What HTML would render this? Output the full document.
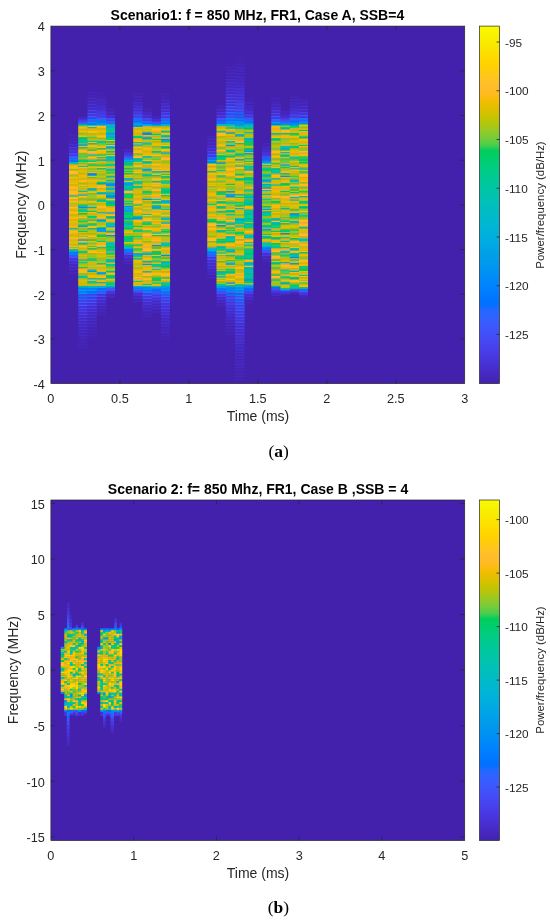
<!DOCTYPE html>
<html lang="en"><head><meta charset="utf-8"><title>Spectrograms</title>
<style>
html,body{margin:0;padding:0;background:#fff}
body{width:550px;height:923px;overflow:hidden;position:relative}
svg{position:absolute;left:0;top:0;display:block}
text{font-family:"Liberation Sans",Arial,Helvetica,sans-serif}
</style></head><body>
<svg width="550" height="923" viewBox="0 0 550 923">
<defs>
<linearGradient id="pg" x1="0" y1="1" x2="0" y2="0"><stop offset="0.0000" stop-color="#4321ad"/><stop offset="0.0159" stop-color="#4526b9"/><stop offset="0.0317" stop-color="#462ac4"/><stop offset="0.0476" stop-color="#472fd0"/><stop offset="0.0635" stop-color="#4834da"/><stop offset="0.0794" stop-color="#4839e3"/><stop offset="0.0952" stop-color="#483fea"/><stop offset="0.1111" stop-color="#4645f0"/><stop offset="0.1270" stop-color="#444bf5"/><stop offset="0.1429" stop-color="#4151f9"/><stop offset="0.1587" stop-color="#3d57fc"/><stop offset="0.1746" stop-color="#375dff"/><stop offset="0.1905" stop-color="#2f63ff"/><stop offset="0.2063" stop-color="#2269ff"/><stop offset="0.2222" stop-color="#0070ff"/><stop offset="0.2381" stop-color="#0076ff"/><stop offset="0.2540" stop-color="#007cff"/><stop offset="0.2698" stop-color="#0082fe"/><stop offset="0.2857" stop-color="#0088fb"/><stop offset="0.3016" stop-color="#008df6"/><stop offset="0.3175" stop-color="#0093f2"/><stop offset="0.3333" stop-color="#0098ee"/><stop offset="0.3492" stop-color="#009deb"/><stop offset="0.3651" stop-color="#00a1e8"/><stop offset="0.3810" stop-color="#00a6e5"/><stop offset="0.3968" stop-color="#00abe2"/><stop offset="0.4127" stop-color="#00afde"/><stop offset="0.4286" stop-color="#00b3d9"/><stop offset="0.4444" stop-color="#00b6d2"/><stop offset="0.4603" stop-color="#00b9cc"/><stop offset="0.4762" stop-color="#00bcc5"/><stop offset="0.4921" stop-color="#00bebe"/><stop offset="0.5079" stop-color="#00c1b7"/><stop offset="0.5238" stop-color="#00c3af"/><stop offset="0.5397" stop-color="#00c5a7"/><stop offset="0.5556" stop-color="#00c79f"/><stop offset="0.5714" stop-color="#00c996"/><stop offset="0.5873" stop-color="#00cb8c"/><stop offset="0.6032" stop-color="#00cd81"/><stop offset="0.6190" stop-color="#00cd76"/><stop offset="0.6349" stop-color="#00ce69"/><stop offset="0.6508" stop-color="#00ce5b"/><stop offset="0.6667" stop-color="#49cd4e"/><stop offset="0.6825" stop-color="#6dcc3f"/><stop offset="0.6984" stop-color="#89ca30"/><stop offset="0.7143" stop-color="#a0c81f"/><stop offset="0.7302" stop-color="#b5c60b"/><stop offset="0.7460" stop-color="#c8c300"/><stop offset="0.7619" stop-color="#d9c100"/><stop offset="0.7778" stop-color="#e8be00"/><stop offset="0.7937" stop-color="#f6bc05"/><stop offset="0.8095" stop-color="#ffbb1d"/><stop offset="0.8254" stop-color="#ffbc2a"/><stop offset="0.8413" stop-color="#ffbf28"/><stop offset="0.8571" stop-color="#ffc51f"/><stop offset="0.8730" stop-color="#ffcb11"/><stop offset="0.8889" stop-color="#ffd100"/><stop offset="0.9048" stop-color="#ffd700"/><stop offset="0.9206" stop-color="#ffdd00"/><stop offset="0.9365" stop-color="#fce300"/><stop offset="0.9524" stop-color="#f9ea00"/><stop offset="0.9683" stop-color="#f8ef00"/><stop offset="0.9841" stop-color="#f8f500"/><stop offset="1.0000" stop-color="#f9fb00"/><stop offset="1" stop-color="#f9fb00"/></linearGradient>
<clipPath id="c1"><rect x="50.9" y="26.1" width="413.8" height="357.5"/></clipPath>
<clipPath id="c2"><rect x="50.9" y="500.0" width="413.8" height="340.5"/></clipPath>
<filter id="bl" x="-0.05" y="-0.05" width="1.1" height="1.1"><feGaussianBlur stdDeviation="0.3"/></filter>
</defs>
<rect width="550" height="923" fill="#fff"/>
<rect x="50.9" y="26.1" width="413.8" height="357.5" fill="#4321ad"/>
<g clip-path="url(#c1)"><g filter="url(#bl)">
<rect x="69.00" y="163.00" width="9.55" height="1.60" fill="#00ca93"/>
<rect x="69.00" y="164.25" width="9.55" height="1.60" fill="#e6bf00"/>
<rect x="69.00" y="165.50" width="9.55" height="1.60" fill="#f7bc09"/>
<rect x="69.00" y="166.75" width="9.55" height="1.60" fill="#f5bc04"/>
<rect x="69.00" y="168.00" width="9.55" height="1.60" fill="#e7be00"/>
<rect x="69.00" y="169.25" width="9.55" height="1.60" fill="#96c927"/>
<rect x="69.00" y="170.50" width="9.55" height="1.60" fill="#ffbb28"/>
<rect x="69.00" y="171.75" width="9.55" height="1.60" fill="#ffbc29"/>
<rect x="69.00" y="173.00" width="9.55" height="1.60" fill="#ffbe29"/>
<rect x="69.00" y="174.25" width="9.55" height="1.60" fill="#e3bf00"/>
<rect x="69.00" y="175.50" width="9.55" height="1.60" fill="#9bc823"/>
<rect x="69.00" y="176.75" width="9.55" height="1.60" fill="#f0bd00"/>
<rect x="69.00" y="178.00" width="9.55" height="1.60" fill="#dfc000"/>
<rect x="69.00" y="179.25" width="9.55" height="1.60" fill="#f3bd02"/>
<rect x="69.00" y="180.50" width="9.55" height="1.60" fill="#f4bd03"/>
<rect x="69.00" y="181.75" width="9.55" height="1.60" fill="#c3c400"/>
<rect x="69.00" y="183.00" width="9.55" height="1.60" fill="#f8bc0b"/>
<rect x="69.00" y="184.25" width="9.55" height="1.60" fill="#ecbe00"/>
<rect x="69.00" y="185.50" width="9.55" height="1.60" fill="#f2bd01"/>
<rect x="69.00" y="186.75" width="9.55" height="1.60" fill="#f6bc07"/>
<rect x="69.00" y="188.00" width="9.55" height="1.60" fill="#fbbc13"/>
<rect x="69.00" y="189.25" width="9.55" height="1.60" fill="#ffbb24"/>
<rect x="69.00" y="190.50" width="9.55" height="1.60" fill="#fbbc12"/>
<rect x="69.00" y="191.75" width="9.55" height="1.60" fill="#ffbb22"/>
<rect x="69.00" y="193.00" width="9.55" height="1.60" fill="#febc18"/>
<rect x="69.00" y="194.25" width="9.55" height="1.60" fill="#ffbb20"/>
<rect x="69.00" y="195.50" width="9.55" height="1.60" fill="#00c89b"/>
<rect x="69.00" y="196.75" width="9.55" height="1.60" fill="#febc18"/>
<rect x="69.00" y="198.00" width="9.55" height="1.60" fill="#fdbc16"/>
<rect x="69.00" y="199.25" width="9.55" height="1.60" fill="#f1bd00"/>
<rect x="69.00" y="200.50" width="9.55" height="1.60" fill="#f9bc0f"/>
<rect x="69.00" y="201.75" width="9.55" height="1.60" fill="#f1bd00"/>
<rect x="69.00" y="203.00" width="9.55" height="1.60" fill="#92c929"/>
<rect x="69.00" y="204.25" width="9.55" height="1.60" fill="#ffbb24"/>
<rect x="69.00" y="205.50" width="9.55" height="1.60" fill="#a4c81c"/>
<rect x="69.00" y="206.75" width="9.55" height="1.60" fill="#ffbb24"/>
<rect x="69.00" y="208.00" width="9.55" height="1.60" fill="#e6bf00"/>
<rect x="69.00" y="209.25" width="9.55" height="1.60" fill="#f6bc06"/>
<rect x="69.00" y="210.50" width="9.55" height="1.60" fill="#dcc000"/>
<rect x="69.00" y="211.75" width="9.55" height="1.60" fill="#f9bc0f"/>
<rect x="69.00" y="213.00" width="9.55" height="1.60" fill="#f7bc0a"/>
<rect x="69.00" y="214.25" width="9.55" height="1.60" fill="#dfc000"/>
<rect x="69.00" y="215.50" width="9.55" height="1.60" fill="#cfc200"/>
<rect x="69.00" y="216.75" width="9.55" height="1.60" fill="#f2bd00"/>
<rect x="69.00" y="218.00" width="9.55" height="1.60" fill="#f6bc06"/>
<rect x="69.00" y="219.25" width="9.55" height="1.60" fill="#e7be00"/>
<rect x="69.00" y="220.50" width="9.55" height="1.60" fill="#efbd00"/>
<rect x="69.00" y="221.75" width="9.55" height="1.60" fill="#dcc000"/>
<rect x="69.00" y="223.00" width="9.55" height="1.60" fill="#ccc300"/>
<rect x="69.00" y="224.25" width="9.55" height="1.60" fill="#ffbb24"/>
<rect x="69.00" y="225.50" width="9.55" height="1.60" fill="#eabe00"/>
<rect x="69.00" y="226.75" width="9.55" height="1.60" fill="#e3bf00"/>
<rect x="69.00" y="228.00" width="9.55" height="1.60" fill="#00c3ae"/>
<rect x="69.00" y="229.25" width="9.55" height="1.60" fill="#e2bf00"/>
<rect x="69.00" y="230.50" width="9.55" height="1.60" fill="#ffbb22"/>
<rect x="69.00" y="231.75" width="9.55" height="1.60" fill="#f7bc09"/>
<rect x="69.00" y="233.00" width="9.55" height="1.60" fill="#e4bf00"/>
<rect x="69.00" y="234.25" width="9.55" height="1.60" fill="#f8bc0b"/>
<rect x="69.00" y="235.50" width="9.55" height="1.60" fill="#c3c400"/>
<rect x="69.00" y="236.75" width="9.55" height="1.60" fill="#e5bf00"/>
<rect x="69.00" y="238.00" width="9.55" height="1.60" fill="#ffbb1f"/>
<rect x="69.00" y="239.25" width="9.55" height="1.60" fill="#ffbb21"/>
<rect x="69.00" y="240.50" width="9.55" height="1.60" fill="#cbc300"/>
<rect x="69.00" y="241.75" width="9.55" height="1.60" fill="#e9be00"/>
<rect x="69.00" y="243.00" width="9.55" height="1.60" fill="#dec000"/>
<rect x="69.00" y="244.25" width="9.55" height="1.60" fill="#d5c100"/>
<rect x="69.00" y="245.50" width="9.55" height="1.60" fill="#ffbb28"/>
<rect x="69.00" y="246.75" width="9.55" height="1.60" fill="#79cb39"/>
<rect x="69.00" y="248.00" width="9.55" height="1.60" fill="#e8be00"/>
<rect x="69.00" y="249.25" width="9.55" height="1.60" fill="#00c997"/>
<rect x="69.00" y="250.50" width="9.55" height="0.85" fill="#00ca93"/>
<rect x="69.00" y="161.60" width="9.55" height="1.65" fill="#00b2da"/>
<rect x="69.00" y="160.00" width="9.55" height="1.85" fill="#166cff"/>
<rect x="69.00" y="158.60" width="9.55" height="1.65" fill="#007eff"/>
<rect x="69.00" y="157.00" width="9.55" height="1.85" fill="#365eff"/>
<rect x="69.00" y="155.60" width="9.55" height="1.65" fill="#395bfe"/>
<rect x="69.00" y="154.00" width="9.55" height="1.85" fill="#4837df"/>
<rect x="69.00" y="152.60" width="9.55" height="1.65" fill="#444bf4"/>
<rect x="69.00" y="151.00" width="9.55" height="1.85" fill="#472fcf"/>
<rect x="69.00" y="149.60" width="9.55" height="1.65" fill="#4839e2"/>
<rect x="69.00" y="148.00" width="9.55" height="1.85" fill="#462bc7"/>
<rect x="69.00" y="146.60" width="9.55" height="1.65" fill="#4834db"/>
<rect x="69.00" y="145.00" width="9.55" height="1.85" fill="#4527bd"/>
<rect x="69.00" y="143.60" width="9.55" height="1.65" fill="#472ece"/>
<rect x="69.00" y="140.60" width="9.55" height="1.65" fill="#4629c1"/>
<rect x="69.00" y="137.60" width="9.55" height="1.65" fill="#4526ba"/>
<rect x="69.00" y="134.60" width="9.55" height="1.65" fill="#4425b8"/>
<rect x="69.00" y="251.00" width="9.55" height="1.65" fill="#00a4e7"/>
<rect x="69.00" y="252.40" width="9.55" height="1.85" fill="#007dff"/>
<rect x="69.00" y="254.00" width="9.55" height="1.65" fill="#0083fd"/>
<rect x="69.00" y="255.40" width="9.55" height="1.85" fill="#424ff7"/>
<rect x="69.00" y="257.00" width="9.55" height="1.65" fill="#3f54fa"/>
<rect x="69.00" y="258.40" width="9.55" height="1.85" fill="#4830d2"/>
<rect x="69.00" y="260.00" width="9.55" height="1.65" fill="#4740ea"/>
<rect x="69.00" y="261.40" width="9.55" height="1.85" fill="#472cc8"/>
<rect x="69.00" y="263.00" width="9.55" height="1.65" fill="#4833da"/>
<rect x="69.00" y="264.40" width="9.55" height="1.85" fill="#4528be"/>
<rect x="69.00" y="266.00" width="9.55" height="1.65" fill="#472dca"/>
<rect x="69.00" y="267.40" width="9.55" height="1.85" fill="#4526ba"/>
<rect x="69.00" y="269.00" width="9.55" height="1.65" fill="#4629c1"/>
<rect x="69.00" y="272.00" width="9.55" height="1.65" fill="#4527bc"/>
<rect x="78.25" y="124.50" width="9.55" height="1.60" fill="#00c7a0"/>
<rect x="78.25" y="125.75" width="9.55" height="1.60" fill="#acc715"/>
<rect x="78.25" y="127.00" width="9.55" height="1.60" fill="#f4bd03"/>
<rect x="78.25" y="128.25" width="9.55" height="1.60" fill="#febc18"/>
<rect x="78.25" y="129.50" width="9.55" height="1.60" fill="#bcc502"/>
<rect x="78.25" y="130.75" width="9.55" height="1.60" fill="#f6bc08"/>
<rect x="78.25" y="132.00" width="9.55" height="1.60" fill="#b7c508"/>
<rect x="78.25" y="133.25" width="9.55" height="1.60" fill="#a6c71a"/>
<rect x="78.25" y="134.50" width="9.55" height="1.60" fill="#c4c400"/>
<rect x="78.25" y="135.75" width="9.55" height="1.60" fill="#f4bd03"/>
<rect x="78.25" y="137.00" width="9.55" height="1.60" fill="#00cd7c"/>
<rect x="78.25" y="138.25" width="9.55" height="1.60" fill="#00cd7d"/>
<rect x="78.25" y="139.50" width="9.55" height="1.60" fill="#00cc84"/>
<rect x="78.25" y="140.75" width="9.55" height="1.60" fill="#00cd80"/>
<rect x="78.25" y="142.00" width="9.55" height="1.60" fill="#00bec0"/>
<rect x="78.25" y="143.25" width="9.55" height="1.60" fill="#89ca2f"/>
<rect x="78.25" y="144.50" width="9.55" height="1.60" fill="#008ef6"/>
<rect x="78.25" y="145.75" width="9.55" height="1.60" fill="#f0bd00"/>
<rect x="78.25" y="147.00" width="9.55" height="1.60" fill="#00cd7a"/>
<rect x="78.25" y="148.25" width="9.55" height="1.60" fill="#9bc923"/>
<rect x="78.25" y="149.50" width="9.55" height="1.60" fill="#fcbc14"/>
<rect x="78.25" y="150.75" width="9.55" height="1.60" fill="#fdbc17"/>
<rect x="78.25" y="152.00" width="9.55" height="1.60" fill="#e7be00"/>
<rect x="78.25" y="153.25" width="9.55" height="1.60" fill="#81cb34"/>
<rect x="78.25" y="154.50" width="9.55" height="1.60" fill="#63cc44"/>
<rect x="78.25" y="155.75" width="9.55" height="1.60" fill="#4ecd4c"/>
<rect x="78.25" y="157.00" width="9.55" height="1.60" fill="#67cc42"/>
<rect x="78.25" y="158.25" width="9.55" height="1.60" fill="#ecbe00"/>
<rect x="78.25" y="159.50" width="9.55" height="1.60" fill="#00cd74"/>
<rect x="78.25" y="160.75" width="9.55" height="1.60" fill="#00ce67"/>
<rect x="78.25" y="162.00" width="9.55" height="1.60" fill="#84ca33"/>
<rect x="78.25" y="163.25" width="9.55" height="1.60" fill="#90ca2b"/>
<rect x="78.25" y="164.50" width="9.55" height="1.60" fill="#ffbb23"/>
<rect x="78.25" y="165.75" width="9.55" height="1.60" fill="#00cd7f"/>
<rect x="78.25" y="167.00" width="9.55" height="1.60" fill="#ffbb1e"/>
<rect x="78.25" y="168.25" width="9.55" height="1.60" fill="#f3bd02"/>
<rect x="78.25" y="169.50" width="9.55" height="1.60" fill="#dac000"/>
<rect x="78.25" y="170.75" width="9.55" height="1.60" fill="#d9c100"/>
<rect x="78.25" y="172.00" width="9.55" height="1.60" fill="#c6c300"/>
<rect x="78.25" y="173.25" width="9.55" height="1.60" fill="#e5bf00"/>
<rect x="78.25" y="174.50" width="9.55" height="1.60" fill="#f0bd00"/>
<rect x="78.25" y="175.75" width="9.55" height="1.60" fill="#ebbe00"/>
<rect x="78.25" y="177.00" width="9.55" height="1.60" fill="#e2bf00"/>
<rect x="78.25" y="178.25" width="9.55" height="1.60" fill="#eabe00"/>
<rect x="78.25" y="179.50" width="9.55" height="1.60" fill="#efbd00"/>
<rect x="78.25" y="180.75" width="9.55" height="1.60" fill="#ffbb1c"/>
<rect x="78.25" y="182.00" width="9.55" height="1.60" fill="#c1c400"/>
<rect x="78.25" y="183.25" width="9.55" height="1.60" fill="#b7c509"/>
<rect x="78.25" y="184.50" width="9.55" height="1.60" fill="#ffbb1d"/>
<rect x="78.25" y="185.75" width="9.55" height="1.60" fill="#a0c81f"/>
<rect x="78.25" y="187.00" width="9.55" height="1.60" fill="#dac000"/>
<rect x="78.25" y="188.25" width="9.55" height="1.60" fill="#e4bf00"/>
<rect x="78.25" y="189.50" width="9.55" height="1.60" fill="#d7c100"/>
<rect x="78.25" y="190.75" width="9.55" height="1.60" fill="#00c5a5"/>
<rect x="78.25" y="192.00" width="9.55" height="1.60" fill="#e4bf00"/>
<rect x="78.25" y="193.25" width="9.55" height="1.60" fill="#edbe00"/>
<rect x="78.25" y="194.50" width="9.55" height="1.60" fill="#00b0dd"/>
<rect x="78.25" y="195.75" width="9.55" height="1.60" fill="#ffbb24"/>
<rect x="78.25" y="197.00" width="9.55" height="1.60" fill="#d2c200"/>
<rect x="78.25" y="198.25" width="9.55" height="1.60" fill="#a8c719"/>
<rect x="78.25" y="199.50" width="9.55" height="1.60" fill="#7bcb38"/>
<rect x="78.25" y="200.75" width="9.55" height="1.60" fill="#ebbe00"/>
<rect x="78.25" y="202.00" width="9.55" height="1.60" fill="#d9c100"/>
<rect x="78.25" y="203.25" width="9.55" height="1.60" fill="#f5bc04"/>
<rect x="78.25" y="204.50" width="9.55" height="1.60" fill="#00ce5a"/>
<rect x="78.25" y="205.75" width="9.55" height="1.60" fill="#00c1b4"/>
<rect x="78.25" y="207.00" width="9.55" height="1.60" fill="#008af9"/>
<rect x="78.25" y="208.25" width="9.55" height="1.60" fill="#7fcb36"/>
<rect x="78.25" y="209.50" width="9.55" height="1.60" fill="#00c5a8"/>
<rect x="78.25" y="210.75" width="9.55" height="1.60" fill="#00cd7b"/>
<rect x="78.25" y="212.00" width="9.55" height="1.60" fill="#c1c400"/>
<rect x="78.25" y="213.25" width="9.55" height="1.60" fill="#00ce5f"/>
<rect x="78.25" y="214.50" width="9.55" height="1.60" fill="#b7c508"/>
<rect x="78.25" y="215.75" width="9.55" height="1.60" fill="#dbc000"/>
<rect x="78.25" y="217.00" width="9.55" height="1.60" fill="#ffbb1d"/>
<rect x="78.25" y="218.25" width="9.55" height="1.60" fill="#b2c60f"/>
<rect x="78.25" y="219.50" width="9.55" height="1.60" fill="#7bcb38"/>
<rect x="78.25" y="220.75" width="9.55" height="1.60" fill="#00ce64"/>
<rect x="78.25" y="222.00" width="9.55" height="1.60" fill="#81cb34"/>
<rect x="78.25" y="223.25" width="9.55" height="1.60" fill="#d7c100"/>
<rect x="78.25" y="224.50" width="9.55" height="1.60" fill="#00cd78"/>
<rect x="78.25" y="225.75" width="9.55" height="1.60" fill="#009bec"/>
<rect x="78.25" y="227.00" width="9.55" height="1.60" fill="#b6c509"/>
<rect x="78.25" y="228.25" width="9.55" height="1.60" fill="#b3c60d"/>
<rect x="78.25" y="229.50" width="9.55" height="1.60" fill="#a1c81f"/>
<rect x="78.25" y="230.75" width="9.55" height="1.60" fill="#00ce71"/>
<rect x="78.25" y="232.00" width="9.55" height="1.60" fill="#d6c100"/>
<rect x="78.25" y="233.25" width="9.55" height="1.60" fill="#b7c508"/>
<rect x="78.25" y="234.50" width="9.55" height="1.60" fill="#f1bd00"/>
<rect x="78.25" y="235.75" width="9.55" height="1.60" fill="#86ca31"/>
<rect x="78.25" y="237.00" width="9.55" height="1.60" fill="#ffbb25"/>
<rect x="78.25" y="238.25" width="9.55" height="1.60" fill="#eebd00"/>
<rect x="78.25" y="239.50" width="9.55" height="1.60" fill="#0099ed"/>
<rect x="78.25" y="240.75" width="9.55" height="1.60" fill="#ffbb23"/>
<rect x="78.25" y="242.00" width="9.55" height="1.60" fill="#89ca2f"/>
<rect x="78.25" y="243.25" width="9.55" height="1.60" fill="#00bdc1"/>
<rect x="78.25" y="244.50" width="9.55" height="1.60" fill="#c5c400"/>
<rect x="78.25" y="245.75" width="9.55" height="1.60" fill="#ffbb20"/>
<rect x="78.25" y="247.00" width="9.55" height="1.60" fill="#d2c200"/>
<rect x="78.25" y="248.25" width="9.55" height="1.60" fill="#e5bf00"/>
<rect x="78.25" y="249.50" width="9.55" height="1.60" fill="#dfc000"/>
<rect x="78.25" y="250.75" width="9.55" height="1.60" fill="#00cc83"/>
<rect x="78.25" y="252.00" width="9.55" height="1.60" fill="#00cd7d"/>
<rect x="78.25" y="253.25" width="9.55" height="1.60" fill="#c6c300"/>
<rect x="78.25" y="254.50" width="9.55" height="1.60" fill="#eabe00"/>
<rect x="78.25" y="255.75" width="9.55" height="1.60" fill="#9dc822"/>
<rect x="78.25" y="257.00" width="9.55" height="1.60" fill="#d5c100"/>
<rect x="78.25" y="258.25" width="9.55" height="1.60" fill="#e2bf00"/>
<rect x="78.25" y="259.50" width="9.55" height="1.60" fill="#00bfbb"/>
<rect x="78.25" y="260.75" width="9.55" height="1.60" fill="#8dca2d"/>
<rect x="78.25" y="262.00" width="9.55" height="1.60" fill="#00c998"/>
<rect x="78.25" y="263.25" width="9.55" height="1.60" fill="#c7c300"/>
<rect x="78.25" y="264.50" width="9.55" height="1.60" fill="#b9c506"/>
<rect x="78.25" y="265.75" width="9.55" height="1.60" fill="#c4c400"/>
<rect x="78.25" y="267.00" width="9.55" height="1.60" fill="#00ce5b"/>
<rect x="78.25" y="268.25" width="9.55" height="1.60" fill="#ffbb22"/>
<rect x="78.25" y="269.50" width="9.55" height="1.60" fill="#ffbb21"/>
<rect x="78.25" y="270.75" width="9.55" height="1.60" fill="#fcbc15"/>
<rect x="78.25" y="272.00" width="9.55" height="1.60" fill="#f8bc0d"/>
<rect x="78.25" y="273.25" width="9.55" height="1.60" fill="#9fc81f"/>
<rect x="78.25" y="274.50" width="9.55" height="1.60" fill="#8bca2e"/>
<rect x="78.25" y="275.75" width="9.55" height="1.60" fill="#00c3af"/>
<rect x="78.25" y="277.00" width="9.55" height="1.60" fill="#00ca91"/>
<rect x="78.25" y="278.25" width="9.55" height="1.60" fill="#dec000"/>
<rect x="78.25" y="279.50" width="9.55" height="1.60" fill="#d8c100"/>
<rect x="78.25" y="280.75" width="9.55" height="1.60" fill="#cdc200"/>
<rect x="78.25" y="282.00" width="9.55" height="1.60" fill="#c5c400"/>
<rect x="78.25" y="283.25" width="9.55" height="1.60" fill="#ebbe00"/>
<rect x="78.25" y="284.50" width="9.55" height="1.60" fill="#e7be00"/>
<rect x="78.25" y="285.75" width="9.55" height="1.30" fill="#00ce5a"/>
<rect x="78.25" y="123.10" width="9.55" height="1.65" fill="#009bec"/>
<rect x="78.25" y="121.50" width="9.55" height="1.85" fill="#4151f8"/>
<rect x="78.25" y="120.10" width="9.55" height="1.65" fill="#4548f2"/>
<rect x="78.25" y="118.50" width="9.55" height="1.85" fill="#4830d2"/>
<rect x="78.25" y="117.10" width="9.55" height="1.65" fill="#462ac4"/>
<rect x="78.25" y="286.70" width="9.55" height="1.65" fill="#00a0e9"/>
<rect x="78.25" y="288.10" width="9.55" height="1.85" fill="#0084fd"/>
<rect x="78.25" y="289.70" width="9.55" height="1.65" fill="#00a4e7"/>
<rect x="78.25" y="291.10" width="9.55" height="1.85" fill="#007fff"/>
<rect x="78.25" y="292.70" width="9.55" height="1.65" fill="#0098ee"/>
<rect x="78.25" y="294.10" width="9.55" height="1.85" fill="#4646f1"/>
<rect x="78.25" y="295.70" width="9.55" height="1.65" fill="#096eff"/>
<rect x="78.25" y="297.10" width="9.55" height="1.85" fill="#4645ef"/>
<rect x="78.25" y="298.70" width="9.55" height="1.65" fill="#0077ff"/>
<rect x="78.25" y="300.10" width="9.55" height="1.85" fill="#483be5"/>
<rect x="78.25" y="301.70" width="9.55" height="1.65" fill="#345fff"/>
<rect x="78.25" y="303.10" width="9.55" height="1.85" fill="#4836de"/>
<rect x="78.25" y="304.70" width="9.55" height="1.65" fill="#3a5bfe"/>
<rect x="78.25" y="306.10" width="9.55" height="1.85" fill="#4831d5"/>
<rect x="78.25" y="307.70" width="9.55" height="1.65" fill="#4548f2"/>
<rect x="78.25" y="309.10" width="9.55" height="1.85" fill="#4832d7"/>
<rect x="78.25" y="310.70" width="9.55" height="1.65" fill="#4741ec"/>
<rect x="78.25" y="312.10" width="9.55" height="1.85" fill="#472fd0"/>
<rect x="78.25" y="313.70" width="9.55" height="1.65" fill="#4742ec"/>
<rect x="78.25" y="315.10" width="9.55" height="1.85" fill="#472dcb"/>
<rect x="78.25" y="316.70" width="9.55" height="1.65" fill="#483ee8"/>
<rect x="78.25" y="318.10" width="9.55" height="1.85" fill="#4629c2"/>
<rect x="78.25" y="319.70" width="9.55" height="1.65" fill="#4838e1"/>
<rect x="78.25" y="321.10" width="9.55" height="1.85" fill="#4528be"/>
<rect x="78.25" y="322.70" width="9.55" height="1.65" fill="#4830d3"/>
<rect x="78.25" y="324.10" width="9.55" height="1.85" fill="#4528bf"/>
<rect x="78.25" y="325.70" width="9.55" height="1.65" fill="#472ecd"/>
<rect x="78.25" y="327.10" width="9.55" height="1.85" fill="#4527bd"/>
<rect x="78.25" y="328.70" width="9.55" height="1.65" fill="#482fd1"/>
<rect x="78.25" y="330.10" width="9.55" height="1.85" fill="#4526ba"/>
<rect x="78.25" y="331.70" width="9.55" height="1.65" fill="#472cc8"/>
<rect x="78.25" y="333.10" width="9.55" height="1.85" fill="#4425b8"/>
<rect x="78.25" y="334.70" width="9.55" height="1.65" fill="#462bc6"/>
<rect x="78.25" y="337.70" width="9.55" height="1.65" fill="#4628c0"/>
<rect x="78.25" y="340.70" width="9.55" height="1.65" fill="#4527bd"/>
<rect x="78.25" y="343.70" width="9.55" height="1.65" fill="#4527bd"/>
<rect x="78.25" y="346.70" width="9.55" height="1.65" fill="#4526ba"/>
<rect x="87.50" y="124.50" width="9.55" height="1.60" fill="#00bdc2"/>
<rect x="87.50" y="125.75" width="9.55" height="1.60" fill="#f7bc09"/>
<rect x="87.50" y="127.00" width="9.55" height="1.60" fill="#00c3af"/>
<rect x="87.50" y="128.25" width="9.55" height="1.60" fill="#f6bc05"/>
<rect x="87.50" y="129.50" width="9.55" height="1.60" fill="#d3c100"/>
<rect x="87.50" y="130.75" width="9.55" height="1.60" fill="#fbbc13"/>
<rect x="87.50" y="132.00" width="9.55" height="1.60" fill="#fbbc13"/>
<rect x="87.50" y="133.25" width="9.55" height="1.60" fill="#d7c100"/>
<rect x="87.50" y="134.50" width="9.55" height="1.60" fill="#cac300"/>
<rect x="87.50" y="135.75" width="9.55" height="1.60" fill="#a5c71b"/>
<rect x="87.50" y="137.00" width="9.55" height="1.60" fill="#4acd4e"/>
<rect x="87.50" y="138.25" width="9.55" height="1.60" fill="#d9c100"/>
<rect x="87.50" y="139.50" width="9.55" height="1.60" fill="#c7c300"/>
<rect x="87.50" y="140.75" width="9.55" height="1.60" fill="#00c4ab"/>
<rect x="87.50" y="142.00" width="9.55" height="1.60" fill="#febc18"/>
<rect x="87.50" y="143.25" width="9.55" height="1.60" fill="#00cd7e"/>
<rect x="87.50" y="144.50" width="9.55" height="1.60" fill="#f3bd01"/>
<rect x="87.50" y="145.75" width="9.55" height="1.60" fill="#fcbc15"/>
<rect x="87.50" y="147.00" width="9.55" height="1.60" fill="#93c929"/>
<rect x="87.50" y="148.25" width="9.55" height="1.60" fill="#e9be00"/>
<rect x="87.50" y="149.50" width="9.55" height="1.60" fill="#00cd80"/>
<rect x="87.50" y="150.75" width="9.55" height="1.60" fill="#f6bc07"/>
<rect x="87.50" y="152.00" width="9.55" height="1.60" fill="#ffbb24"/>
<rect x="87.50" y="153.25" width="9.55" height="1.60" fill="#ffbc2a"/>
<rect x="87.50" y="154.50" width="9.55" height="1.60" fill="#00c0b9"/>
<rect x="87.50" y="155.75" width="9.55" height="1.60" fill="#bfc400"/>
<rect x="87.50" y="157.00" width="9.55" height="1.60" fill="#ffbb1c"/>
<rect x="87.50" y="158.25" width="9.55" height="1.60" fill="#ffbb24"/>
<rect x="87.50" y="159.50" width="9.55" height="1.60" fill="#3fcd51"/>
<rect x="87.50" y="160.75" width="9.55" height="1.60" fill="#00cd7c"/>
<rect x="87.50" y="162.00" width="9.55" height="1.60" fill="#ffbb22"/>
<rect x="87.50" y="163.25" width="9.55" height="1.60" fill="#8aca2f"/>
<rect x="87.50" y="164.50" width="9.55" height="1.60" fill="#00ce67"/>
<rect x="87.50" y="165.75" width="9.55" height="1.60" fill="#a9c718"/>
<rect x="87.50" y="167.00" width="9.55" height="1.60" fill="#ebbe00"/>
<rect x="87.50" y="168.25" width="9.55" height="1.60" fill="#acc716"/>
<rect x="87.50" y="169.50" width="9.55" height="1.60" fill="#a8c719"/>
<rect x="87.50" y="170.75" width="9.55" height="1.60" fill="#8fca2b"/>
<rect x="87.50" y="172.00" width="9.55" height="1.60" fill="#ecbe00"/>
<rect x="87.50" y="173.25" width="9.55" height="1.60" fill="#008cf8"/>
<rect x="87.50" y="174.50" width="9.55" height="1.60" fill="#008bf8"/>
<rect x="87.50" y="175.75" width="9.55" height="1.60" fill="#f2bd01"/>
<rect x="87.50" y="177.00" width="9.55" height="1.60" fill="#3ccd52"/>
<rect x="87.50" y="178.25" width="9.55" height="1.60" fill="#e3bf00"/>
<rect x="87.50" y="179.50" width="9.55" height="1.60" fill="#edbe00"/>
<rect x="87.50" y="180.75" width="9.55" height="1.60" fill="#e4bf00"/>
<rect x="87.50" y="182.00" width="9.55" height="1.60" fill="#d6c100"/>
<rect x="87.50" y="183.25" width="9.55" height="1.60" fill="#f2bd00"/>
<rect x="87.50" y="184.50" width="9.55" height="1.60" fill="#eebd00"/>
<rect x="87.50" y="185.75" width="9.55" height="1.60" fill="#dcc000"/>
<rect x="87.50" y="187.00" width="9.55" height="1.60" fill="#edbd00"/>
<rect x="87.50" y="188.25" width="9.55" height="1.60" fill="#00bfbc"/>
<rect x="87.50" y="189.50" width="9.55" height="1.60" fill="#00bfba"/>
<rect x="87.50" y="190.75" width="9.55" height="1.60" fill="#d7c100"/>
<rect x="87.50" y="192.00" width="9.55" height="1.60" fill="#f6bc06"/>
<rect x="87.50" y="193.25" width="9.55" height="1.60" fill="#7bcb38"/>
<rect x="87.50" y="194.50" width="9.55" height="1.60" fill="#9cc823"/>
<rect x="87.50" y="195.75" width="9.55" height="1.60" fill="#92c929"/>
<rect x="87.50" y="197.00" width="9.55" height="1.60" fill="#aec613"/>
<rect x="87.50" y="198.25" width="9.55" height="1.60" fill="#bac505"/>
<rect x="87.50" y="199.50" width="9.55" height="1.60" fill="#46cd4f"/>
<rect x="87.50" y="200.75" width="9.55" height="1.60" fill="#f7bc09"/>
<rect x="87.50" y="202.00" width="9.55" height="1.60" fill="#e7be00"/>
<rect x="87.50" y="203.25" width="9.55" height="1.60" fill="#a1c81f"/>
<rect x="87.50" y="204.50" width="9.55" height="1.60" fill="#8aca2f"/>
<rect x="87.50" y="205.75" width="9.55" height="1.60" fill="#a0c81f"/>
<rect x="87.50" y="207.00" width="9.55" height="1.60" fill="#00a3e7"/>
<rect x="87.50" y="208.25" width="9.55" height="1.60" fill="#fdbc16"/>
<rect x="87.50" y="209.50" width="9.55" height="1.60" fill="#d3c100"/>
<rect x="87.50" y="210.75" width="9.55" height="1.60" fill="#00ce5b"/>
<rect x="87.50" y="212.00" width="9.55" height="1.60" fill="#ffbb23"/>
<rect x="87.50" y="213.25" width="9.55" height="1.60" fill="#d9c100"/>
<rect x="87.50" y="214.50" width="9.55" height="1.60" fill="#dcc000"/>
<rect x="87.50" y="215.75" width="9.55" height="1.60" fill="#00cd7c"/>
<rect x="87.50" y="217.00" width="9.55" height="1.60" fill="#00cc86"/>
<rect x="87.50" y="218.25" width="9.55" height="1.60" fill="#f4bd04"/>
<rect x="87.50" y="219.50" width="9.55" height="1.60" fill="#00cd7a"/>
<rect x="87.50" y="220.75" width="9.55" height="1.60" fill="#ddc000"/>
<rect x="87.50" y="222.00" width="9.55" height="1.60" fill="#d8c100"/>
<rect x="87.50" y="223.25" width="9.55" height="1.60" fill="#42cd50"/>
<rect x="87.50" y="224.50" width="9.55" height="1.60" fill="#00cd81"/>
<rect x="87.50" y="225.75" width="9.55" height="1.60" fill="#f6bc07"/>
<rect x="87.50" y="227.00" width="9.55" height="1.60" fill="#fbbc13"/>
<rect x="87.50" y="228.25" width="9.55" height="1.60" fill="#00c5a7"/>
<rect x="87.50" y="229.50" width="9.55" height="1.60" fill="#b1c610"/>
<rect x="87.50" y="230.75" width="9.55" height="1.60" fill="#adc714"/>
<rect x="87.50" y="232.00" width="9.55" height="1.60" fill="#c3c400"/>
<rect x="87.50" y="233.25" width="9.55" height="1.60" fill="#bcc502"/>
<rect x="87.50" y="234.50" width="9.55" height="1.60" fill="#d1c200"/>
<rect x="87.50" y="235.75" width="9.55" height="1.60" fill="#ffbb20"/>
<rect x="87.50" y="237.00" width="9.55" height="1.60" fill="#b5c60b"/>
<rect x="87.50" y="238.25" width="9.55" height="1.60" fill="#eebd00"/>
<rect x="87.50" y="239.50" width="9.55" height="1.60" fill="#00ce5a"/>
<rect x="87.50" y="240.75" width="9.55" height="1.60" fill="#eabe00"/>
<rect x="87.50" y="242.00" width="9.55" height="1.60" fill="#8cca2d"/>
<rect x="87.50" y="243.25" width="9.55" height="1.60" fill="#a8c719"/>
<rect x="87.50" y="244.50" width="9.55" height="1.60" fill="#f7bc08"/>
<rect x="87.50" y="245.75" width="9.55" height="1.60" fill="#44cd50"/>
<rect x="87.50" y="247.00" width="9.55" height="1.60" fill="#e8be00"/>
<rect x="87.50" y="248.25" width="9.55" height="1.60" fill="#00ce64"/>
<rect x="87.50" y="249.50" width="9.55" height="1.60" fill="#dac000"/>
<rect x="87.50" y="250.75" width="9.55" height="1.60" fill="#fcbc14"/>
<rect x="87.50" y="252.00" width="9.55" height="1.60" fill="#ffbb1f"/>
<rect x="87.50" y="253.25" width="9.55" height="1.60" fill="#bec500"/>
<rect x="87.50" y="254.50" width="9.55" height="1.60" fill="#a8c719"/>
<rect x="87.50" y="255.75" width="9.55" height="1.60" fill="#86ca31"/>
<rect x="87.50" y="257.00" width="9.55" height="1.60" fill="#9dc821"/>
<rect x="87.50" y="258.25" width="9.55" height="1.60" fill="#40cd51"/>
<rect x="87.50" y="259.50" width="9.55" height="1.60" fill="#00cd77"/>
<rect x="87.50" y="260.75" width="9.55" height="1.60" fill="#93c929"/>
<rect x="87.50" y="262.00" width="9.55" height="1.60" fill="#c6c300"/>
<rect x="87.50" y="263.25" width="9.55" height="1.60" fill="#ffbb24"/>
<rect x="87.50" y="264.50" width="9.55" height="1.60" fill="#b1c610"/>
<rect x="87.50" y="265.75" width="9.55" height="1.60" fill="#dfc000"/>
<rect x="87.50" y="267.00" width="9.55" height="1.60" fill="#95c927"/>
<rect x="87.50" y="268.25" width="9.55" height="1.60" fill="#ffbb1a"/>
<rect x="87.50" y="269.50" width="9.55" height="1.60" fill="#00cd81"/>
<rect x="87.50" y="270.75" width="9.55" height="1.60" fill="#0099ed"/>
<rect x="87.50" y="272.00" width="9.55" height="1.60" fill="#c5c300"/>
<rect x="87.50" y="273.25" width="9.55" height="1.60" fill="#c3c400"/>
<rect x="87.50" y="274.50" width="9.55" height="1.60" fill="#e9be00"/>
<rect x="87.50" y="275.75" width="9.55" height="1.60" fill="#e7be00"/>
<rect x="87.50" y="277.00" width="9.55" height="1.60" fill="#ddc000"/>
<rect x="87.50" y="278.25" width="9.55" height="1.60" fill="#00c0b9"/>
<rect x="87.50" y="279.50" width="9.55" height="1.60" fill="#ffbb24"/>
<rect x="87.50" y="280.75" width="9.55" height="1.60" fill="#00c998"/>
<rect x="87.50" y="282.00" width="9.55" height="1.60" fill="#00cd77"/>
<rect x="87.50" y="283.25" width="9.55" height="1.60" fill="#a1c81e"/>
<rect x="87.50" y="284.50" width="9.55" height="1.60" fill="#f0bd00"/>
<rect x="87.50" y="285.75" width="9.55" height="1.30" fill="#00c79f"/>
<rect x="87.50" y="122.90" width="9.55" height="1.85" fill="#007dff"/>
<rect x="87.50" y="121.50" width="9.55" height="1.65" fill="#0093f2"/>
<rect x="87.50" y="119.90" width="9.55" height="1.85" fill="#2b65ff"/>
<rect x="87.50" y="118.50" width="9.55" height="1.65" fill="#007bff"/>
<rect x="87.50" y="116.90" width="9.55" height="1.85" fill="#483de8"/>
<rect x="87.50" y="115.50" width="9.55" height="1.65" fill="#3c59fd"/>
<rect x="87.50" y="113.90" width="9.55" height="1.85" fill="#4835dc"/>
<rect x="87.50" y="112.50" width="9.55" height="1.65" fill="#434df5"/>
<rect x="87.50" y="110.90" width="9.55" height="1.85" fill="#472dcc"/>
<rect x="87.50" y="109.50" width="9.55" height="1.65" fill="#4644ef"/>
<rect x="87.50" y="107.90" width="9.55" height="1.85" fill="#462ac5"/>
<rect x="87.50" y="106.50" width="9.55" height="1.65" fill="#4834da"/>
<rect x="87.50" y="104.90" width="9.55" height="1.85" fill="#4528be"/>
<rect x="87.50" y="103.50" width="9.55" height="1.65" fill="#4831d4"/>
<rect x="87.50" y="101.90" width="9.55" height="1.85" fill="#4527bd"/>
<rect x="87.50" y="100.50" width="9.55" height="1.65" fill="#472dcb"/>
<rect x="87.50" y="97.50" width="9.55" height="1.65" fill="#4629c0"/>
<rect x="87.50" y="94.50" width="9.55" height="1.65" fill="#4527bd"/>
<rect x="87.50" y="91.50" width="9.55" height="1.65" fill="#4425b8"/>
<rect x="87.50" y="286.70" width="9.55" height="1.65" fill="#00a9e4"/>
<rect x="87.50" y="288.10" width="9.55" height="1.85" fill="#0083fd"/>
<rect x="87.50" y="289.70" width="9.55" height="1.65" fill="#0099ed"/>
<rect x="87.50" y="291.10" width="9.55" height="1.85" fill="#0072ff"/>
<rect x="87.50" y="292.70" width="9.55" height="1.65" fill="#007dff"/>
<rect x="87.50" y="294.10" width="9.55" height="1.85" fill="#4742ed"/>
<rect x="87.50" y="295.70" width="9.55" height="1.65" fill="#176cff"/>
<rect x="87.50" y="297.10" width="9.55" height="1.85" fill="#4836de"/>
<rect x="87.50" y="298.70" width="9.55" height="1.65" fill="#355fff"/>
<rect x="87.50" y="300.10" width="9.55" height="1.85" fill="#4837e0"/>
<rect x="87.50" y="301.70" width="9.55" height="1.65" fill="#3f54fa"/>
<rect x="87.50" y="303.10" width="9.55" height="1.85" fill="#4830d3"/>
<rect x="87.50" y="304.70" width="9.55" height="1.65" fill="#4646f1"/>
<rect x="87.50" y="306.10" width="9.55" height="1.85" fill="#472dcb"/>
<rect x="87.50" y="307.70" width="9.55" height="1.65" fill="#483de8"/>
<rect x="87.50" y="309.10" width="9.55" height="1.85" fill="#472cc9"/>
<rect x="87.50" y="310.70" width="9.55" height="1.65" fill="#4834db"/>
<rect x="87.50" y="312.10" width="9.55" height="1.85" fill="#462ac3"/>
<rect x="87.50" y="313.70" width="9.55" height="1.65" fill="#4831d4"/>
<rect x="87.50" y="315.10" width="9.55" height="1.85" fill="#4629c0"/>
<rect x="87.50" y="316.70" width="9.55" height="1.65" fill="#472ece"/>
<rect x="87.50" y="318.10" width="9.55" height="1.85" fill="#4527bc"/>
<rect x="87.50" y="319.70" width="9.55" height="1.65" fill="#462bc7"/>
<rect x="87.50" y="321.10" width="9.55" height="1.85" fill="#4526ba"/>
<rect x="87.50" y="322.70" width="9.55" height="1.65" fill="#472cc7"/>
<rect x="87.50" y="325.70" width="9.55" height="1.65" fill="#4528bf"/>
<rect x="87.50" y="328.70" width="9.55" height="1.65" fill="#4527bd"/>
<rect x="87.50" y="331.70" width="9.55" height="1.65" fill="#4526bb"/>
<rect x="87.50" y="334.70" width="9.55" height="1.65" fill="#4526b9"/>
<rect x="96.75" y="124.50" width="9.55" height="1.60" fill="#00b2d9"/>
<rect x="96.75" y="125.75" width="9.55" height="1.60" fill="#ffbb20"/>
<rect x="96.75" y="127.00" width="9.55" height="1.60" fill="#f5bc04"/>
<rect x="96.75" y="128.25" width="9.55" height="1.60" fill="#d4c100"/>
<rect x="96.75" y="129.50" width="9.55" height="1.60" fill="#d9c100"/>
<rect x="96.75" y="130.75" width="9.55" height="1.60" fill="#ebbe00"/>
<rect x="96.75" y="132.00" width="9.55" height="1.60" fill="#dbc000"/>
<rect x="96.75" y="133.25" width="9.55" height="1.60" fill="#d6c100"/>
<rect x="96.75" y="134.50" width="9.55" height="1.60" fill="#e4bf00"/>
<rect x="96.75" y="135.75" width="9.55" height="1.60" fill="#ffbb24"/>
<rect x="96.75" y="137.00" width="9.55" height="1.60" fill="#c4c400"/>
<rect x="96.75" y="138.25" width="9.55" height="1.60" fill="#9fc820"/>
<rect x="96.75" y="139.50" width="9.55" height="1.60" fill="#d4c100"/>
<rect x="96.75" y="140.75" width="9.55" height="1.60" fill="#00c7a0"/>
<rect x="96.75" y="142.00" width="9.55" height="1.60" fill="#00c89b"/>
<rect x="96.75" y="143.25" width="9.55" height="1.60" fill="#88ca30"/>
<rect x="96.75" y="144.50" width="9.55" height="1.60" fill="#97c926"/>
<rect x="96.75" y="145.75" width="9.55" height="1.60" fill="#e8be00"/>
<rect x="96.75" y="147.00" width="9.55" height="1.60" fill="#fdbc17"/>
<rect x="96.75" y="148.25" width="9.55" height="1.60" fill="#00ce5e"/>
<rect x="96.75" y="149.50" width="9.55" height="1.60" fill="#fdbc16"/>
<rect x="96.75" y="150.75" width="9.55" height="1.60" fill="#f1bd00"/>
<rect x="96.75" y="152.00" width="9.55" height="1.60" fill="#f0bd00"/>
<rect x="96.75" y="153.25" width="9.55" height="1.60" fill="#f3bd01"/>
<rect x="96.75" y="154.50" width="9.55" height="1.60" fill="#00ce60"/>
<rect x="96.75" y="155.75" width="9.55" height="1.60" fill="#f2bd00"/>
<rect x="96.75" y="157.00" width="9.55" height="1.60" fill="#00cd80"/>
<rect x="96.75" y="158.25" width="9.55" height="1.60" fill="#fabc11"/>
<rect x="96.75" y="159.50" width="9.55" height="1.60" fill="#00a0e9"/>
<rect x="96.75" y="160.75" width="9.55" height="1.60" fill="#aec613"/>
<rect x="96.75" y="162.00" width="9.55" height="1.60" fill="#bec500"/>
<rect x="96.75" y="163.25" width="9.55" height="1.60" fill="#ddc000"/>
<rect x="96.75" y="164.50" width="9.55" height="1.60" fill="#00ce65"/>
<rect x="96.75" y="165.75" width="9.55" height="1.60" fill="#85ca32"/>
<rect x="96.75" y="167.00" width="9.55" height="1.60" fill="#ffbb22"/>
<rect x="96.75" y="168.25" width="9.55" height="1.60" fill="#00ce6a"/>
<rect x="96.75" y="169.50" width="9.55" height="1.60" fill="#e5bf00"/>
<rect x="96.75" y="170.75" width="9.55" height="1.60" fill="#8bca2e"/>
<rect x="96.75" y="172.00" width="9.55" height="1.60" fill="#c9c300"/>
<rect x="96.75" y="173.25" width="9.55" height="1.60" fill="#cdc200"/>
<rect x="96.75" y="174.50" width="9.55" height="1.60" fill="#7ecb36"/>
<rect x="96.75" y="175.75" width="9.55" height="1.60" fill="#c3c400"/>
<rect x="96.75" y="177.00" width="9.55" height="1.60" fill="#99c924"/>
<rect x="96.75" y="178.25" width="9.55" height="1.60" fill="#93c929"/>
<rect x="96.75" y="179.50" width="9.55" height="1.60" fill="#f8bc0b"/>
<rect x="96.75" y="180.75" width="9.55" height="1.60" fill="#94c928"/>
<rect x="96.75" y="182.00" width="9.55" height="1.60" fill="#00ce5d"/>
<rect x="96.75" y="183.25" width="9.55" height="1.60" fill="#00a5e6"/>
<rect x="96.75" y="184.50" width="9.55" height="1.60" fill="#e1bf00"/>
<rect x="96.75" y="185.75" width="9.55" height="1.60" fill="#ffbb24"/>
<rect x="96.75" y="187.00" width="9.55" height="1.60" fill="#f9bc0d"/>
<rect x="96.75" y="188.25" width="9.55" height="1.60" fill="#dcc000"/>
<rect x="96.75" y="189.50" width="9.55" height="1.60" fill="#e3bf00"/>
<rect x="96.75" y="190.75" width="9.55" height="1.60" fill="#f2bd00"/>
<rect x="96.75" y="192.00" width="9.55" height="1.60" fill="#00c2b0"/>
<rect x="96.75" y="193.25" width="9.55" height="1.60" fill="#00c4a9"/>
<rect x="96.75" y="194.50" width="9.55" height="1.60" fill="#ffbb25"/>
<rect x="96.75" y="195.75" width="9.55" height="1.60" fill="#e2bf00"/>
<rect x="96.75" y="197.00" width="9.55" height="1.60" fill="#e1bf00"/>
<rect x="96.75" y="198.25" width="9.55" height="1.60" fill="#afc612"/>
<rect x="96.75" y="199.50" width="9.55" height="1.60" fill="#09ce59"/>
<rect x="96.75" y="200.75" width="9.55" height="1.60" fill="#00c5a7"/>
<rect x="96.75" y="202.00" width="9.55" height="1.60" fill="#dec000"/>
<rect x="96.75" y="203.25" width="9.55" height="1.60" fill="#dbc000"/>
<rect x="96.75" y="204.50" width="9.55" height="1.60" fill="#c5c300"/>
<rect x="96.75" y="205.75" width="9.55" height="1.60" fill="#fbbc13"/>
<rect x="96.75" y="207.00" width="9.55" height="1.60" fill="#ffbb22"/>
<rect x="96.75" y="208.25" width="9.55" height="1.60" fill="#ffbb1e"/>
<rect x="96.75" y="209.50" width="9.55" height="1.60" fill="#c4c400"/>
<rect x="96.75" y="210.75" width="9.55" height="1.60" fill="#d2c200"/>
<rect x="96.75" y="212.00" width="9.55" height="1.60" fill="#00bdc3"/>
<rect x="96.75" y="213.25" width="9.55" height="1.60" fill="#fbbc13"/>
<rect x="96.75" y="214.50" width="9.55" height="1.60" fill="#e8be00"/>
<rect x="96.75" y="215.75" width="9.55" height="1.60" fill="#dfc000"/>
<rect x="96.75" y="217.00" width="9.55" height="1.60" fill="#ffbb1a"/>
<rect x="96.75" y="218.25" width="9.55" height="1.60" fill="#fdbc16"/>
<rect x="96.75" y="219.50" width="9.55" height="1.60" fill="#008cf7"/>
<rect x="96.75" y="220.75" width="9.55" height="1.60" fill="#00c6a2"/>
<rect x="96.75" y="222.00" width="9.55" height="1.60" fill="#93c929"/>
<rect x="96.75" y="223.25" width="9.55" height="1.60" fill="#d7c100"/>
<rect x="96.75" y="224.50" width="9.55" height="1.60" fill="#b6c60a"/>
<rect x="96.75" y="225.75" width="9.55" height="1.60" fill="#e5bf00"/>
<rect x="96.75" y="227.00" width="9.55" height="1.60" fill="#00ca92"/>
<rect x="96.75" y="228.25" width="9.55" height="1.60" fill="#009aed"/>
<rect x="96.75" y="229.50" width="9.55" height="1.60" fill="#009fe9"/>
<rect x="96.75" y="230.75" width="9.55" height="1.60" fill="#00a2e7"/>
<rect x="96.75" y="232.00" width="9.55" height="1.60" fill="#b9c506"/>
<rect x="96.75" y="233.25" width="9.55" height="1.60" fill="#f9bc0e"/>
<rect x="96.75" y="234.50" width="9.55" height="1.60" fill="#00ce6a"/>
<rect x="96.75" y="235.75" width="9.55" height="1.60" fill="#00ce5a"/>
<rect x="96.75" y="237.00" width="9.55" height="1.60" fill="#bdc500"/>
<rect x="96.75" y="238.25" width="9.55" height="1.60" fill="#b7c509"/>
<rect x="96.75" y="239.50" width="9.55" height="1.60" fill="#a7c71a"/>
<rect x="96.75" y="240.75" width="9.55" height="1.60" fill="#00ce6e"/>
<rect x="96.75" y="242.00" width="9.55" height="1.60" fill="#efbd00"/>
<rect x="96.75" y="243.25" width="9.55" height="1.60" fill="#ffbb20"/>
<rect x="96.75" y="244.50" width="9.55" height="1.60" fill="#febc18"/>
<rect x="96.75" y="245.75" width="9.55" height="1.60" fill="#f4bd03"/>
<rect x="96.75" y="247.00" width="9.55" height="1.60" fill="#00c3ad"/>
<rect x="96.75" y="248.25" width="9.55" height="1.60" fill="#b4c60c"/>
<rect x="96.75" y="249.50" width="9.55" height="1.60" fill="#e4bf00"/>
<rect x="96.75" y="250.75" width="9.55" height="1.60" fill="#c2c400"/>
<rect x="96.75" y="252.00" width="9.55" height="1.60" fill="#ffbc19"/>
<rect x="96.75" y="253.25" width="9.55" height="1.60" fill="#f2bd01"/>
<rect x="96.75" y="254.50" width="9.55" height="1.60" fill="#cbc300"/>
<rect x="96.75" y="255.75" width="9.55" height="1.60" fill="#dcc000"/>
<rect x="96.75" y="257.00" width="9.55" height="1.60" fill="#97c926"/>
<rect x="96.75" y="258.25" width="9.55" height="1.60" fill="#d7c100"/>
<rect x="96.75" y="259.50" width="9.55" height="1.60" fill="#86ca31"/>
<rect x="96.75" y="260.75" width="9.55" height="1.60" fill="#81cb34"/>
<rect x="96.75" y="262.00" width="9.55" height="1.60" fill="#adc715"/>
<rect x="96.75" y="263.25" width="9.55" height="1.60" fill="#00c6a3"/>
<rect x="96.75" y="264.50" width="9.55" height="1.60" fill="#f6bc06"/>
<rect x="96.75" y="265.75" width="9.55" height="1.60" fill="#e6bf00"/>
<rect x="96.75" y="267.00" width="9.55" height="1.60" fill="#97c926"/>
<rect x="96.75" y="268.25" width="9.55" height="1.60" fill="#ffbb26"/>
<rect x="96.75" y="269.50" width="9.55" height="1.60" fill="#e9be00"/>
<rect x="96.75" y="270.75" width="9.55" height="1.60" fill="#d5c100"/>
<rect x="96.75" y="272.00" width="9.55" height="1.60" fill="#00a9e3"/>
<rect x="96.75" y="273.25" width="9.55" height="1.60" fill="#00a9e4"/>
<rect x="96.75" y="274.50" width="9.55" height="1.60" fill="#e0c000"/>
<rect x="96.75" y="275.75" width="9.55" height="1.60" fill="#d8c100"/>
<rect x="96.75" y="277.00" width="9.55" height="1.60" fill="#febc19"/>
<rect x="96.75" y="278.25" width="9.55" height="1.60" fill="#00c0ba"/>
<rect x="96.75" y="279.50" width="9.55" height="1.60" fill="#d5c100"/>
<rect x="96.75" y="280.75" width="9.55" height="1.60" fill="#f0bd00"/>
<rect x="96.75" y="282.00" width="9.55" height="1.60" fill="#00ace1"/>
<rect x="96.75" y="283.25" width="9.55" height="1.60" fill="#f0bd00"/>
<rect x="96.75" y="284.50" width="9.55" height="1.60" fill="#e5bf00"/>
<rect x="96.75" y="285.75" width="9.55" height="1.30" fill="#00b5d4"/>
<rect x="96.75" y="123.10" width="9.55" height="1.65" fill="#00a5e6"/>
<rect x="96.75" y="121.50" width="9.55" height="1.85" fill="#007bff"/>
<rect x="96.75" y="120.10" width="9.55" height="1.65" fill="#0083fd"/>
<rect x="96.75" y="118.50" width="9.55" height="1.85" fill="#3460ff"/>
<rect x="96.75" y="117.10" width="9.55" height="1.65" fill="#2c65ff"/>
<rect x="96.75" y="115.50" width="9.55" height="1.85" fill="#4834da"/>
<rect x="96.75" y="114.10" width="9.55" height="1.65" fill="#444bf4"/>
<rect x="96.75" y="112.50" width="9.55" height="1.85" fill="#4832d6"/>
<rect x="96.75" y="111.10" width="9.55" height="1.65" fill="#4742ed"/>
<rect x="96.75" y="109.50" width="9.55" height="1.85" fill="#472dca"/>
<rect x="96.75" y="108.10" width="9.55" height="1.65" fill="#4834db"/>
<rect x="96.75" y="106.50" width="9.55" height="1.85" fill="#4629c1"/>
<rect x="96.75" y="105.10" width="9.55" height="1.65" fill="#4831d4"/>
<rect x="96.75" y="103.50" width="9.55" height="1.85" fill="#4526bb"/>
<rect x="96.75" y="102.10" width="9.55" height="1.65" fill="#462bc6"/>
<rect x="96.75" y="100.50" width="9.55" height="1.85" fill="#4425b8"/>
<rect x="96.75" y="99.10" width="9.55" height="1.65" fill="#462ac3"/>
<rect x="96.75" y="96.10" width="9.55" height="1.65" fill="#4526ba"/>
<rect x="96.75" y="93.10" width="9.55" height="1.65" fill="#4525b8"/>
<rect x="96.75" y="286.70" width="9.55" height="1.65" fill="#00a5e6"/>
<rect x="96.75" y="288.10" width="9.55" height="1.85" fill="#0072ff"/>
<rect x="96.75" y="289.70" width="9.55" height="1.65" fill="#007fff"/>
<rect x="96.75" y="291.10" width="9.55" height="1.85" fill="#375dff"/>
<rect x="96.75" y="292.70" width="9.55" height="1.65" fill="#1d6bff"/>
<rect x="96.75" y="294.10" width="9.55" height="1.85" fill="#4831d5"/>
<rect x="96.75" y="295.70" width="9.55" height="1.65" fill="#434df6"/>
<rect x="96.75" y="297.10" width="9.55" height="1.85" fill="#472cc9"/>
<rect x="96.75" y="298.70" width="9.55" height="1.65" fill="#4839e3"/>
<rect x="96.75" y="300.10" width="9.55" height="1.85" fill="#462bc6"/>
<rect x="96.75" y="301.70" width="9.55" height="1.65" fill="#4833da"/>
<rect x="96.75" y="303.10" width="9.55" height="1.85" fill="#4528bf"/>
<rect x="96.75" y="304.70" width="9.55" height="1.65" fill="#472dcc"/>
<rect x="96.75" y="307.70" width="9.55" height="1.65" fill="#4629c2"/>
<rect x="96.75" y="310.70" width="9.55" height="1.65" fill="#4528be"/>
<rect x="96.75" y="313.70" width="9.55" height="1.65" fill="#4425b8"/>
<rect x="106.00" y="125.00" width="9.05" height="1.60" fill="#00cc88"/>
<rect x="106.00" y="126.25" width="9.05" height="1.60" fill="#00bbc7"/>
<rect x="106.00" y="127.50" width="9.05" height="1.60" fill="#00bdc2"/>
<rect x="106.00" y="128.75" width="9.05" height="1.60" fill="#00c5a8"/>
<rect x="106.00" y="130.00" width="9.05" height="1.60" fill="#00c5a6"/>
<rect x="106.00" y="131.25" width="9.05" height="1.60" fill="#41cd50"/>
<rect x="106.00" y="132.50" width="9.05" height="1.60" fill="#00a5e6"/>
<rect x="106.00" y="133.75" width="9.05" height="1.60" fill="#009fe9"/>
<rect x="106.00" y="135.00" width="9.05" height="1.60" fill="#00b9cc"/>
<rect x="106.00" y="136.25" width="9.05" height="1.60" fill="#00bbc8"/>
<rect x="106.00" y="137.50" width="9.05" height="1.60" fill="#00cb8d"/>
<rect x="106.00" y="138.75" width="9.05" height="1.60" fill="#00cd75"/>
<rect x="106.00" y="140.00" width="9.05" height="1.60" fill="#ffbb1a"/>
<rect x="106.00" y="141.25" width="9.05" height="1.60" fill="#00ce67"/>
<rect x="106.00" y="142.50" width="9.05" height="1.60" fill="#bbc503"/>
<rect x="106.00" y="143.75" width="9.05" height="1.60" fill="#00c2b2"/>
<rect x="106.00" y="145.00" width="9.05" height="1.60" fill="#ffbb25"/>
<rect x="106.00" y="146.25" width="9.05" height="1.60" fill="#00bebf"/>
<rect x="106.00" y="147.50" width="9.05" height="1.60" fill="#00aae3"/>
<rect x="106.00" y="148.75" width="9.05" height="1.60" fill="#9ac924"/>
<rect x="106.00" y="150.00" width="9.05" height="1.60" fill="#b2c60e"/>
<rect x="106.00" y="151.25" width="9.05" height="1.60" fill="#00c6a3"/>
<rect x="106.00" y="152.50" width="9.05" height="1.60" fill="#e3bf00"/>
<rect x="106.00" y="153.75" width="9.05" height="1.60" fill="#09ce59"/>
<rect x="106.00" y="155.00" width="9.05" height="1.60" fill="#ffbb1d"/>
<rect x="106.00" y="156.25" width="9.05" height="1.60" fill="#00c2b2"/>
<rect x="106.00" y="157.50" width="9.05" height="1.60" fill="#00c6a4"/>
<rect x="106.00" y="158.75" width="9.05" height="1.60" fill="#00bebe"/>
<rect x="106.00" y="160.00" width="9.05" height="1.60" fill="#00bfbd"/>
<rect x="106.00" y="161.25" width="9.05" height="1.60" fill="#b8c507"/>
<rect x="106.00" y="162.50" width="9.05" height="1.60" fill="#abc716"/>
<rect x="106.00" y="163.75" width="9.05" height="1.60" fill="#00cc84"/>
<rect x="106.00" y="165.00" width="9.05" height="1.60" fill="#00c6a4"/>
<rect x="106.00" y="166.25" width="9.05" height="1.60" fill="#ffbb1b"/>
<rect x="106.00" y="167.50" width="9.05" height="1.60" fill="#a9c718"/>
<rect x="106.00" y="168.75" width="9.05" height="1.60" fill="#00c1b4"/>
<rect x="106.00" y="170.00" width="9.05" height="1.60" fill="#00cc85"/>
<rect x="106.00" y="171.25" width="9.05" height="1.60" fill="#b4c60c"/>
<rect x="106.00" y="172.50" width="9.05" height="1.60" fill="#00cd78"/>
<rect x="106.00" y="173.75" width="9.05" height="1.60" fill="#d5c100"/>
<rect x="106.00" y="175.00" width="9.05" height="1.60" fill="#76cb3b"/>
<rect x="106.00" y="176.25" width="9.05" height="1.60" fill="#00bbc8"/>
<rect x="106.00" y="177.50" width="9.05" height="1.60" fill="#a3c81d"/>
<rect x="106.00" y="178.75" width="9.05" height="1.60" fill="#87ca30"/>
<rect x="106.00" y="180.00" width="9.05" height="1.60" fill="#00c1b6"/>
<rect x="106.00" y="181.25" width="9.05" height="1.60" fill="#bbc504"/>
<rect x="106.00" y="182.50" width="9.05" height="1.60" fill="#00a7e5"/>
<rect x="106.00" y="183.75" width="9.05" height="1.60" fill="#0090f5"/>
<rect x="106.00" y="185.00" width="9.05" height="1.60" fill="#008cf8"/>
<rect x="106.00" y="186.25" width="9.05" height="1.60" fill="#d5c100"/>
<rect x="106.00" y="187.50" width="9.05" height="1.60" fill="#00c0b8"/>
<rect x="106.00" y="188.75" width="9.05" height="1.60" fill="#00b9cd"/>
<rect x="106.00" y="190.00" width="9.05" height="1.60" fill="#78cb3a"/>
<rect x="106.00" y="191.25" width="9.05" height="1.60" fill="#a7c719"/>
<rect x="106.00" y="192.50" width="9.05" height="1.60" fill="#00a3e7"/>
<rect x="106.00" y="193.75" width="9.05" height="1.60" fill="#00cc87"/>
<rect x="106.00" y="195.00" width="9.05" height="1.60" fill="#008ef6"/>
<rect x="106.00" y="196.25" width="9.05" height="1.60" fill="#008bf8"/>
<rect x="106.00" y="197.50" width="9.05" height="1.60" fill="#00c89d"/>
<rect x="106.00" y="198.75" width="9.05" height="1.60" fill="#ffbc19"/>
<rect x="106.00" y="200.00" width="9.05" height="1.60" fill="#4fcd4c"/>
<rect x="106.00" y="201.25" width="9.05" height="1.60" fill="#15ce58"/>
<rect x="106.00" y="202.50" width="9.05" height="1.60" fill="#00a3e7"/>
<rect x="106.00" y="203.75" width="9.05" height="1.60" fill="#00ce5e"/>
<rect x="106.00" y="205.00" width="9.05" height="1.60" fill="#00ce64"/>
<rect x="106.00" y="206.25" width="9.05" height="1.60" fill="#efbd00"/>
<rect x="106.00" y="207.50" width="9.05" height="1.60" fill="#e6bf00"/>
<rect x="106.00" y="208.75" width="9.05" height="1.60" fill="#ecbe00"/>
<rect x="106.00" y="210.00" width="9.05" height="1.60" fill="#f4bd03"/>
<rect x="106.00" y="211.25" width="9.05" height="1.60" fill="#ffbb22"/>
<rect x="106.00" y="212.50" width="9.05" height="1.60" fill="#00ace1"/>
<rect x="106.00" y="213.75" width="9.05" height="1.60" fill="#edbe00"/>
<rect x="106.00" y="215.00" width="9.05" height="1.60" fill="#fbbc13"/>
<rect x="106.00" y="216.25" width="9.05" height="1.60" fill="#00cd74"/>
<rect x="106.00" y="217.50" width="9.05" height="1.60" fill="#00c1b7"/>
<rect x="106.00" y="218.75" width="9.05" height="1.60" fill="#e0bf00"/>
<rect x="106.00" y="220.00" width="9.05" height="1.60" fill="#e8be00"/>
<rect x="106.00" y="221.25" width="9.05" height="1.60" fill="#ffbb1f"/>
<rect x="106.00" y="222.50" width="9.05" height="1.60" fill="#00cc87"/>
<rect x="106.00" y="223.75" width="9.05" height="1.60" fill="#00bebf"/>
<rect x="106.00" y="225.00" width="9.05" height="1.60" fill="#00bebf"/>
<rect x="106.00" y="226.25" width="9.05" height="1.60" fill="#00baca"/>
<rect x="106.00" y="227.50" width="9.05" height="1.60" fill="#ffbb20"/>
<rect x="106.00" y="228.75" width="9.05" height="1.60" fill="#9fc820"/>
<rect x="106.00" y="230.00" width="9.05" height="1.60" fill="#82cb34"/>
<rect x="106.00" y="231.25" width="9.05" height="1.60" fill="#00b1dc"/>
<rect x="106.00" y="232.50" width="9.05" height="1.60" fill="#e4bf00"/>
<rect x="106.00" y="233.75" width="9.05" height="1.60" fill="#fcbc14"/>
<rect x="106.00" y="235.00" width="9.05" height="1.60" fill="#0083fd"/>
<rect x="106.00" y="236.25" width="9.05" height="1.60" fill="#7acb38"/>
<rect x="106.00" y="237.50" width="9.05" height="1.60" fill="#90ca2b"/>
<rect x="106.00" y="238.75" width="9.05" height="1.60" fill="#9bc923"/>
<rect x="106.00" y="240.00" width="9.05" height="1.60" fill="#a8c719"/>
<rect x="106.00" y="241.25" width="9.05" height="1.60" fill="#96c927"/>
<rect x="106.00" y="242.50" width="9.05" height="1.60" fill="#00bbc6"/>
<rect x="106.00" y="243.75" width="9.05" height="1.60" fill="#00b9cd"/>
<rect x="106.00" y="245.00" width="9.05" height="1.60" fill="#00cd80"/>
<rect x="106.00" y="246.25" width="9.05" height="1.60" fill="#00ce62"/>
<rect x="106.00" y="247.50" width="9.05" height="1.60" fill="#00cc85"/>
<rect x="106.00" y="248.75" width="9.05" height="1.60" fill="#00cd7e"/>
<rect x="106.00" y="250.00" width="9.05" height="1.60" fill="#00b8cd"/>
<rect x="106.00" y="251.25" width="9.05" height="1.60" fill="#c0c400"/>
<rect x="106.00" y="252.50" width="9.05" height="1.60" fill="#00ca90"/>
<rect x="106.00" y="253.75" width="9.05" height="1.60" fill="#2dcd55"/>
<rect x="106.00" y="255.00" width="9.05" height="1.60" fill="#bfc400"/>
<rect x="106.00" y="256.25" width="9.05" height="1.60" fill="#94c928"/>
<rect x="106.00" y="257.50" width="9.05" height="1.60" fill="#f1bd00"/>
<rect x="106.00" y="258.75" width="9.05" height="1.60" fill="#00cb89"/>
<rect x="106.00" y="260.00" width="9.05" height="1.60" fill="#00c7a0"/>
<rect x="106.00" y="261.25" width="9.05" height="1.60" fill="#00bfbc"/>
<rect x="106.00" y="262.50" width="9.05" height="1.60" fill="#ffbb1f"/>
<rect x="106.00" y="263.75" width="9.05" height="1.60" fill="#00ce70"/>
<rect x="106.00" y="265.00" width="9.05" height="1.60" fill="#00cb8f"/>
<rect x="106.00" y="266.25" width="9.05" height="1.60" fill="#7fcb35"/>
<rect x="106.00" y="267.50" width="9.05" height="1.60" fill="#6dcc3f"/>
<rect x="106.00" y="268.75" width="9.05" height="1.60" fill="#d8c100"/>
<rect x="106.00" y="270.00" width="9.05" height="1.60" fill="#6acc41"/>
<rect x="106.00" y="271.25" width="9.05" height="1.60" fill="#00ce6f"/>
<rect x="106.00" y="272.50" width="9.05" height="1.60" fill="#ffbb1f"/>
<rect x="106.00" y="273.75" width="9.05" height="1.60" fill="#dac000"/>
<rect x="106.00" y="275.00" width="9.05" height="1.60" fill="#00cd80"/>
<rect x="106.00" y="276.25" width="9.05" height="1.60" fill="#00cc82"/>
<rect x="106.00" y="277.50" width="9.05" height="1.60" fill="#00cd80"/>
<rect x="106.00" y="278.75" width="9.05" height="1.60" fill="#f4bd04"/>
<rect x="106.00" y="280.00" width="9.05" height="1.60" fill="#bec400"/>
<rect x="106.00" y="281.25" width="9.05" height="1.60" fill="#99c924"/>
<rect x="106.00" y="282.50" width="9.05" height="1.60" fill="#00cd78"/>
<rect x="106.00" y="283.75" width="9.05" height="1.60" fill="#00bebf"/>
<rect x="106.00" y="285.00" width="9.05" height="1.60" fill="#1dce58"/>
<rect x="106.00" y="286.25" width="9.05" height="1.10" fill="#00c6a3"/>
<rect x="106.00" y="123.60" width="9.05" height="1.65" fill="#009ceb"/>
<rect x="106.00" y="122.00" width="9.05" height="1.85" fill="#3361ff"/>
<rect x="106.00" y="120.60" width="9.05" height="1.65" fill="#116dff"/>
<rect x="106.00" y="119.00" width="9.05" height="1.85" fill="#4645ef"/>
<rect x="106.00" y="117.60" width="9.05" height="1.65" fill="#444bf5"/>
<rect x="106.00" y="116.00" width="9.05" height="1.85" fill="#472cc9"/>
<rect x="106.00" y="114.60" width="9.05" height="1.65" fill="#4831d4"/>
<rect x="106.00" y="113.00" width="9.05" height="1.85" fill="#4526bb"/>
<rect x="106.00" y="111.60" width="9.05" height="1.65" fill="#462bc5"/>
<rect x="106.00" y="108.60" width="9.05" height="1.65" fill="#4526bb"/>
<rect x="106.00" y="287.00" width="9.05" height="1.65" fill="#008af9"/>
<rect x="106.00" y="288.40" width="9.05" height="1.85" fill="#395bfe"/>
<rect x="106.00" y="290.00" width="9.05" height="1.65" fill="#444cf5"/>
<rect x="106.00" y="291.40" width="9.05" height="1.85" fill="#4836de"/>
<rect x="106.00" y="293.00" width="9.05" height="1.65" fill="#4830d3"/>
<rect x="106.00" y="294.40" width="9.05" height="1.85" fill="#4525b9"/>
<rect x="106.00" y="296.00" width="9.05" height="1.65" fill="#4629c0"/>
<rect x="124.00" y="159.50" width="9.55" height="1.60" fill="#00b7d1"/>
<rect x="124.00" y="160.75" width="9.55" height="1.60" fill="#009ceb"/>
<rect x="124.00" y="162.00" width="9.55" height="1.60" fill="#00ce6e"/>
<rect x="124.00" y="163.25" width="9.55" height="1.60" fill="#00cd7a"/>
<rect x="124.00" y="164.50" width="9.55" height="1.60" fill="#00cd80"/>
<rect x="124.00" y="165.75" width="9.55" height="1.60" fill="#86ca31"/>
<rect x="124.00" y="167.00" width="9.55" height="1.60" fill="#89ca2f"/>
<rect x="124.00" y="168.25" width="9.55" height="1.60" fill="#00ce6c"/>
<rect x="124.00" y="169.50" width="9.55" height="1.60" fill="#b5c60b"/>
<rect x="124.00" y="170.75" width="9.55" height="1.60" fill="#00ce69"/>
<rect x="124.00" y="172.00" width="9.55" height="1.60" fill="#86ca31"/>
<rect x="124.00" y="173.25" width="9.55" height="1.60" fill="#00cd79"/>
<rect x="124.00" y="174.50" width="9.55" height="1.60" fill="#e8be00"/>
<rect x="124.00" y="175.75" width="9.55" height="1.60" fill="#a7c71a"/>
<rect x="124.00" y="177.00" width="9.55" height="1.60" fill="#cbc300"/>
<rect x="124.00" y="178.25" width="9.55" height="1.60" fill="#00bbc8"/>
<rect x="124.00" y="179.50" width="9.55" height="1.60" fill="#00bdc2"/>
<rect x="124.00" y="180.75" width="9.55" height="1.60" fill="#eabe00"/>
<rect x="124.00" y="182.00" width="9.55" height="1.60" fill="#00bacb"/>
<rect x="124.00" y="183.25" width="9.55" height="1.60" fill="#00a6e6"/>
<rect x="124.00" y="184.50" width="9.55" height="1.60" fill="#00a4e7"/>
<rect x="124.00" y="185.75" width="9.55" height="1.60" fill="#00ce68"/>
<rect x="124.00" y="187.00" width="9.55" height="1.60" fill="#00c1b5"/>
<rect x="124.00" y="188.25" width="9.55" height="1.60" fill="#00c5a6"/>
<rect x="124.00" y="189.50" width="9.55" height="1.60" fill="#00c4aa"/>
<rect x="124.00" y="190.75" width="9.55" height="1.60" fill="#ffbb1f"/>
<rect x="124.00" y="192.00" width="9.55" height="1.60" fill="#ffbb28"/>
<rect x="124.00" y="193.25" width="9.55" height="1.60" fill="#49cd4e"/>
<rect x="124.00" y="194.50" width="9.55" height="1.60" fill="#00ce5c"/>
<rect x="124.00" y="195.75" width="9.55" height="1.60" fill="#00cd79"/>
<rect x="124.00" y="197.00" width="9.55" height="1.60" fill="#00ce60"/>
<rect x="124.00" y="198.25" width="9.55" height="1.60" fill="#a7c71a"/>
<rect x="124.00" y="199.50" width="9.55" height="1.60" fill="#bbc503"/>
<rect x="124.00" y="200.75" width="9.55" height="1.60" fill="#00cd75"/>
<rect x="124.00" y="202.00" width="9.55" height="1.60" fill="#7bcb38"/>
<rect x="124.00" y="203.25" width="9.55" height="1.60" fill="#00cb8b"/>
<rect x="124.00" y="204.50" width="9.55" height="1.60" fill="#c0c400"/>
<rect x="124.00" y="205.75" width="9.55" height="1.60" fill="#008df7"/>
<rect x="124.00" y="207.00" width="9.55" height="1.60" fill="#00b7d0"/>
<rect x="124.00" y="208.25" width="9.55" height="1.60" fill="#00b8cf"/>
<rect x="124.00" y="209.50" width="9.55" height="1.60" fill="#00a8e4"/>
<rect x="124.00" y="210.75" width="9.55" height="1.60" fill="#009ceb"/>
<rect x="124.00" y="212.00" width="9.55" height="1.60" fill="#00cd79"/>
<rect x="124.00" y="213.25" width="9.55" height="1.60" fill="#00cd7b"/>
<rect x="124.00" y="214.50" width="9.55" height="1.60" fill="#00ce6f"/>
<rect x="124.00" y="215.75" width="9.55" height="1.60" fill="#00ce73"/>
<rect x="124.00" y="217.00" width="9.55" height="1.60" fill="#00ce6c"/>
<rect x="124.00" y="218.25" width="9.55" height="1.60" fill="#009bec"/>
<rect x="124.00" y="219.50" width="9.55" height="1.60" fill="#51cd4b"/>
<rect x="124.00" y="220.75" width="9.55" height="1.60" fill="#09ce59"/>
<rect x="124.00" y="222.00" width="9.55" height="1.60" fill="#00ce5f"/>
<rect x="124.00" y="223.25" width="9.55" height="1.60" fill="#00c1b5"/>
<rect x="124.00" y="224.50" width="9.55" height="1.60" fill="#00c3ad"/>
<rect x="124.00" y="225.75" width="9.55" height="1.60" fill="#00c997"/>
<rect x="124.00" y="227.00" width="9.55" height="1.60" fill="#00cc87"/>
<rect x="124.00" y="228.25" width="9.55" height="1.60" fill="#00ce71"/>
<rect x="124.00" y="229.50" width="9.55" height="1.60" fill="#adc714"/>
<rect x="124.00" y="230.75" width="9.55" height="1.60" fill="#ccc300"/>
<rect x="124.00" y="232.00" width="9.55" height="1.60" fill="#ebbe00"/>
<rect x="124.00" y="233.25" width="9.55" height="1.60" fill="#b3c60e"/>
<rect x="124.00" y="234.50" width="9.55" height="1.60" fill="#a9c718"/>
<rect x="124.00" y="235.75" width="9.55" height="1.60" fill="#00ce65"/>
<rect x="124.00" y="237.00" width="9.55" height="1.60" fill="#00ce6d"/>
<rect x="124.00" y="238.25" width="9.55" height="1.60" fill="#00ce6f"/>
<rect x="124.00" y="239.50" width="9.55" height="1.60" fill="#00cd77"/>
<rect x="124.00" y="240.75" width="9.55" height="1.60" fill="#00cd81"/>
<rect x="124.00" y="242.00" width="9.55" height="1.60" fill="#d8c100"/>
<rect x="124.00" y="243.25" width="9.55" height="1.60" fill="#d9c100"/>
<rect x="124.00" y="244.50" width="9.55" height="1.60" fill="#00ce5a"/>
<rect x="124.00" y="245.75" width="9.55" height="1.60" fill="#00ce6a"/>
<rect x="124.00" y="247.00" width="9.55" height="1.60" fill="#00c0b8"/>
<rect x="124.00" y="248.25" width="9.55" height="1.10" fill="#00b6d3"/>
<rect x="124.00" y="158.10" width="9.55" height="1.65" fill="#0097ef"/>
<rect x="124.00" y="156.50" width="9.55" height="1.85" fill="#395bfe"/>
<rect x="124.00" y="155.10" width="9.55" height="1.65" fill="#4053fa"/>
<rect x="124.00" y="153.50" width="9.55" height="1.85" fill="#4834db"/>
<rect x="124.00" y="152.10" width="9.55" height="1.65" fill="#4837e0"/>
<rect x="124.00" y="150.50" width="9.55" height="1.85" fill="#4526bb"/>
<rect x="124.00" y="149.10" width="9.55" height="1.65" fill="#462bc5"/>
<rect x="124.00" y="249.00" width="9.55" height="1.85" fill="#007aff"/>
<rect x="124.00" y="250.60" width="9.55" height="1.65" fill="#007fff"/>
<rect x="124.00" y="252.00" width="9.55" height="1.85" fill="#3e56fb"/>
<rect x="124.00" y="253.60" width="9.55" height="1.65" fill="#434df6"/>
<rect x="124.00" y="255.00" width="9.55" height="1.85" fill="#472ece"/>
<rect x="124.00" y="256.60" width="9.55" height="1.65" fill="#4833d9"/>
<rect x="124.00" y="258.00" width="9.55" height="1.85" fill="#4527bc"/>
<rect x="124.00" y="259.60" width="9.55" height="1.65" fill="#472cc8"/>
<rect x="124.00" y="262.60" width="9.55" height="1.65" fill="#4526ba"/>
<rect x="133.25" y="124.50" width="9.55" height="1.60" fill="#0091f3"/>
<rect x="133.25" y="125.75" width="9.55" height="1.60" fill="#0092f3"/>
<rect x="133.25" y="127.00" width="9.55" height="1.60" fill="#d6c100"/>
<rect x="133.25" y="128.25" width="9.55" height="1.60" fill="#e3bf00"/>
<rect x="133.25" y="129.50" width="9.55" height="1.60" fill="#dec000"/>
<rect x="133.25" y="130.75" width="9.55" height="1.60" fill="#d4c100"/>
<rect x="133.25" y="132.00" width="9.55" height="1.60" fill="#dcc000"/>
<rect x="133.25" y="133.25" width="9.55" height="1.60" fill="#e3bf00"/>
<rect x="133.25" y="134.50" width="9.55" height="1.60" fill="#edbe00"/>
<rect x="133.25" y="135.75" width="9.55" height="1.60" fill="#00cd7a"/>
<rect x="133.25" y="137.00" width="9.55" height="1.60" fill="#00ce6d"/>
<rect x="133.25" y="138.25" width="9.55" height="1.60" fill="#ffbb23"/>
<rect x="133.25" y="139.50" width="9.55" height="1.60" fill="#eebd00"/>
<rect x="133.25" y="140.75" width="9.55" height="1.60" fill="#f5bc04"/>
<rect x="133.25" y="142.00" width="9.55" height="1.60" fill="#00c4aa"/>
<rect x="133.25" y="143.25" width="9.55" height="1.60" fill="#f6bc07"/>
<rect x="133.25" y="144.50" width="9.55" height="1.60" fill="#00bdc2"/>
<rect x="133.25" y="145.75" width="9.55" height="1.60" fill="#95c928"/>
<rect x="133.25" y="147.00" width="9.55" height="1.60" fill="#f9bc0d"/>
<rect x="133.25" y="148.25" width="9.55" height="1.60" fill="#eabe00"/>
<rect x="133.25" y="149.50" width="9.55" height="1.60" fill="#dec000"/>
<rect x="133.25" y="150.75" width="9.55" height="1.60" fill="#f9bc0e"/>
<rect x="133.25" y="152.00" width="9.55" height="1.60" fill="#fbbc12"/>
<rect x="133.25" y="153.25" width="9.55" height="1.60" fill="#97c926"/>
<rect x="133.25" y="154.50" width="9.55" height="1.60" fill="#8bca2e"/>
<rect x="133.25" y="155.75" width="9.55" height="1.60" fill="#fbbc13"/>
<rect x="133.25" y="157.00" width="9.55" height="1.60" fill="#ffbb21"/>
<rect x="133.25" y="158.25" width="9.55" height="1.60" fill="#00c89a"/>
<rect x="133.25" y="159.50" width="9.55" height="1.60" fill="#00c79f"/>
<rect x="133.25" y="160.75" width="9.55" height="1.60" fill="#00c89b"/>
<rect x="133.25" y="162.00" width="9.55" height="1.60" fill="#ebbe00"/>
<rect x="133.25" y="163.25" width="9.55" height="1.60" fill="#93c929"/>
<rect x="133.25" y="164.50" width="9.55" height="1.60" fill="#f7bc0a"/>
<rect x="133.25" y="165.75" width="9.55" height="1.60" fill="#ffbb21"/>
<rect x="133.25" y="167.00" width="9.55" height="1.60" fill="#7fcb36"/>
<rect x="133.25" y="168.25" width="9.55" height="1.60" fill="#66cc43"/>
<rect x="133.25" y="169.50" width="9.55" height="1.60" fill="#eabe00"/>
<rect x="133.25" y="170.75" width="9.55" height="1.60" fill="#e3bf00"/>
<rect x="133.25" y="172.00" width="9.55" height="1.60" fill="#ffbb1d"/>
<rect x="133.25" y="173.25" width="9.55" height="1.60" fill="#93c929"/>
<rect x="133.25" y="174.50" width="9.55" height="1.60" fill="#9cc823"/>
<rect x="133.25" y="175.75" width="9.55" height="1.60" fill="#aec714"/>
<rect x="133.25" y="177.00" width="9.55" height="1.60" fill="#d5c100"/>
<rect x="133.25" y="178.25" width="9.55" height="1.60" fill="#7fcb35"/>
<rect x="133.25" y="179.50" width="9.55" height="1.60" fill="#ffbb1a"/>
<rect x="133.25" y="180.75" width="9.55" height="1.60" fill="#00c7a1"/>
<rect x="133.25" y="182.00" width="9.55" height="1.60" fill="#00c89c"/>
<rect x="133.25" y="183.25" width="9.55" height="1.60" fill="#48cd4e"/>
<rect x="133.25" y="184.50" width="9.55" height="1.60" fill="#ffbb23"/>
<rect x="133.25" y="185.75" width="9.55" height="1.60" fill="#00c6a4"/>
<rect x="133.25" y="187.00" width="9.55" height="1.60" fill="#00ce5c"/>
<rect x="133.25" y="188.25" width="9.55" height="1.60" fill="#fabc12"/>
<rect x="133.25" y="189.50" width="9.55" height="1.60" fill="#c8c300"/>
<rect x="133.25" y="190.75" width="9.55" height="1.60" fill="#d3c200"/>
<rect x="133.25" y="192.00" width="9.55" height="1.60" fill="#dbc000"/>
<rect x="133.25" y="193.25" width="9.55" height="1.60" fill="#f3bd02"/>
<rect x="133.25" y="194.50" width="9.55" height="1.60" fill="#acc716"/>
<rect x="133.25" y="195.75" width="9.55" height="1.60" fill="#e8be00"/>
<rect x="133.25" y="197.00" width="9.55" height="1.60" fill="#e6bf00"/>
<rect x="133.25" y="198.25" width="9.55" height="1.60" fill="#edbe00"/>
<rect x="133.25" y="199.50" width="9.55" height="1.60" fill="#e1bf00"/>
<rect x="133.25" y="200.75" width="9.55" height="1.60" fill="#ffbb23"/>
<rect x="133.25" y="202.00" width="9.55" height="1.60" fill="#ffbb20"/>
<rect x="133.25" y="203.25" width="9.55" height="1.60" fill="#ffbb22"/>
<rect x="133.25" y="204.50" width="9.55" height="1.60" fill="#00ce61"/>
<rect x="133.25" y="205.75" width="9.55" height="1.60" fill="#f9bc0e"/>
<rect x="133.25" y="207.00" width="9.55" height="1.60" fill="#bcc502"/>
<rect x="133.25" y="208.25" width="9.55" height="1.60" fill="#e4bf00"/>
<rect x="133.25" y="209.50" width="9.55" height="1.60" fill="#d6c100"/>
<rect x="133.25" y="210.75" width="9.55" height="1.60" fill="#fbbc12"/>
<rect x="133.25" y="212.00" width="9.55" height="1.60" fill="#e6bf00"/>
<rect x="133.25" y="213.25" width="9.55" height="1.60" fill="#ddc000"/>
<rect x="133.25" y="214.50" width="9.55" height="1.60" fill="#c8c300"/>
<rect x="133.25" y="215.75" width="9.55" height="1.60" fill="#00cd7f"/>
<rect x="133.25" y="217.00" width="9.55" height="1.60" fill="#009eea"/>
<rect x="133.25" y="218.25" width="9.55" height="1.60" fill="#009eea"/>
<rect x="133.25" y="219.50" width="9.55" height="1.60" fill="#f3bd01"/>
<rect x="133.25" y="220.75" width="9.55" height="1.60" fill="#ffbb1a"/>
<rect x="133.25" y="222.00" width="9.55" height="1.60" fill="#c8c300"/>
<rect x="133.25" y="223.25" width="9.55" height="1.60" fill="#e2bf00"/>
<rect x="133.25" y="224.50" width="9.55" height="1.60" fill="#cfc200"/>
<rect x="133.25" y="225.75" width="9.55" height="1.60" fill="#00ce72"/>
<rect x="133.25" y="227.00" width="9.55" height="1.60" fill="#c2c400"/>
<rect x="133.25" y="228.25" width="9.55" height="1.60" fill="#ffbc19"/>
<rect x="133.25" y="229.50" width="9.55" height="1.60" fill="#00ce70"/>
<rect x="133.25" y="230.75" width="9.55" height="1.60" fill="#00ce70"/>
<rect x="133.25" y="232.00" width="9.55" height="1.60" fill="#9dc821"/>
<rect x="133.25" y="233.25" width="9.55" height="1.60" fill="#d4c100"/>
<rect x="133.25" y="234.50" width="9.55" height="1.60" fill="#c0c400"/>
<rect x="133.25" y="235.75" width="9.55" height="1.60" fill="#00ca94"/>
<rect x="133.25" y="237.00" width="9.55" height="1.60" fill="#8aca2f"/>
<rect x="133.25" y="238.25" width="9.55" height="1.60" fill="#83ca33"/>
<rect x="133.25" y="239.50" width="9.55" height="1.60" fill="#edbe00"/>
<rect x="133.25" y="240.75" width="9.55" height="1.60" fill="#d4c100"/>
<rect x="133.25" y="242.00" width="9.55" height="1.60" fill="#fcbc14"/>
<rect x="133.25" y="243.25" width="9.55" height="1.60" fill="#ffbb22"/>
<rect x="133.25" y="244.50" width="9.55" height="1.60" fill="#00ce6a"/>
<rect x="133.25" y="245.75" width="9.55" height="1.60" fill="#a9c718"/>
<rect x="133.25" y="247.00" width="9.55" height="1.60" fill="#edbe00"/>
<rect x="133.25" y="248.25" width="9.55" height="1.60" fill="#57cd49"/>
<rect x="133.25" y="249.50" width="9.55" height="1.60" fill="#42cd50"/>
<rect x="133.25" y="250.75" width="9.55" height="1.60" fill="#9bc823"/>
<rect x="133.25" y="252.00" width="9.55" height="1.60" fill="#e6bf00"/>
<rect x="133.25" y="253.25" width="9.55" height="1.60" fill="#00ade0"/>
<rect x="133.25" y="254.50" width="9.55" height="1.60" fill="#00afdd"/>
<rect x="133.25" y="255.75" width="9.55" height="1.60" fill="#00cd80"/>
<rect x="133.25" y="257.00" width="9.55" height="1.60" fill="#97c926"/>
<rect x="133.25" y="258.25" width="9.55" height="1.60" fill="#00c3b0"/>
<rect x="133.25" y="259.50" width="9.55" height="1.60" fill="#e8be00"/>
<rect x="133.25" y="260.75" width="9.55" height="1.60" fill="#dec000"/>
<rect x="133.25" y="262.00" width="9.55" height="1.60" fill="#d7c100"/>
<rect x="133.25" y="263.25" width="9.55" height="1.60" fill="#f5bc04"/>
<rect x="133.25" y="264.50" width="9.55" height="1.60" fill="#adc714"/>
<rect x="133.25" y="265.75" width="9.55" height="1.60" fill="#dec000"/>
<rect x="133.25" y="267.00" width="9.55" height="1.60" fill="#86ca31"/>
<rect x="133.25" y="268.25" width="9.55" height="1.60" fill="#d8c100"/>
<rect x="133.25" y="269.50" width="9.55" height="1.60" fill="#f0bd00"/>
<rect x="133.25" y="270.75" width="9.55" height="1.60" fill="#f4bd03"/>
<rect x="133.25" y="272.00" width="9.55" height="1.60" fill="#f5bc04"/>
<rect x="133.25" y="273.25" width="9.55" height="1.60" fill="#ebbe00"/>
<rect x="133.25" y="274.50" width="9.55" height="1.60" fill="#e9be00"/>
<rect x="133.25" y="275.75" width="9.55" height="1.60" fill="#b9c506"/>
<rect x="133.25" y="277.00" width="9.55" height="1.60" fill="#ffbb26"/>
<rect x="133.25" y="278.25" width="9.55" height="1.60" fill="#ffbb1c"/>
<rect x="133.25" y="279.50" width="9.55" height="1.60" fill="#ffbb24"/>
<rect x="133.25" y="280.75" width="9.55" height="1.60" fill="#00cd7c"/>
<rect x="133.25" y="282.00" width="9.55" height="1.60" fill="#e1bf00"/>
<rect x="133.25" y="283.25" width="9.55" height="1.60" fill="#f5bc05"/>
<rect x="133.25" y="284.50" width="9.55" height="1.60" fill="#fbbc12"/>
<rect x="133.25" y="285.75" width="9.55" height="1.30" fill="#00c5a8"/>
<rect x="133.25" y="123.10" width="9.55" height="1.65" fill="#00b5d5"/>
<rect x="133.25" y="121.50" width="9.55" height="1.85" fill="#0085fc"/>
<rect x="133.25" y="120.10" width="9.55" height="1.65" fill="#007dff"/>
<rect x="133.25" y="118.50" width="9.55" height="1.85" fill="#2c65ff"/>
<rect x="133.25" y="117.10" width="9.55" height="1.65" fill="#2b65ff"/>
<rect x="133.25" y="115.50" width="9.55" height="1.85" fill="#4839e3"/>
<rect x="133.25" y="114.10" width="9.55" height="1.65" fill="#3d57fc"/>
<rect x="133.25" y="112.50" width="9.55" height="1.85" fill="#4832d7"/>
<rect x="133.25" y="111.10" width="9.55" height="1.65" fill="#4740ea"/>
<rect x="133.25" y="109.50" width="9.55" height="1.85" fill="#472cc8"/>
<rect x="133.25" y="108.10" width="9.55" height="1.65" fill="#483be5"/>
<rect x="133.25" y="106.50" width="9.55" height="1.85" fill="#462ac5"/>
<rect x="133.25" y="105.10" width="9.55" height="1.65" fill="#4833d9"/>
<rect x="133.25" y="103.50" width="9.55" height="1.85" fill="#4526bb"/>
<rect x="133.25" y="102.10" width="9.55" height="1.65" fill="#472ecc"/>
<rect x="133.25" y="99.10" width="9.55" height="1.65" fill="#462ac4"/>
<rect x="133.25" y="96.10" width="9.55" height="1.65" fill="#4527bc"/>
<rect x="133.25" y="93.10" width="9.55" height="1.65" fill="#4526ba"/>
<rect x="133.25" y="286.70" width="9.55" height="1.85" fill="#0083fe"/>
<rect x="133.25" y="288.30" width="9.55" height="1.65" fill="#0085fc"/>
<rect x="133.25" y="289.70" width="9.55" height="1.85" fill="#3d57fc"/>
<rect x="133.25" y="291.30" width="9.55" height="1.65" fill="#3c58fc"/>
<rect x="133.25" y="292.70" width="9.55" height="1.85" fill="#472cc8"/>
<rect x="133.25" y="294.30" width="9.55" height="1.65" fill="#4837df"/>
<rect x="133.25" y="295.70" width="9.55" height="1.85" fill="#4527bd"/>
<rect x="133.25" y="297.30" width="9.55" height="1.65" fill="#472dcb"/>
<rect x="133.25" y="300.30" width="9.55" height="1.65" fill="#4528bf"/>
<rect x="142.50" y="125.00" width="9.55" height="1.60" fill="#00b5d5"/>
<rect x="142.50" y="126.25" width="9.55" height="1.60" fill="#ffbb20"/>
<rect x="142.50" y="127.50" width="9.55" height="1.60" fill="#ddc000"/>
<rect x="142.50" y="128.75" width="9.55" height="1.60" fill="#aec613"/>
<rect x="142.50" y="130.00" width="9.55" height="1.60" fill="#d2c200"/>
<rect x="142.50" y="131.25" width="9.55" height="1.60" fill="#d3c100"/>
<rect x="142.50" y="132.50" width="9.55" height="1.60" fill="#0085fc"/>
<rect x="142.50" y="133.75" width="9.55" height="1.60" fill="#0087fb"/>
<rect x="142.50" y="135.00" width="9.55" height="1.60" fill="#f0bd00"/>
<rect x="142.50" y="136.25" width="9.55" height="1.60" fill="#aac717"/>
<rect x="142.50" y="137.50" width="9.55" height="1.60" fill="#0084fd"/>
<rect x="142.50" y="138.75" width="9.55" height="1.60" fill="#51cd4b"/>
<rect x="142.50" y="140.00" width="9.55" height="1.60" fill="#b3c60e"/>
<rect x="142.50" y="141.25" width="9.55" height="1.60" fill="#ffbb1a"/>
<rect x="142.50" y="142.50" width="9.55" height="1.60" fill="#00c6a5"/>
<rect x="142.50" y="143.75" width="9.55" height="1.60" fill="#30cd54"/>
<rect x="142.50" y="145.00" width="9.55" height="1.60" fill="#9cc823"/>
<rect x="142.50" y="146.25" width="9.55" height="1.60" fill="#d6c100"/>
<rect x="142.50" y="147.50" width="9.55" height="1.60" fill="#ffbb25"/>
<rect x="142.50" y="148.75" width="9.55" height="1.60" fill="#e1bf00"/>
<rect x="142.50" y="150.00" width="9.55" height="1.60" fill="#dbc000"/>
<rect x="142.50" y="151.25" width="9.55" height="1.60" fill="#e9be00"/>
<rect x="142.50" y="152.50" width="9.55" height="1.60" fill="#f4bd03"/>
<rect x="142.50" y="153.75" width="9.55" height="1.60" fill="#d6c100"/>
<rect x="142.50" y="155.00" width="9.55" height="1.60" fill="#fcbc14"/>
<rect x="142.50" y="156.25" width="9.55" height="1.60" fill="#00c1b7"/>
<rect x="142.50" y="157.50" width="9.55" height="1.60" fill="#83ca33"/>
<rect x="142.50" y="158.75" width="9.55" height="1.60" fill="#88ca30"/>
<rect x="142.50" y="160.00" width="9.55" height="1.60" fill="#febc18"/>
<rect x="142.50" y="161.25" width="9.55" height="1.60" fill="#00cd80"/>
<rect x="142.50" y="162.50" width="9.55" height="1.60" fill="#00c0ba"/>
<rect x="142.50" y="163.75" width="9.55" height="1.60" fill="#ddc000"/>
<rect x="142.50" y="165.00" width="9.55" height="1.60" fill="#90ca2b"/>
<rect x="142.50" y="166.25" width="9.55" height="1.60" fill="#f6bc06"/>
<rect x="142.50" y="167.50" width="9.55" height="1.60" fill="#8eca2c"/>
<rect x="142.50" y="168.75" width="9.55" height="1.60" fill="#00a0e9"/>
<rect x="142.50" y="170.00" width="9.55" height="1.60" fill="#00a4e7"/>
<rect x="142.50" y="171.25" width="9.55" height="1.60" fill="#dbc000"/>
<rect x="142.50" y="172.50" width="9.55" height="1.60" fill="#c4c400"/>
<rect x="142.50" y="173.75" width="9.55" height="1.60" fill="#00bfbd"/>
<rect x="142.50" y="175.00" width="9.55" height="1.60" fill="#00ce5a"/>
<rect x="142.50" y="176.25" width="9.55" height="1.60" fill="#9bc923"/>
<rect x="142.50" y="177.50" width="9.55" height="1.60" fill="#95c927"/>
<rect x="142.50" y="178.75" width="9.55" height="1.60" fill="#9dc822"/>
<rect x="142.50" y="180.00" width="9.55" height="1.60" fill="#b0c611"/>
<rect x="142.50" y="181.25" width="9.55" height="1.60" fill="#7ccb37"/>
<rect x="142.50" y="182.50" width="9.55" height="1.60" fill="#ccc300"/>
<rect x="142.50" y="183.75" width="9.55" height="1.60" fill="#d0c200"/>
<rect x="142.50" y="185.00" width="9.55" height="1.60" fill="#d8c100"/>
<rect x="142.50" y="186.25" width="9.55" height="1.60" fill="#c9c300"/>
<rect x="142.50" y="187.50" width="9.55" height="1.60" fill="#ffbb1b"/>
<rect x="142.50" y="188.75" width="9.55" height="1.60" fill="#afc612"/>
<rect x="142.50" y="190.00" width="9.55" height="1.60" fill="#b0c611"/>
<rect x="142.50" y="191.25" width="9.55" height="1.60" fill="#00cd74"/>
<rect x="142.50" y="192.50" width="9.55" height="1.60" fill="#3bcd52"/>
<rect x="142.50" y="193.75" width="9.55" height="1.60" fill="#64cc44"/>
<rect x="142.50" y="195.00" width="9.55" height="1.60" fill="#f2bd00"/>
<rect x="142.50" y="196.25" width="9.55" height="1.60" fill="#d2c200"/>
<rect x="142.50" y="197.50" width="9.55" height="1.60" fill="#bdc501"/>
<rect x="142.50" y="198.75" width="9.55" height="1.60" fill="#008ef6"/>
<rect x="142.50" y="200.00" width="9.55" height="1.60" fill="#d4c100"/>
<rect x="142.50" y="201.25" width="9.55" height="1.60" fill="#c0c400"/>
<rect x="142.50" y="202.50" width="9.55" height="1.60" fill="#8cca2d"/>
<rect x="142.50" y="203.75" width="9.55" height="1.60" fill="#dcc000"/>
<rect x="142.50" y="205.00" width="9.55" height="1.60" fill="#e5bf00"/>
<rect x="142.50" y="206.25" width="9.55" height="1.60" fill="#d4c100"/>
<rect x="142.50" y="207.50" width="9.55" height="1.60" fill="#ffbb25"/>
<rect x="142.50" y="208.75" width="9.55" height="1.60" fill="#9bc923"/>
<rect x="142.50" y="210.00" width="9.55" height="1.60" fill="#99c924"/>
<rect x="142.50" y="211.25" width="9.55" height="1.60" fill="#fcbc15"/>
<rect x="142.50" y="212.50" width="9.55" height="1.60" fill="#ffbb1c"/>
<rect x="142.50" y="213.75" width="9.55" height="1.60" fill="#00cd80"/>
<rect x="142.50" y="215.00" width="9.55" height="1.60" fill="#ffbb22"/>
<rect x="142.50" y="216.25" width="9.55" height="1.60" fill="#90c92b"/>
<rect x="142.50" y="217.50" width="9.55" height="1.60" fill="#edbe00"/>
<rect x="142.50" y="218.75" width="9.55" height="1.60" fill="#fdbc17"/>
<rect x="142.50" y="220.00" width="9.55" height="1.60" fill="#ffbb26"/>
<rect x="142.50" y="221.25" width="9.55" height="1.60" fill="#8aca2f"/>
<rect x="142.50" y="222.50" width="9.55" height="1.60" fill="#00ce74"/>
<rect x="142.50" y="223.75" width="9.55" height="1.60" fill="#00ce73"/>
<rect x="142.50" y="225.00" width="9.55" height="1.60" fill="#c5c400"/>
<rect x="142.50" y="226.25" width="9.55" height="1.60" fill="#cdc200"/>
<rect x="142.50" y="227.50" width="9.55" height="1.60" fill="#f5bc04"/>
<rect x="142.50" y="228.75" width="9.55" height="1.60" fill="#ffbb20"/>
<rect x="142.50" y="230.00" width="9.55" height="1.60" fill="#50cd4c"/>
<rect x="142.50" y="231.25" width="9.55" height="1.60" fill="#67cc42"/>
<rect x="142.50" y="232.50" width="9.55" height="1.60" fill="#d9c100"/>
<rect x="142.50" y="233.75" width="9.55" height="1.60" fill="#ffbb21"/>
<rect x="142.50" y="235.00" width="9.55" height="1.60" fill="#ffbc29"/>
<rect x="142.50" y="236.25" width="9.55" height="1.60" fill="#ffbb1e"/>
<rect x="142.50" y="237.50" width="9.55" height="1.60" fill="#e7be00"/>
<rect x="142.50" y="238.75" width="9.55" height="1.60" fill="#c4c400"/>
<rect x="142.50" y="240.00" width="9.55" height="1.60" fill="#e1bf00"/>
<rect x="142.50" y="241.25" width="9.55" height="1.60" fill="#7ecb36"/>
<rect x="142.50" y="242.50" width="9.55" height="1.60" fill="#ecbe00"/>
<rect x="142.50" y="243.75" width="9.55" height="1.60" fill="#dbc000"/>
<rect x="142.50" y="245.00" width="9.55" height="1.60" fill="#ffbb1f"/>
<rect x="142.50" y="246.25" width="9.55" height="1.60" fill="#ffbb1f"/>
<rect x="142.50" y="247.50" width="9.55" height="1.60" fill="#ffbb1c"/>
<rect x="142.50" y="248.75" width="9.55" height="1.60" fill="#ffbb23"/>
<rect x="142.50" y="250.00" width="9.55" height="1.60" fill="#ffbc2a"/>
<rect x="142.50" y="251.25" width="9.55" height="1.60" fill="#e8be00"/>
<rect x="142.50" y="252.50" width="9.55" height="1.60" fill="#00c1b6"/>
<rect x="142.50" y="253.75" width="9.55" height="1.60" fill="#00ace1"/>
<rect x="142.50" y="255.00" width="9.55" height="1.60" fill="#ddc000"/>
<rect x="142.50" y="256.25" width="9.55" height="1.60" fill="#d5c100"/>
<rect x="142.50" y="257.50" width="9.55" height="1.60" fill="#f3bd02"/>
<rect x="142.50" y="258.75" width="9.55" height="1.60" fill="#fabc11"/>
<rect x="142.50" y="260.00" width="9.55" height="1.60" fill="#acc715"/>
<rect x="142.50" y="261.25" width="9.55" height="1.60" fill="#00ace1"/>
<rect x="142.50" y="262.50" width="9.55" height="1.60" fill="#e6bf00"/>
<rect x="142.50" y="263.75" width="9.55" height="1.60" fill="#0096f0"/>
<rect x="142.50" y="265.00" width="9.55" height="1.60" fill="#dbc000"/>
<rect x="142.50" y="266.25" width="9.55" height="1.60" fill="#f6bc07"/>
<rect x="142.50" y="267.50" width="9.55" height="1.60" fill="#f6bc07"/>
<rect x="142.50" y="268.75" width="9.55" height="1.60" fill="#dfc000"/>
<rect x="142.50" y="270.00" width="9.55" height="1.60" fill="#ebbe00"/>
<rect x="142.50" y="271.25" width="9.55" height="1.60" fill="#00bcc5"/>
<rect x="142.50" y="272.50" width="9.55" height="1.60" fill="#f8bc0c"/>
<rect x="142.50" y="273.75" width="9.55" height="1.60" fill="#ffbb25"/>
<rect x="142.50" y="275.00" width="9.55" height="1.60" fill="#ffbc2a"/>
<rect x="142.50" y="276.25" width="9.55" height="1.60" fill="#afc612"/>
<rect x="142.50" y="277.50" width="9.55" height="1.60" fill="#f7bc0a"/>
<rect x="142.50" y="278.75" width="9.55" height="1.60" fill="#fbbc13"/>
<rect x="142.50" y="280.00" width="9.55" height="1.60" fill="#b1c610"/>
<rect x="142.50" y="281.25" width="9.55" height="1.60" fill="#f7bc0a"/>
<rect x="142.50" y="282.50" width="9.55" height="1.60" fill="#f6bc07"/>
<rect x="142.50" y="283.75" width="9.55" height="1.60" fill="#00c3b0"/>
<rect x="142.50" y="285.00" width="9.55" height="1.60" fill="#a6c71a"/>
<rect x="142.50" y="286.25" width="9.55" height="1.30" fill="#00c6a3"/>
<rect x="142.50" y="123.60" width="9.55" height="1.65" fill="#00a2e8"/>
<rect x="142.50" y="122.00" width="9.55" height="1.85" fill="#076eff"/>
<rect x="142.50" y="120.60" width="9.55" height="1.65" fill="#345fff"/>
<rect x="142.50" y="119.00" width="9.55" height="1.85" fill="#4740eb"/>
<rect x="142.50" y="117.60" width="9.55" height="1.65" fill="#4547f1"/>
<rect x="142.50" y="116.00" width="9.55" height="1.85" fill="#462ac5"/>
<rect x="142.50" y="114.60" width="9.55" height="1.65" fill="#4832d7"/>
<rect x="142.50" y="113.00" width="9.55" height="1.85" fill="#4527bc"/>
<rect x="142.50" y="111.60" width="9.55" height="1.65" fill="#462bc6"/>
<rect x="142.50" y="108.60" width="9.55" height="1.65" fill="#4425b8"/>
<rect x="142.50" y="287.20" width="9.55" height="1.85" fill="#0088fa"/>
<rect x="142.50" y="288.80" width="9.55" height="1.65" fill="#008af9"/>
<rect x="142.50" y="290.20" width="9.55" height="1.85" fill="#2269ff"/>
<rect x="142.50" y="291.80" width="9.55" height="1.65" fill="#0086fc"/>
<rect x="142.50" y="293.20" width="9.55" height="1.85" fill="#483ee9"/>
<rect x="142.50" y="294.80" width="9.55" height="1.65" fill="#375eff"/>
<rect x="142.50" y="296.20" width="9.55" height="1.85" fill="#4834da"/>
<rect x="142.50" y="297.80" width="9.55" height="1.65" fill="#4151f9"/>
<rect x="142.50" y="299.20" width="9.55" height="1.85" fill="#4830d2"/>
<rect x="142.50" y="300.80" width="9.55" height="1.65" fill="#483ce6"/>
<rect x="142.50" y="302.20" width="9.55" height="1.85" fill="#472cc8"/>
<rect x="142.50" y="303.80" width="9.55" height="1.65" fill="#4835dd"/>
<rect x="142.50" y="305.20" width="9.55" height="1.85" fill="#4628c0"/>
<rect x="142.50" y="306.80" width="9.55" height="1.65" fill="#472fd0"/>
<rect x="142.50" y="308.20" width="9.55" height="1.85" fill="#4526bb"/>
<rect x="142.50" y="309.80" width="9.55" height="1.65" fill="#472cc8"/>
<rect x="142.50" y="312.80" width="9.55" height="1.65" fill="#4528bf"/>
<rect x="142.50" y="315.80" width="9.55" height="1.65" fill="#4527bd"/>
<rect x="151.75" y="125.00" width="9.55" height="1.60" fill="#00bebe"/>
<rect x="151.75" y="126.25" width="9.55" height="1.60" fill="#bfc400"/>
<rect x="151.75" y="127.50" width="9.55" height="1.60" fill="#f5bc04"/>
<rect x="151.75" y="128.75" width="9.55" height="1.60" fill="#ffbb25"/>
<rect x="151.75" y="130.00" width="9.55" height="1.60" fill="#f9bc0e"/>
<rect x="151.75" y="131.25" width="9.55" height="1.60" fill="#fdbc17"/>
<rect x="151.75" y="132.50" width="9.55" height="1.60" fill="#a8c719"/>
<rect x="151.75" y="133.75" width="9.55" height="1.60" fill="#00cc82"/>
<rect x="151.75" y="135.00" width="9.55" height="1.60" fill="#a5c81b"/>
<rect x="151.75" y="136.25" width="9.55" height="1.60" fill="#efbd00"/>
<rect x="151.75" y="137.50" width="9.55" height="1.60" fill="#f0bd00"/>
<rect x="151.75" y="138.75" width="9.55" height="1.60" fill="#0cce59"/>
<rect x="151.75" y="140.00" width="9.55" height="1.60" fill="#d4c100"/>
<rect x="151.75" y="141.25" width="9.55" height="1.60" fill="#bcc501"/>
<rect x="151.75" y="142.50" width="9.55" height="1.60" fill="#e0bf00"/>
<rect x="151.75" y="143.75" width="9.55" height="1.60" fill="#ecbe00"/>
<rect x="151.75" y="145.00" width="9.55" height="1.60" fill="#dcc000"/>
<rect x="151.75" y="146.25" width="9.55" height="1.60" fill="#80cb35"/>
<rect x="151.75" y="147.50" width="9.55" height="1.60" fill="#a7c71a"/>
<rect x="151.75" y="148.75" width="9.55" height="1.60" fill="#b1c610"/>
<rect x="151.75" y="150.00" width="9.55" height="1.60" fill="#ccc300"/>
<rect x="151.75" y="151.25" width="9.55" height="1.60" fill="#00bdc1"/>
<rect x="151.75" y="152.50" width="9.55" height="1.60" fill="#7bcb38"/>
<rect x="151.75" y="153.75" width="9.55" height="1.60" fill="#e3bf00"/>
<rect x="151.75" y="155.00" width="9.55" height="1.60" fill="#ffbb1e"/>
<rect x="151.75" y="156.25" width="9.55" height="1.60" fill="#a2c81e"/>
<rect x="151.75" y="157.50" width="9.55" height="1.60" fill="#96c927"/>
<rect x="151.75" y="158.75" width="9.55" height="1.60" fill="#4ecd4c"/>
<rect x="151.75" y="160.00" width="9.55" height="1.60" fill="#d5c100"/>
<rect x="151.75" y="161.25" width="9.55" height="1.60" fill="#eebd00"/>
<rect x="151.75" y="162.50" width="9.55" height="1.60" fill="#9dc822"/>
<rect x="151.75" y="163.75" width="9.55" height="1.60" fill="#ffbb22"/>
<rect x="151.75" y="165.00" width="9.55" height="1.60" fill="#e6bf00"/>
<rect x="151.75" y="166.25" width="9.55" height="1.60" fill="#f4bd03"/>
<rect x="151.75" y="167.50" width="9.55" height="1.60" fill="#ffbb1a"/>
<rect x="151.75" y="168.75" width="9.55" height="1.60" fill="#bfc400"/>
<rect x="151.75" y="170.00" width="9.55" height="1.60" fill="#ffbb23"/>
<rect x="151.75" y="171.25" width="9.55" height="1.60" fill="#00bcc5"/>
<rect x="151.75" y="172.50" width="9.55" height="1.60" fill="#80cb35"/>
<rect x="151.75" y="173.75" width="9.55" height="1.60" fill="#f6bc05"/>
<rect x="151.75" y="175.00" width="9.55" height="1.60" fill="#00c4ab"/>
<rect x="151.75" y="176.25" width="9.55" height="1.60" fill="#b6c60a"/>
<rect x="151.75" y="177.50" width="9.55" height="1.60" fill="#dfc000"/>
<rect x="151.75" y="178.75" width="9.55" height="1.60" fill="#ffbb22"/>
<rect x="151.75" y="180.00" width="9.55" height="1.60" fill="#d8c100"/>
<rect x="151.75" y="181.25" width="9.55" height="1.60" fill="#00c2b3"/>
<rect x="151.75" y="182.50" width="9.55" height="1.60" fill="#ffbb21"/>
<rect x="151.75" y="183.75" width="9.55" height="1.60" fill="#d6c100"/>
<rect x="151.75" y="185.00" width="9.55" height="1.60" fill="#ffbb1d"/>
<rect x="151.75" y="186.25" width="9.55" height="1.60" fill="#f5bc04"/>
<rect x="151.75" y="187.50" width="9.55" height="1.60" fill="#8aca2f"/>
<rect x="151.75" y="188.75" width="9.55" height="1.60" fill="#ffbb1d"/>
<rect x="151.75" y="190.00" width="9.55" height="1.60" fill="#ffbb27"/>
<rect x="151.75" y="191.25" width="9.55" height="1.60" fill="#d4c100"/>
<rect x="151.75" y="192.50" width="9.55" height="1.60" fill="#90c92b"/>
<rect x="151.75" y="193.75" width="9.55" height="1.60" fill="#eebd00"/>
<rect x="151.75" y="195.00" width="9.55" height="1.60" fill="#fabc10"/>
<rect x="151.75" y="196.25" width="9.55" height="1.60" fill="#ffbb20"/>
<rect x="151.75" y="197.50" width="9.55" height="1.60" fill="#ffbc2a"/>
<rect x="151.75" y="198.75" width="9.55" height="1.60" fill="#00c3ad"/>
<rect x="151.75" y="200.00" width="9.55" height="1.60" fill="#fdbc16"/>
<rect x="151.75" y="201.25" width="9.55" height="1.60" fill="#00bdc3"/>
<rect x="151.75" y="202.50" width="9.55" height="1.60" fill="#00ce5e"/>
<rect x="151.75" y="203.75" width="9.55" height="1.60" fill="#dbc000"/>
<rect x="151.75" y="205.00" width="9.55" height="1.60" fill="#00c89b"/>
<rect x="151.75" y="206.25" width="9.55" height="1.60" fill="#00bbc6"/>
<rect x="151.75" y="207.50" width="9.55" height="1.60" fill="#0094f1"/>
<rect x="151.75" y="208.75" width="9.55" height="1.60" fill="#80cb35"/>
<rect x="151.75" y="210.00" width="9.55" height="1.60" fill="#e2bf00"/>
<rect x="151.75" y="211.25" width="9.55" height="1.60" fill="#ffbc19"/>
<rect x="151.75" y="212.50" width="9.55" height="1.60" fill="#f4bd02"/>
<rect x="151.75" y="213.75" width="9.55" height="1.60" fill="#f5bc05"/>
<rect x="151.75" y="215.00" width="9.55" height="1.60" fill="#a5c81b"/>
<rect x="151.75" y="216.25" width="9.55" height="1.60" fill="#a6c71b"/>
<rect x="151.75" y="217.50" width="9.55" height="1.60" fill="#adc714"/>
<rect x="151.75" y="218.75" width="9.55" height="1.60" fill="#b1c60f"/>
<rect x="151.75" y="220.00" width="9.55" height="1.60" fill="#f9bc0e"/>
<rect x="151.75" y="221.25" width="9.55" height="1.60" fill="#eebd00"/>
<rect x="151.75" y="222.50" width="9.55" height="1.60" fill="#ffbb1d"/>
<rect x="151.75" y="223.75" width="9.55" height="1.60" fill="#89ca2f"/>
<rect x="151.75" y="225.00" width="9.55" height="1.60" fill="#a0c81f"/>
<rect x="151.75" y="226.25" width="9.55" height="1.60" fill="#a0c81f"/>
<rect x="151.75" y="227.50" width="9.55" height="1.60" fill="#efbd00"/>
<rect x="151.75" y="228.75" width="9.55" height="1.60" fill="#f0bd00"/>
<rect x="151.75" y="230.00" width="9.55" height="1.60" fill="#dfc000"/>
<rect x="151.75" y="231.25" width="9.55" height="1.60" fill="#dac000"/>
<rect x="151.75" y="232.50" width="9.55" height="1.60" fill="#00c3ae"/>
<rect x="151.75" y="233.75" width="9.55" height="1.60" fill="#ffbb23"/>
<rect x="151.75" y="235.00" width="9.55" height="1.60" fill="#00ce60"/>
<rect x="151.75" y="236.25" width="9.55" height="1.60" fill="#fdbc16"/>
<rect x="151.75" y="237.50" width="9.55" height="1.60" fill="#f6bc06"/>
<rect x="151.75" y="238.75" width="9.55" height="1.60" fill="#f2bd01"/>
<rect x="151.75" y="240.00" width="9.55" height="1.60" fill="#ffbb20"/>
<rect x="151.75" y="241.25" width="9.55" height="1.60" fill="#ffbb23"/>
<rect x="151.75" y="242.50" width="9.55" height="1.60" fill="#bec500"/>
<rect x="151.75" y="243.75" width="9.55" height="1.60" fill="#e2bf00"/>
<rect x="151.75" y="245.00" width="9.55" height="1.60" fill="#0085fc"/>
<rect x="151.75" y="246.25" width="9.55" height="1.60" fill="#c0c400"/>
<rect x="151.75" y="247.50" width="9.55" height="1.60" fill="#00ce67"/>
<rect x="151.75" y="248.75" width="9.55" height="1.60" fill="#ffbb23"/>
<rect x="151.75" y="250.00" width="9.55" height="1.60" fill="#d8c100"/>
<rect x="151.75" y="251.25" width="9.55" height="1.60" fill="#13ce58"/>
<rect x="151.75" y="252.50" width="9.55" height="1.60" fill="#00ce5e"/>
<rect x="151.75" y="253.75" width="9.55" height="1.60" fill="#00ce68"/>
<rect x="151.75" y="255.00" width="9.55" height="1.60" fill="#ffbb25"/>
<rect x="151.75" y="256.25" width="9.55" height="1.60" fill="#00ce66"/>
<rect x="151.75" y="257.50" width="9.55" height="1.60" fill="#58cd49"/>
<rect x="151.75" y="258.75" width="9.55" height="1.60" fill="#8eca2c"/>
<rect x="151.75" y="260.00" width="9.55" height="1.60" fill="#3ecd51"/>
<rect x="151.75" y="261.25" width="9.55" height="1.60" fill="#56cd4a"/>
<rect x="151.75" y="262.50" width="9.55" height="1.60" fill="#ffbb24"/>
<rect x="151.75" y="263.75" width="9.55" height="1.60" fill="#00cd7c"/>
<rect x="151.75" y="265.00" width="9.55" height="1.60" fill="#00c997"/>
<rect x="151.75" y="266.25" width="9.55" height="1.60" fill="#42cd50"/>
<rect x="151.75" y="267.50" width="9.55" height="1.60" fill="#ffbb1c"/>
<rect x="151.75" y="268.75" width="9.55" height="1.60" fill="#00c0b9"/>
<rect x="151.75" y="270.00" width="9.55" height="1.60" fill="#c9c300"/>
<rect x="151.75" y="271.25" width="9.55" height="1.60" fill="#dcc000"/>
<rect x="151.75" y="272.50" width="9.55" height="1.60" fill="#ffbb1d"/>
<rect x="151.75" y="273.75" width="9.55" height="1.60" fill="#eebd00"/>
<rect x="151.75" y="275.00" width="9.55" height="1.60" fill="#c6c300"/>
<rect x="151.75" y="276.25" width="9.55" height="1.60" fill="#9fc820"/>
<rect x="151.75" y="277.50" width="9.55" height="1.60" fill="#16ce58"/>
<rect x="151.75" y="278.75" width="9.55" height="1.60" fill="#00ce6b"/>
<rect x="151.75" y="280.00" width="9.55" height="1.60" fill="#00ce66"/>
<rect x="151.75" y="281.25" width="9.55" height="1.60" fill="#f6bc05"/>
<rect x="151.75" y="282.50" width="9.55" height="1.60" fill="#00cc83"/>
<rect x="151.75" y="283.75" width="9.55" height="1.60" fill="#d9c100"/>
<rect x="151.75" y="285.00" width="9.55" height="1.60" fill="#f6bc06"/>
<rect x="151.75" y="286.25" width="9.55" height="1.30" fill="#00c0b8"/>
<rect x="151.75" y="123.40" width="9.55" height="1.85" fill="#0078ff"/>
<rect x="151.75" y="122.00" width="9.55" height="1.65" fill="#395bfe"/>
<rect x="151.75" y="120.40" width="9.55" height="1.85" fill="#4835dd"/>
<rect x="151.75" y="119.00" width="9.55" height="1.65" fill="#4831d5"/>
<rect x="151.75" y="117.40" width="9.55" height="1.85" fill="#4525b9"/>
<rect x="151.75" y="116.00" width="9.55" height="1.65" fill="#4527bc"/>
<rect x="151.75" y="287.20" width="9.55" height="1.65" fill="#00a4e7"/>
<rect x="151.75" y="288.60" width="9.55" height="1.85" fill="#0072ff"/>
<rect x="151.75" y="290.20" width="9.55" height="1.65" fill="#0077ff"/>
<rect x="151.75" y="291.60" width="9.55" height="1.85" fill="#3f54fa"/>
<rect x="151.75" y="293.20" width="9.55" height="1.65" fill="#365eff"/>
<rect x="151.75" y="294.60" width="9.55" height="1.85" fill="#4836de"/>
<rect x="151.75" y="296.20" width="9.55" height="1.65" fill="#4151f9"/>
<rect x="151.75" y="297.60" width="9.55" height="1.85" fill="#4830d2"/>
<rect x="151.75" y="299.20" width="9.55" height="1.65" fill="#483be5"/>
<rect x="151.75" y="300.60" width="9.55" height="1.85" fill="#462ac3"/>
<rect x="151.75" y="302.20" width="9.55" height="1.65" fill="#4835dd"/>
<rect x="151.75" y="303.60" width="9.55" height="1.85" fill="#4528bf"/>
<rect x="151.75" y="305.20" width="9.55" height="1.65" fill="#472ecd"/>
<rect x="151.75" y="306.60" width="9.55" height="1.85" fill="#4526ba"/>
<rect x="151.75" y="308.20" width="9.55" height="1.65" fill="#462bc6"/>
<rect x="151.75" y="311.20" width="9.55" height="1.65" fill="#4526ba"/>
<rect x="161.00" y="125.00" width="9.05" height="1.60" fill="#00bfbb"/>
<rect x="161.00" y="126.25" width="9.05" height="1.60" fill="#e5bf00"/>
<rect x="161.00" y="127.50" width="9.05" height="1.60" fill="#c8c300"/>
<rect x="161.00" y="128.75" width="9.05" height="1.60" fill="#f8bc0d"/>
<rect x="161.00" y="130.00" width="9.05" height="1.60" fill="#7ccb37"/>
<rect x="161.00" y="131.25" width="9.05" height="1.60" fill="#00bdc2"/>
<rect x="161.00" y="132.50" width="9.05" height="1.60" fill="#f1bd00"/>
<rect x="161.00" y="133.75" width="9.05" height="1.60" fill="#f5bc04"/>
<rect x="161.00" y="135.00" width="9.05" height="1.60" fill="#00c3af"/>
<rect x="161.00" y="136.25" width="9.05" height="1.60" fill="#00c5a7"/>
<rect x="161.00" y="137.50" width="9.05" height="1.60" fill="#ffbb22"/>
<rect x="161.00" y="138.75" width="9.05" height="1.60" fill="#008cf8"/>
<rect x="161.00" y="140.00" width="9.05" height="1.60" fill="#00a1e8"/>
<rect x="161.00" y="141.25" width="9.05" height="1.60" fill="#00cc82"/>
<rect x="161.00" y="142.50" width="9.05" height="1.60" fill="#d7c100"/>
<rect x="161.00" y="143.75" width="9.05" height="1.60" fill="#a7c719"/>
<rect x="161.00" y="145.00" width="9.05" height="1.60" fill="#ffbb21"/>
<rect x="161.00" y="146.25" width="9.05" height="1.60" fill="#00ce65"/>
<rect x="161.00" y="147.50" width="9.05" height="1.60" fill="#00ce64"/>
<rect x="161.00" y="148.75" width="9.05" height="1.60" fill="#ffbb1b"/>
<rect x="161.00" y="150.00" width="9.05" height="1.60" fill="#fabc11"/>
<rect x="161.00" y="151.25" width="9.05" height="1.60" fill="#c6c300"/>
<rect x="161.00" y="152.50" width="9.05" height="1.60" fill="#00a8e4"/>
<rect x="161.00" y="153.75" width="9.05" height="1.60" fill="#95c928"/>
<rect x="161.00" y="155.00" width="9.05" height="1.60" fill="#b2c60f"/>
<rect x="161.00" y="156.25" width="9.05" height="1.60" fill="#fabc10"/>
<rect x="161.00" y="157.50" width="9.05" height="1.60" fill="#ffbb1a"/>
<rect x="161.00" y="158.75" width="9.05" height="1.60" fill="#ffbb22"/>
<rect x="161.00" y="160.00" width="9.05" height="1.60" fill="#a1c81f"/>
<rect x="161.00" y="161.25" width="9.05" height="1.60" fill="#b5c60a"/>
<rect x="161.00" y="162.50" width="9.05" height="1.60" fill="#aac717"/>
<rect x="161.00" y="163.75" width="9.05" height="1.60" fill="#c2c400"/>
<rect x="161.00" y="165.00" width="9.05" height="1.60" fill="#eabe00"/>
<rect x="161.00" y="166.25" width="9.05" height="1.60" fill="#ffbb1b"/>
<rect x="161.00" y="167.50" width="9.05" height="1.60" fill="#edbd00"/>
<rect x="161.00" y="168.75" width="9.05" height="1.60" fill="#efbd00"/>
<rect x="161.00" y="170.00" width="9.05" height="1.60" fill="#f6bc06"/>
<rect x="161.00" y="171.25" width="9.05" height="1.60" fill="#00ace1"/>
<rect x="161.00" y="172.50" width="9.05" height="1.60" fill="#f6bc06"/>
<rect x="161.00" y="173.75" width="9.05" height="1.60" fill="#26ce56"/>
<rect x="161.00" y="175.00" width="9.05" height="1.60" fill="#ddc000"/>
<rect x="161.00" y="176.25" width="9.05" height="1.60" fill="#00cd7d"/>
<rect x="161.00" y="177.50" width="9.05" height="1.60" fill="#3fcd51"/>
<rect x="161.00" y="178.75" width="9.05" height="1.60" fill="#f0bd00"/>
<rect x="161.00" y="180.00" width="9.05" height="1.60" fill="#26ce56"/>
<rect x="161.00" y="181.25" width="9.05" height="1.60" fill="#48cd4e"/>
<rect x="161.00" y="182.50" width="9.05" height="1.60" fill="#00c0b9"/>
<rect x="161.00" y="183.75" width="9.05" height="1.60" fill="#c7c300"/>
<rect x="161.00" y="185.00" width="9.05" height="1.60" fill="#afc612"/>
<rect x="161.00" y="186.25" width="9.05" height="1.60" fill="#edbe00"/>
<rect x="161.00" y="187.50" width="9.05" height="1.60" fill="#3dcd51"/>
<rect x="161.00" y="188.75" width="9.05" height="1.60" fill="#00cd7c"/>
<rect x="161.00" y="190.00" width="9.05" height="1.60" fill="#00cd76"/>
<rect x="161.00" y="191.25" width="9.05" height="1.60" fill="#00cd7c"/>
<rect x="161.00" y="192.50" width="9.05" height="1.60" fill="#00ce6e"/>
<rect x="161.00" y="193.75" width="9.05" height="1.60" fill="#e4bf00"/>
<rect x="161.00" y="195.00" width="9.05" height="1.60" fill="#00c1b5"/>
<rect x="161.00" y="196.25" width="9.05" height="1.60" fill="#bdc501"/>
<rect x="161.00" y="197.50" width="9.05" height="1.60" fill="#b1c611"/>
<rect x="161.00" y="198.75" width="9.05" height="1.60" fill="#e8be00"/>
<rect x="161.00" y="200.00" width="9.05" height="1.60" fill="#00bcc4"/>
<rect x="161.00" y="201.25" width="9.05" height="1.60" fill="#00bcc4"/>
<rect x="161.00" y="202.50" width="9.05" height="1.60" fill="#00bfbb"/>
<rect x="161.00" y="203.75" width="9.05" height="1.60" fill="#febc17"/>
<rect x="161.00" y="205.00" width="9.05" height="1.60" fill="#cbc300"/>
<rect x="161.00" y="206.25" width="9.05" height="1.60" fill="#7ecb36"/>
<rect x="161.00" y="207.50" width="9.05" height="1.60" fill="#a7c71a"/>
<rect x="161.00" y="208.75" width="9.05" height="1.60" fill="#00ca93"/>
<rect x="161.00" y="210.00" width="9.05" height="1.60" fill="#f3bd02"/>
<rect x="161.00" y="211.25" width="9.05" height="1.60" fill="#ffbb25"/>
<rect x="161.00" y="212.50" width="9.05" height="1.60" fill="#90c92b"/>
<rect x="161.00" y="213.75" width="9.05" height="1.60" fill="#a2c81d"/>
<rect x="161.00" y="215.00" width="9.05" height="1.60" fill="#ffbb24"/>
<rect x="161.00" y="216.25" width="9.05" height="1.60" fill="#d9c100"/>
<rect x="161.00" y="217.50" width="9.05" height="1.60" fill="#00c2b3"/>
<rect x="161.00" y="218.75" width="9.05" height="1.60" fill="#00bcc5"/>
<rect x="161.00" y="220.00" width="9.05" height="1.60" fill="#b4c60c"/>
<rect x="161.00" y="221.25" width="9.05" height="1.60" fill="#aec613"/>
<rect x="161.00" y="222.50" width="9.05" height="1.60" fill="#00ace1"/>
<rect x="161.00" y="223.75" width="9.05" height="1.60" fill="#f7bc08"/>
<rect x="161.00" y="225.00" width="9.05" height="1.60" fill="#ebbe00"/>
<rect x="161.00" y="226.25" width="9.05" height="1.60" fill="#ffbb20"/>
<rect x="161.00" y="227.50" width="9.05" height="1.60" fill="#ffbc2a"/>
<rect x="161.00" y="228.75" width="9.05" height="1.60" fill="#3acd52"/>
<rect x="161.00" y="230.00" width="9.05" height="1.60" fill="#4acd4e"/>
<rect x="161.00" y="231.25" width="9.05" height="1.60" fill="#00cc82"/>
<rect x="161.00" y="232.50" width="9.05" height="1.60" fill="#7ccb37"/>
<rect x="161.00" y="233.75" width="9.05" height="1.60" fill="#ffbb1d"/>
<rect x="161.00" y="235.00" width="9.05" height="1.60" fill="#00ce62"/>
<rect x="161.00" y="236.25" width="9.05" height="1.60" fill="#adc714"/>
<rect x="161.00" y="237.50" width="9.05" height="1.60" fill="#d9c100"/>
<rect x="161.00" y="238.75" width="9.05" height="1.60" fill="#a2c81e"/>
<rect x="161.00" y="240.00" width="9.05" height="1.60" fill="#adc714"/>
<rect x="161.00" y="241.25" width="9.05" height="1.60" fill="#ffbb1e"/>
<rect x="161.00" y="242.50" width="9.05" height="1.60" fill="#00c3af"/>
<rect x="161.00" y="243.75" width="9.05" height="1.60" fill="#00c2b2"/>
<rect x="161.00" y="245.00" width="9.05" height="1.60" fill="#00ca92"/>
<rect x="161.00" y="246.25" width="9.05" height="1.60" fill="#93c929"/>
<rect x="161.00" y="247.50" width="9.05" height="1.60" fill="#f8bc0d"/>
<rect x="161.00" y="248.75" width="9.05" height="1.60" fill="#e4bf00"/>
<rect x="161.00" y="250.00" width="9.05" height="1.60" fill="#bdc501"/>
<rect x="161.00" y="251.25" width="9.05" height="1.60" fill="#ffbb20"/>
<rect x="161.00" y="252.50" width="9.05" height="1.60" fill="#d9c100"/>
<rect x="161.00" y="253.75" width="9.05" height="1.60" fill="#7dcb37"/>
<rect x="161.00" y="255.00" width="9.05" height="1.60" fill="#0087fb"/>
<rect x="161.00" y="256.25" width="9.05" height="1.60" fill="#f4bd04"/>
<rect x="161.00" y="257.50" width="9.05" height="1.60" fill="#00ce6f"/>
<rect x="161.00" y="258.75" width="9.05" height="1.60" fill="#bcc501"/>
<rect x="161.00" y="260.00" width="9.05" height="1.60" fill="#dfc000"/>
<rect x="161.00" y="261.25" width="9.05" height="1.60" fill="#00bdc3"/>
<rect x="161.00" y="262.50" width="9.05" height="1.60" fill="#00c2b2"/>
<rect x="161.00" y="263.75" width="9.05" height="1.60" fill="#00c6a4"/>
<rect x="161.00" y="265.00" width="9.05" height="1.60" fill="#00ce60"/>
<rect x="161.00" y="266.25" width="9.05" height="1.60" fill="#00cd7a"/>
<rect x="161.00" y="267.50" width="9.05" height="1.60" fill="#66cc43"/>
<rect x="161.00" y="268.75" width="9.05" height="1.60" fill="#c4c400"/>
<rect x="161.00" y="270.00" width="9.05" height="1.60" fill="#f0bd00"/>
<rect x="161.00" y="271.25" width="9.05" height="1.60" fill="#bfc400"/>
<rect x="161.00" y="272.50" width="9.05" height="1.60" fill="#f4bd03"/>
<rect x="161.00" y="273.75" width="9.05" height="1.60" fill="#fcbc15"/>
<rect x="161.00" y="275.00" width="9.05" height="1.60" fill="#ffbb21"/>
<rect x="161.00" y="276.25" width="9.05" height="1.60" fill="#eebd00"/>
<rect x="161.00" y="277.50" width="9.05" height="1.60" fill="#00ca93"/>
<rect x="161.00" y="278.75" width="9.05" height="1.60" fill="#f3bd02"/>
<rect x="161.00" y="280.00" width="9.05" height="1.60" fill="#d4c100"/>
<rect x="161.00" y="281.25" width="9.05" height="1.60" fill="#c9c300"/>
<rect x="161.00" y="282.50" width="9.05" height="1.60" fill="#00bdc3"/>
<rect x="161.00" y="283.75" width="9.05" height="1.60" fill="#00bdc3"/>
<rect x="161.00" y="285.00" width="9.05" height="1.60" fill="#00ce5c"/>
<rect x="161.00" y="286.25" width="9.05" height="0.60" fill="#00b2d9"/>
<rect x="161.00" y="123.60" width="9.05" height="1.65" fill="#00a9e4"/>
<rect x="161.00" y="122.00" width="9.05" height="1.85" fill="#007eff"/>
<rect x="161.00" y="120.60" width="9.05" height="1.65" fill="#008af9"/>
<rect x="161.00" y="119.00" width="9.05" height="1.85" fill="#2a66ff"/>
<rect x="161.00" y="117.60" width="9.05" height="1.65" fill="#355fff"/>
<rect x="161.00" y="116.00" width="9.05" height="1.85" fill="#4834da"/>
<rect x="161.00" y="114.60" width="9.05" height="1.65" fill="#3f55fb"/>
<rect x="161.00" y="113.00" width="9.05" height="1.85" fill="#4830d1"/>
<rect x="161.00" y="111.60" width="9.05" height="1.65" fill="#4743ee"/>
<rect x="161.00" y="110.00" width="9.05" height="1.85" fill="#462bc5"/>
<rect x="161.00" y="108.60" width="9.05" height="1.65" fill="#483be5"/>
<rect x="161.00" y="107.00" width="9.05" height="1.85" fill="#4528bf"/>
<rect x="161.00" y="105.60" width="9.05" height="1.65" fill="#4834da"/>
<rect x="161.00" y="104.00" width="9.05" height="1.85" fill="#4528be"/>
<rect x="161.00" y="102.60" width="9.05" height="1.65" fill="#472dcb"/>
<rect x="161.00" y="99.60" width="9.05" height="1.65" fill="#462ac4"/>
<rect x="161.00" y="96.60" width="9.05" height="1.65" fill="#4527bd"/>
<rect x="161.00" y="93.60" width="9.05" height="1.65" fill="#4526bb"/>
<rect x="161.00" y="286.50" width="9.05" height="1.65" fill="#009ceb"/>
<rect x="161.00" y="287.90" width="9.05" height="1.85" fill="#0089fa"/>
<rect x="161.00" y="289.50" width="9.05" height="1.65" fill="#00a0e9"/>
<rect x="161.00" y="290.90" width="9.05" height="1.85" fill="#216aff"/>
<rect x="161.00" y="292.50" width="9.05" height="1.65" fill="#0081fe"/>
<rect x="161.00" y="293.90" width="9.05" height="1.85" fill="#4549f3"/>
<rect x="161.00" y="295.50" width="9.05" height="1.65" fill="#007dff"/>
<rect x="161.00" y="296.90" width="9.05" height="1.85" fill="#483de7"/>
<rect x="161.00" y="298.50" width="9.05" height="1.65" fill="#385cfe"/>
<rect x="161.00" y="299.90" width="9.05" height="1.85" fill="#4838e2"/>
<rect x="161.00" y="301.50" width="9.05" height="1.65" fill="#3a5afe"/>
<rect x="161.00" y="302.90" width="9.05" height="1.85" fill="#4830d2"/>
<rect x="161.00" y="304.50" width="9.05" height="1.65" fill="#4645ef"/>
<rect x="161.00" y="305.90" width="9.05" height="1.85" fill="#472dcc"/>
<rect x="161.00" y="307.50" width="9.05" height="1.65" fill="#4646f0"/>
<rect x="161.00" y="308.90" width="9.05" height="1.85" fill="#472dcc"/>
<rect x="161.00" y="310.50" width="9.05" height="1.65" fill="#4839e2"/>
<rect x="161.00" y="311.90" width="9.05" height="1.85" fill="#472cc9"/>
<rect x="161.00" y="313.50" width="9.05" height="1.65" fill="#4839e3"/>
<rect x="161.00" y="314.90" width="9.05" height="1.85" fill="#4528bf"/>
<rect x="161.00" y="316.50" width="9.05" height="1.65" fill="#4833d9"/>
<rect x="161.00" y="317.90" width="9.05" height="1.85" fill="#4527bd"/>
<rect x="161.00" y="319.50" width="9.05" height="1.65" fill="#472ece"/>
<rect x="161.00" y="320.90" width="9.05" height="1.85" fill="#4526ba"/>
<rect x="161.00" y="322.50" width="9.05" height="1.65" fill="#472ecd"/>
<rect x="161.00" y="323.90" width="9.05" height="1.85" fill="#4526ba"/>
<rect x="161.00" y="325.50" width="9.05" height="1.65" fill="#462ac3"/>
<rect x="161.00" y="328.50" width="9.05" height="1.65" fill="#4628c0"/>
<rect x="161.00" y="331.50" width="9.05" height="1.65" fill="#4629c1"/>
<rect x="161.00" y="334.50" width="9.05" height="1.65" fill="#4526bb"/>
<rect x="161.00" y="337.50" width="9.05" height="1.65" fill="#4526ba"/>
<rect x="207.30" y="162.50" width="9.55" height="1.60" fill="#00ce65"/>
<rect x="207.30" y="163.75" width="9.55" height="1.60" fill="#ffbb1f"/>
<rect x="207.30" y="165.00" width="9.55" height="1.60" fill="#e8be00"/>
<rect x="207.30" y="166.25" width="9.55" height="1.60" fill="#c4c400"/>
<rect x="207.30" y="167.50" width="9.55" height="1.60" fill="#ffbb28"/>
<rect x="207.30" y="168.75" width="9.55" height="1.60" fill="#e5bf00"/>
<rect x="207.30" y="170.00" width="9.55" height="1.60" fill="#f1bd00"/>
<rect x="207.30" y="171.25" width="9.55" height="1.60" fill="#00cd77"/>
<rect x="207.30" y="172.50" width="9.55" height="1.60" fill="#fcbc14"/>
<rect x="207.30" y="173.75" width="9.55" height="1.60" fill="#e4bf00"/>
<rect x="207.30" y="175.00" width="9.55" height="1.60" fill="#d3c100"/>
<rect x="207.30" y="176.25" width="9.55" height="1.60" fill="#ffbb1c"/>
<rect x="207.30" y="177.50" width="9.55" height="1.60" fill="#e0bf00"/>
<rect x="207.30" y="178.75" width="9.55" height="1.60" fill="#fdbc16"/>
<rect x="207.30" y="180.00" width="9.55" height="1.60" fill="#d2c200"/>
<rect x="207.30" y="181.25" width="9.55" height="1.60" fill="#a2c81e"/>
<rect x="207.30" y="182.50" width="9.55" height="1.60" fill="#e6bf00"/>
<rect x="207.30" y="183.75" width="9.55" height="1.60" fill="#cec200"/>
<rect x="207.30" y="185.00" width="9.55" height="1.60" fill="#e8be00"/>
<rect x="207.30" y="186.25" width="9.55" height="1.60" fill="#95c928"/>
<rect x="207.30" y="187.50" width="9.55" height="1.60" fill="#eebd00"/>
<rect x="207.30" y="188.75" width="9.55" height="1.60" fill="#92c92a"/>
<rect x="207.30" y="190.00" width="9.55" height="1.60" fill="#a2c81d"/>
<rect x="207.30" y="191.25" width="9.55" height="1.60" fill="#ebbe00"/>
<rect x="207.30" y="192.50" width="9.55" height="1.60" fill="#eabe00"/>
<rect x="207.30" y="193.75" width="9.55" height="1.60" fill="#eabe00"/>
<rect x="207.30" y="195.00" width="9.55" height="1.60" fill="#edbe00"/>
<rect x="207.30" y="196.25" width="9.55" height="1.60" fill="#e6bf00"/>
<rect x="207.30" y="197.50" width="9.55" height="1.60" fill="#71cc3d"/>
<rect x="207.30" y="198.75" width="9.55" height="1.60" fill="#e6bf00"/>
<rect x="207.30" y="200.00" width="9.55" height="1.60" fill="#f0bd00"/>
<rect x="207.30" y="201.25" width="9.55" height="1.60" fill="#f6bc05"/>
<rect x="207.30" y="202.50" width="9.55" height="1.60" fill="#9ac924"/>
<rect x="207.30" y="203.75" width="9.55" height="1.60" fill="#00cd7b"/>
<rect x="207.30" y="205.00" width="9.55" height="1.60" fill="#c8c300"/>
<rect x="207.30" y="206.25" width="9.55" height="1.60" fill="#ffbb25"/>
<rect x="207.30" y="207.50" width="9.55" height="1.60" fill="#e2bf00"/>
<rect x="207.30" y="208.75" width="9.55" height="1.60" fill="#ecbe00"/>
<rect x="207.30" y="210.00" width="9.55" height="1.60" fill="#e2bf00"/>
<rect x="207.30" y="211.25" width="9.55" height="1.60" fill="#f2bd00"/>
<rect x="207.30" y="212.50" width="9.55" height="1.60" fill="#6dcc3f"/>
<rect x="207.30" y="213.75" width="9.55" height="1.60" fill="#e7be00"/>
<rect x="207.30" y="215.00" width="9.55" height="1.60" fill="#e9be00"/>
<rect x="207.30" y="216.25" width="9.55" height="1.60" fill="#f7bc09"/>
<rect x="207.30" y="217.50" width="9.55" height="1.60" fill="#fbbc13"/>
<rect x="207.30" y="218.75" width="9.55" height="1.60" fill="#00ce65"/>
<rect x="207.30" y="220.00" width="9.55" height="1.60" fill="#00ce67"/>
<rect x="207.30" y="221.25" width="9.55" height="1.60" fill="#00ce66"/>
<rect x="207.30" y="222.50" width="9.55" height="1.60" fill="#e2bf00"/>
<rect x="207.30" y="223.75" width="9.55" height="1.60" fill="#ffbb27"/>
<rect x="207.30" y="225.00" width="9.55" height="1.60" fill="#ffbb21"/>
<rect x="207.30" y="226.25" width="9.55" height="1.60" fill="#ebbe00"/>
<rect x="207.30" y="227.50" width="9.55" height="1.60" fill="#ffbb1a"/>
<rect x="207.30" y="228.75" width="9.55" height="1.60" fill="#f7bc09"/>
<rect x="207.30" y="230.00" width="9.55" height="1.60" fill="#d1c200"/>
<rect x="207.30" y="231.25" width="9.55" height="1.60" fill="#dec000"/>
<rect x="207.30" y="232.50" width="9.55" height="1.60" fill="#c1c400"/>
<rect x="207.30" y="233.75" width="9.55" height="1.60" fill="#bac504"/>
<rect x="207.30" y="235.00" width="9.55" height="1.60" fill="#a7c71a"/>
<rect x="207.30" y="236.25" width="9.55" height="1.60" fill="#b9c505"/>
<rect x="207.30" y="237.50" width="9.55" height="1.60" fill="#ffbb1a"/>
<rect x="207.30" y="238.75" width="9.55" height="1.60" fill="#febc18"/>
<rect x="207.30" y="240.00" width="9.55" height="1.60" fill="#ffbb23"/>
<rect x="207.30" y="241.25" width="9.55" height="1.60" fill="#62cc44"/>
<rect x="207.30" y="242.50" width="9.55" height="1.60" fill="#e7be00"/>
<rect x="207.30" y="243.75" width="9.55" height="1.60" fill="#d5c100"/>
<rect x="207.30" y="245.00" width="9.55" height="1.60" fill="#cfc200"/>
<rect x="207.30" y="246.25" width="9.55" height="1.60" fill="#f0bd00"/>
<rect x="207.30" y="247.50" width="9.55" height="1.60" fill="#00bbc7"/>
<rect x="207.30" y="248.75" width="9.55" height="1.10" fill="#00bfbd"/>
<rect x="207.30" y="160.90" width="9.55" height="1.85" fill="#0081fe"/>
<rect x="207.30" y="159.50" width="9.55" height="1.65" fill="#00a2e8"/>
<rect x="207.30" y="157.90" width="9.55" height="1.85" fill="#0e6dff"/>
<rect x="207.30" y="156.50" width="9.55" height="1.65" fill="#2d64ff"/>
<rect x="207.30" y="154.90" width="9.55" height="1.85" fill="#4836df"/>
<rect x="207.30" y="153.50" width="9.55" height="1.65" fill="#3e55fb"/>
<rect x="207.30" y="151.90" width="9.55" height="1.85" fill="#4832d7"/>
<rect x="207.30" y="150.50" width="9.55" height="1.65" fill="#4646f0"/>
<rect x="207.30" y="148.90" width="9.55" height="1.85" fill="#472dcc"/>
<rect x="207.30" y="147.50" width="9.55" height="1.65" fill="#4836df"/>
<rect x="207.30" y="145.90" width="9.55" height="1.85" fill="#462ac3"/>
<rect x="207.30" y="144.50" width="9.55" height="1.65" fill="#482fd1"/>
<rect x="207.30" y="142.90" width="9.55" height="1.85" fill="#4527bd"/>
<rect x="207.30" y="141.50" width="9.55" height="1.65" fill="#472dca"/>
<rect x="207.30" y="138.50" width="9.55" height="1.65" fill="#4629c1"/>
<rect x="207.30" y="135.50" width="9.55" height="1.65" fill="#4526ba"/>
<rect x="207.30" y="249.50" width="9.55" height="1.65" fill="#00b3d8"/>
<rect x="207.30" y="250.90" width="9.55" height="1.85" fill="#0086fb"/>
<rect x="207.30" y="252.50" width="9.55" height="1.65" fill="#007fff"/>
<rect x="207.30" y="253.90" width="9.55" height="1.85" fill="#2667ff"/>
<rect x="207.30" y="255.50" width="9.55" height="1.65" fill="#2b65ff"/>
<rect x="207.30" y="256.90" width="9.55" height="1.85" fill="#4833d9"/>
<rect x="207.30" y="258.50" width="9.55" height="1.65" fill="#3c59fd"/>
<rect x="207.30" y="259.90" width="9.55" height="1.85" fill="#472ece"/>
<rect x="207.30" y="261.50" width="9.55" height="1.65" fill="#483de7"/>
<rect x="207.30" y="262.90" width="9.55" height="1.85" fill="#462bc6"/>
<rect x="207.30" y="264.50" width="9.55" height="1.65" fill="#4836de"/>
<rect x="207.30" y="265.90" width="9.55" height="1.85" fill="#462ac3"/>
<rect x="207.30" y="267.50" width="9.55" height="1.65" fill="#4832d8"/>
<rect x="207.30" y="268.90" width="9.55" height="1.85" fill="#4526bb"/>
<rect x="207.30" y="270.50" width="9.55" height="1.65" fill="#472cca"/>
<rect x="207.30" y="271.90" width="9.55" height="1.85" fill="#4525b9"/>
<rect x="207.30" y="273.50" width="9.55" height="1.65" fill="#462ac3"/>
<rect x="207.30" y="276.50" width="9.55" height="1.65" fill="#4527bc"/>
<rect x="216.55" y="125.00" width="9.55" height="1.60" fill="#00cb8f"/>
<rect x="216.55" y="126.25" width="9.55" height="1.60" fill="#f9bc0f"/>
<rect x="216.55" y="127.50" width="9.55" height="1.60" fill="#b5c60a"/>
<rect x="216.55" y="128.75" width="9.55" height="1.60" fill="#efbd00"/>
<rect x="216.55" y="130.00" width="9.55" height="1.60" fill="#b4c60d"/>
<rect x="216.55" y="131.25" width="9.55" height="1.60" fill="#00c79e"/>
<rect x="216.55" y="132.50" width="9.55" height="1.60" fill="#ffbb24"/>
<rect x="216.55" y="133.75" width="9.55" height="1.60" fill="#ffbb24"/>
<rect x="216.55" y="135.00" width="9.55" height="1.60" fill="#fcbc15"/>
<rect x="216.55" y="136.25" width="9.55" height="1.60" fill="#bcc502"/>
<rect x="216.55" y="137.50" width="9.55" height="1.60" fill="#afc613"/>
<rect x="216.55" y="138.75" width="9.55" height="1.60" fill="#d4c100"/>
<rect x="216.55" y="140.00" width="9.55" height="1.60" fill="#d0c200"/>
<rect x="216.55" y="141.25" width="9.55" height="1.60" fill="#f5bc04"/>
<rect x="216.55" y="142.50" width="9.55" height="1.60" fill="#9cc822"/>
<rect x="216.55" y="143.75" width="9.55" height="1.60" fill="#ddc000"/>
<rect x="216.55" y="145.00" width="9.55" height="1.60" fill="#f9bc0f"/>
<rect x="216.55" y="146.25" width="9.55" height="1.60" fill="#f6bc05"/>
<rect x="216.55" y="147.50" width="9.55" height="1.60" fill="#4acd4e"/>
<rect x="216.55" y="148.75" width="9.55" height="1.60" fill="#b8c507"/>
<rect x="216.55" y="150.00" width="9.55" height="1.60" fill="#febc18"/>
<rect x="216.55" y="151.25" width="9.55" height="1.60" fill="#ffbb1c"/>
<rect x="216.55" y="152.50" width="9.55" height="1.60" fill="#52cd4b"/>
<rect x="216.55" y="153.75" width="9.55" height="1.60" fill="#d3c200"/>
<rect x="216.55" y="155.00" width="9.55" height="1.60" fill="#00ce73"/>
<rect x="216.55" y="156.25" width="9.55" height="1.60" fill="#00cc82"/>
<rect x="216.55" y="157.50" width="9.55" height="1.60" fill="#00cd7c"/>
<rect x="216.55" y="158.75" width="9.55" height="1.60" fill="#00cc84"/>
<rect x="216.55" y="160.00" width="9.55" height="1.60" fill="#cbc300"/>
<rect x="216.55" y="161.25" width="9.55" height="1.60" fill="#bac505"/>
<rect x="216.55" y="162.50" width="9.55" height="1.60" fill="#008af9"/>
<rect x="216.55" y="163.75" width="9.55" height="1.60" fill="#99c925"/>
<rect x="216.55" y="165.00" width="9.55" height="1.60" fill="#94c929"/>
<rect x="216.55" y="166.25" width="9.55" height="1.60" fill="#79cb39"/>
<rect x="216.55" y="167.50" width="9.55" height="1.60" fill="#58cd49"/>
<rect x="216.55" y="168.75" width="9.55" height="1.60" fill="#94c928"/>
<rect x="216.55" y="170.00" width="9.55" height="1.60" fill="#00ce6f"/>
<rect x="216.55" y="171.25" width="9.55" height="1.60" fill="#ffbb22"/>
<rect x="216.55" y="172.50" width="9.55" height="1.60" fill="#dcc000"/>
<rect x="216.55" y="173.75" width="9.55" height="1.60" fill="#fbbc13"/>
<rect x="216.55" y="175.00" width="9.55" height="1.60" fill="#42cd50"/>
<rect x="216.55" y="176.25" width="9.55" height="1.60" fill="#4ccd4d"/>
<rect x="216.55" y="177.50" width="9.55" height="1.60" fill="#bfc400"/>
<rect x="216.55" y="178.75" width="9.55" height="1.60" fill="#d8c100"/>
<rect x="216.55" y="180.00" width="9.55" height="1.60" fill="#88ca30"/>
<rect x="216.55" y="181.25" width="9.55" height="1.60" fill="#85ca32"/>
<rect x="216.55" y="182.50" width="9.55" height="1.60" fill="#e2bf00"/>
<rect x="216.55" y="183.75" width="9.55" height="1.60" fill="#b9c505"/>
<rect x="216.55" y="185.00" width="9.55" height="1.60" fill="#c4c400"/>
<rect x="216.55" y="186.25" width="9.55" height="1.60" fill="#f8bc0b"/>
<rect x="216.55" y="187.50" width="9.55" height="1.60" fill="#c6c300"/>
<rect x="216.55" y="188.75" width="9.55" height="1.60" fill="#f9bc0e"/>
<rect x="216.55" y="190.00" width="9.55" height="1.60" fill="#e0bf00"/>
<rect x="216.55" y="191.25" width="9.55" height="1.60" fill="#27ce56"/>
<rect x="216.55" y="192.50" width="9.55" height="1.60" fill="#00ce71"/>
<rect x="216.55" y="193.75" width="9.55" height="1.60" fill="#00cd80"/>
<rect x="216.55" y="195.00" width="9.55" height="1.60" fill="#d5c100"/>
<rect x="216.55" y="196.25" width="9.55" height="1.60" fill="#ffbb22"/>
<rect x="216.55" y="197.50" width="9.55" height="1.60" fill="#8eca2c"/>
<rect x="216.55" y="198.75" width="9.55" height="1.60" fill="#8eca2c"/>
<rect x="216.55" y="200.00" width="9.55" height="1.60" fill="#fbbc13"/>
<rect x="216.55" y="201.25" width="9.55" height="1.60" fill="#00cd7d"/>
<rect x="216.55" y="202.50" width="9.55" height="1.60" fill="#00cd81"/>
<rect x="216.55" y="203.75" width="9.55" height="1.60" fill="#f9bc0f"/>
<rect x="216.55" y="205.00" width="9.55" height="1.60" fill="#efbd00"/>
<rect x="216.55" y="206.25" width="9.55" height="1.60" fill="#00ce6d"/>
<rect x="216.55" y="207.50" width="9.55" height="1.60" fill="#00c995"/>
<rect x="216.55" y="208.75" width="9.55" height="1.60" fill="#eebd00"/>
<rect x="216.55" y="210.00" width="9.55" height="1.60" fill="#d4c100"/>
<rect x="216.55" y="211.25" width="9.55" height="1.60" fill="#00bdc1"/>
<rect x="216.55" y="212.50" width="9.55" height="1.60" fill="#97c926"/>
<rect x="216.55" y="213.75" width="9.55" height="1.60" fill="#a5c71b"/>
<rect x="216.55" y="215.00" width="9.55" height="1.60" fill="#d7c100"/>
<rect x="216.55" y="216.25" width="9.55" height="1.60" fill="#ffbb24"/>
<rect x="216.55" y="217.50" width="9.55" height="1.60" fill="#ffbb1d"/>
<rect x="216.55" y="218.75" width="9.55" height="1.60" fill="#d9c100"/>
<rect x="216.55" y="220.00" width="9.55" height="1.60" fill="#cbc300"/>
<rect x="216.55" y="221.25" width="9.55" height="1.60" fill="#00cd7a"/>
<rect x="216.55" y="222.50" width="9.55" height="1.60" fill="#00ce72"/>
<rect x="216.55" y="223.75" width="9.55" height="1.60" fill="#dac000"/>
<rect x="216.55" y="225.00" width="9.55" height="1.60" fill="#0089fa"/>
<rect x="216.55" y="226.25" width="9.55" height="1.60" fill="#55cd4a"/>
<rect x="216.55" y="227.50" width="9.55" height="1.60" fill="#c9c300"/>
<rect x="216.55" y="228.75" width="9.55" height="1.60" fill="#eebd00"/>
<rect x="216.55" y="230.00" width="9.55" height="1.60" fill="#00cd7c"/>
<rect x="216.55" y="231.25" width="9.55" height="1.60" fill="#00bdc3"/>
<rect x="216.55" y="232.50" width="9.55" height="1.60" fill="#e2bf00"/>
<rect x="216.55" y="233.75" width="9.55" height="1.60" fill="#ccc300"/>
<rect x="216.55" y="235.00" width="9.55" height="1.60" fill="#dbc000"/>
<rect x="216.55" y="236.25" width="9.55" height="1.60" fill="#fdbc16"/>
<rect x="216.55" y="237.50" width="9.55" height="1.60" fill="#ecbe00"/>
<rect x="216.55" y="238.75" width="9.55" height="1.60" fill="#00ce60"/>
<rect x="216.55" y="240.00" width="9.55" height="1.60" fill="#23ce57"/>
<rect x="216.55" y="241.25" width="9.55" height="1.60" fill="#00ca94"/>
<rect x="216.55" y="242.50" width="9.55" height="1.60" fill="#46cd4f"/>
<rect x="216.55" y="243.75" width="9.55" height="1.60" fill="#e9be00"/>
<rect x="216.55" y="245.00" width="9.55" height="1.60" fill="#d9c100"/>
<rect x="216.55" y="246.25" width="9.55" height="1.60" fill="#00c2b3"/>
<rect x="216.55" y="247.50" width="9.55" height="1.60" fill="#00c7a0"/>
<rect x="216.55" y="248.75" width="9.55" height="1.60" fill="#00c89d"/>
<rect x="216.55" y="250.00" width="9.55" height="1.60" fill="#35cd53"/>
<rect x="216.55" y="251.25" width="9.55" height="1.60" fill="#f8bc0d"/>
<rect x="216.55" y="252.50" width="9.55" height="1.60" fill="#00cd7c"/>
<rect x="216.55" y="253.75" width="9.55" height="1.60" fill="#ffbb1c"/>
<rect x="216.55" y="255.00" width="9.55" height="1.60" fill="#4ccd4d"/>
<rect x="216.55" y="256.25" width="9.55" height="1.60" fill="#ffbb23"/>
<rect x="216.55" y="257.50" width="9.55" height="1.60" fill="#b4c60c"/>
<rect x="216.55" y="258.75" width="9.55" height="1.60" fill="#c6c300"/>
<rect x="216.55" y="260.00" width="9.55" height="1.60" fill="#e7be00"/>
<rect x="216.55" y="261.25" width="9.55" height="1.60" fill="#51cd4b"/>
<rect x="216.55" y="262.50" width="9.55" height="1.60" fill="#e2bf00"/>
<rect x="216.55" y="263.75" width="9.55" height="1.60" fill="#dbc000"/>
<rect x="216.55" y="265.00" width="9.55" height="1.60" fill="#e6bf00"/>
<rect x="216.55" y="266.25" width="9.55" height="1.60" fill="#d6c100"/>
<rect x="216.55" y="267.50" width="9.55" height="1.60" fill="#eebd00"/>
<rect x="216.55" y="268.75" width="9.55" height="1.60" fill="#60cc45"/>
<rect x="216.55" y="270.00" width="9.55" height="1.60" fill="#c5c300"/>
<rect x="216.55" y="271.25" width="9.55" height="1.60" fill="#00c6a1"/>
<rect x="216.55" y="272.50" width="9.55" height="1.60" fill="#00c4ab"/>
<rect x="216.55" y="273.75" width="9.55" height="1.60" fill="#00c5a9"/>
<rect x="216.55" y="275.00" width="9.55" height="1.60" fill="#a7c71a"/>
<rect x="216.55" y="276.25" width="9.55" height="1.60" fill="#00c5a5"/>
<rect x="216.55" y="277.50" width="9.55" height="1.60" fill="#e9be00"/>
<rect x="216.55" y="278.75" width="9.55" height="1.60" fill="#87ca31"/>
<rect x="216.55" y="280.00" width="9.55" height="1.60" fill="#f5bc05"/>
<rect x="216.55" y="281.25" width="9.55" height="1.60" fill="#a2c81d"/>
<rect x="216.55" y="282.50" width="9.55" height="1.60" fill="#a4c81c"/>
<rect x="216.55" y="283.75" width="9.55" height="1.60" fill="#00ce6e"/>
<rect x="216.55" y="285.00" width="9.55" height="1.60" fill="#00bbc7"/>
<rect x="216.55" y="286.25" width="9.55" height="0.60" fill="#0098ee"/>
<rect x="216.55" y="123.60" width="9.55" height="1.65" fill="#00b2da"/>
<rect x="216.55" y="122.00" width="9.55" height="1.85" fill="#2568ff"/>
<rect x="216.55" y="120.60" width="9.55" height="1.65" fill="#006fff"/>
<rect x="216.55" y="119.00" width="9.55" height="1.85" fill="#434df6"/>
<rect x="216.55" y="117.60" width="9.55" height="1.65" fill="#3d57fc"/>
<rect x="216.55" y="116.00" width="9.55" height="1.85" fill="#472ecd"/>
<rect x="216.55" y="114.60" width="9.55" height="1.65" fill="#483ee9"/>
<rect x="216.55" y="113.00" width="9.55" height="1.85" fill="#462ac3"/>
<rect x="216.55" y="111.60" width="9.55" height="1.65" fill="#4833d8"/>
<rect x="216.55" y="110.00" width="9.55" height="1.85" fill="#4526ba"/>
<rect x="216.55" y="108.60" width="9.55" height="1.65" fill="#472dcb"/>
<rect x="216.55" y="105.60" width="9.55" height="1.65" fill="#4528be"/>
<rect x="216.55" y="286.50" width="9.55" height="1.65" fill="#00a6e6"/>
<rect x="216.55" y="287.90" width="9.55" height="1.85" fill="#007dff"/>
<rect x="216.55" y="289.50" width="9.55" height="1.65" fill="#0079ff"/>
<rect x="216.55" y="290.90" width="9.55" height="1.85" fill="#434cf5"/>
<rect x="216.55" y="292.50" width="9.55" height="1.65" fill="#3c58fc"/>
<rect x="216.55" y="293.90" width="9.55" height="1.85" fill="#4831d5"/>
<rect x="216.55" y="295.50" width="9.55" height="1.65" fill="#483fea"/>
<rect x="216.55" y="296.90" width="9.55" height="1.85" fill="#462bc6"/>
<rect x="216.55" y="298.50" width="9.55" height="1.65" fill="#4832d7"/>
<rect x="216.55" y="299.90" width="9.55" height="1.85" fill="#4527bc"/>
<rect x="216.55" y="301.50" width="9.55" height="1.65" fill="#472cca"/>
<rect x="216.55" y="304.50" width="9.55" height="1.65" fill="#4628c0"/>
<rect x="225.80" y="125.00" width="9.55" height="1.60" fill="#00cc83"/>
<rect x="225.80" y="126.25" width="9.55" height="1.60" fill="#95c928"/>
<rect x="225.80" y="127.50" width="9.55" height="1.60" fill="#00bcc5"/>
<rect x="225.80" y="128.75" width="9.55" height="1.60" fill="#d8c100"/>
<rect x="225.80" y="130.00" width="9.55" height="1.60" fill="#e3bf00"/>
<rect x="225.80" y="131.25" width="9.55" height="1.60" fill="#eebd00"/>
<rect x="225.80" y="132.50" width="9.55" height="1.60" fill="#0094f1"/>
<rect x="225.80" y="133.75" width="9.55" height="1.60" fill="#dfc000"/>
<rect x="225.80" y="135.00" width="9.55" height="1.60" fill="#dbc000"/>
<rect x="225.80" y="136.25" width="9.55" height="1.60" fill="#dcc000"/>
<rect x="225.80" y="137.50" width="9.55" height="1.60" fill="#dec000"/>
<rect x="225.80" y="138.75" width="9.55" height="1.60" fill="#8dca2d"/>
<rect x="225.80" y="140.00" width="9.55" height="1.60" fill="#ffbb25"/>
<rect x="225.80" y="141.25" width="9.55" height="1.60" fill="#00c2b0"/>
<rect x="225.80" y="142.50" width="9.55" height="1.60" fill="#89ca2f"/>
<rect x="225.80" y="143.75" width="9.55" height="1.60" fill="#6bcc40"/>
<rect x="225.80" y="145.00" width="9.55" height="1.60" fill="#0097ef"/>
<rect x="225.80" y="146.25" width="9.55" height="1.60" fill="#e8be00"/>
<rect x="225.80" y="147.50" width="9.55" height="1.60" fill="#dcc000"/>
<rect x="225.80" y="148.75" width="9.55" height="1.60" fill="#7bcb38"/>
<rect x="225.80" y="150.00" width="9.55" height="1.60" fill="#00ce6e"/>
<rect x="225.80" y="151.25" width="9.55" height="1.60" fill="#00c1b4"/>
<rect x="225.80" y="152.50" width="9.55" height="1.60" fill="#f3bd02"/>
<rect x="225.80" y="153.75" width="9.55" height="1.60" fill="#60cc46"/>
<rect x="225.80" y="155.00" width="9.55" height="1.60" fill="#53cd4a"/>
<rect x="225.80" y="156.25" width="9.55" height="1.60" fill="#00ce5f"/>
<rect x="225.80" y="157.50" width="9.55" height="1.60" fill="#ffbb23"/>
<rect x="225.80" y="158.75" width="9.55" height="1.60" fill="#dec000"/>
<rect x="225.80" y="160.00" width="9.55" height="1.60" fill="#ecbe00"/>
<rect x="225.80" y="161.25" width="9.55" height="1.60" fill="#e6bf00"/>
<rect x="225.80" y="162.50" width="9.55" height="1.60" fill="#9dc822"/>
<rect x="225.80" y="163.75" width="9.55" height="1.60" fill="#f2bd00"/>
<rect x="225.80" y="165.00" width="9.55" height="1.60" fill="#a6c71a"/>
<rect x="225.80" y="166.25" width="9.55" height="1.60" fill="#f6bc07"/>
<rect x="225.80" y="167.50" width="9.55" height="1.60" fill="#e9be00"/>
<rect x="225.80" y="168.75" width="9.55" height="1.60" fill="#ffbb21"/>
<rect x="225.80" y="170.00" width="9.55" height="1.60" fill="#e7be00"/>
<rect x="225.80" y="171.25" width="9.55" height="1.60" fill="#fabc11"/>
<rect x="225.80" y="172.50" width="9.55" height="1.60" fill="#f0bd00"/>
<rect x="225.80" y="173.75" width="9.55" height="1.60" fill="#fabc11"/>
<rect x="225.80" y="175.00" width="9.55" height="1.60" fill="#f1bd00"/>
<rect x="225.80" y="176.25" width="9.55" height="1.60" fill="#e9be00"/>
<rect x="225.80" y="177.50" width="9.55" height="1.60" fill="#59cd48"/>
<rect x="225.80" y="178.75" width="9.55" height="1.60" fill="#c7c300"/>
<rect x="225.80" y="180.00" width="9.55" height="1.60" fill="#d9c100"/>
<rect x="225.80" y="181.25" width="9.55" height="1.60" fill="#fdbc16"/>
<rect x="225.80" y="182.50" width="9.55" height="1.60" fill="#d8c100"/>
<rect x="225.80" y="183.75" width="9.55" height="1.60" fill="#00ce5e"/>
<rect x="225.80" y="185.00" width="9.55" height="1.60" fill="#d5c100"/>
<rect x="225.80" y="186.25" width="9.55" height="1.60" fill="#c0c400"/>
<rect x="225.80" y="187.50" width="9.55" height="1.60" fill="#86ca31"/>
<rect x="225.80" y="188.75" width="9.55" height="1.60" fill="#70cc3e"/>
<rect x="225.80" y="190.00" width="9.55" height="1.60" fill="#cac300"/>
<rect x="225.80" y="191.25" width="9.55" height="1.60" fill="#0098ee"/>
<rect x="225.80" y="192.50" width="9.55" height="1.60" fill="#e1bf00"/>
<rect x="225.80" y="193.75" width="9.55" height="1.60" fill="#00a5e6"/>
<rect x="225.80" y="195.00" width="9.55" height="1.60" fill="#00a1e8"/>
<rect x="225.80" y="196.25" width="9.55" height="1.60" fill="#009fe9"/>
<rect x="225.80" y="197.50" width="9.55" height="1.60" fill="#f2bd00"/>
<rect x="225.80" y="198.75" width="9.55" height="1.60" fill="#edbe00"/>
<rect x="225.80" y="200.00" width="9.55" height="1.60" fill="#a4c81c"/>
<rect x="225.80" y="201.25" width="9.55" height="1.60" fill="#9ac923"/>
<rect x="225.80" y="202.50" width="9.55" height="1.60" fill="#00c89a"/>
<rect x="225.80" y="203.75" width="9.55" height="1.60" fill="#89ca2f"/>
<rect x="225.80" y="205.00" width="9.55" height="1.60" fill="#81cb34"/>
<rect x="225.80" y="206.25" width="9.55" height="1.60" fill="#ffbb1a"/>
<rect x="225.80" y="207.50" width="9.55" height="1.60" fill="#7bcb38"/>
<rect x="225.80" y="208.75" width="9.55" height="1.60" fill="#f9bc0f"/>
<rect x="225.80" y="210.00" width="9.55" height="1.60" fill="#00ce6b"/>
<rect x="225.80" y="211.25" width="9.55" height="1.60" fill="#00c995"/>
<rect x="225.80" y="212.50" width="9.55" height="1.60" fill="#e9be00"/>
<rect x="225.80" y="213.75" width="9.55" height="1.60" fill="#00c79e"/>
<rect x="225.80" y="215.00" width="9.55" height="1.60" fill="#67cc43"/>
<rect x="225.80" y="216.25" width="9.55" height="1.60" fill="#fdbc17"/>
<rect x="225.80" y="217.50" width="9.55" height="1.60" fill="#8aca2e"/>
<rect x="225.80" y="218.75" width="9.55" height="1.60" fill="#95c927"/>
<rect x="225.80" y="220.00" width="9.55" height="1.60" fill="#ffbb22"/>
<rect x="225.80" y="221.25" width="9.55" height="1.60" fill="#febc17"/>
<rect x="225.80" y="222.50" width="9.55" height="1.60" fill="#00c4aa"/>
<rect x="225.80" y="223.75" width="9.55" height="1.60" fill="#00bcc4"/>
<rect x="225.80" y="225.00" width="9.55" height="1.60" fill="#e3bf00"/>
<rect x="225.80" y="226.25" width="9.55" height="1.60" fill="#f1bd00"/>
<rect x="225.80" y="227.50" width="9.55" height="1.60" fill="#00cd75"/>
<rect x="225.80" y="228.75" width="9.55" height="1.60" fill="#84ca32"/>
<rect x="225.80" y="230.00" width="9.55" height="1.60" fill="#00cd77"/>
<rect x="225.80" y="231.25" width="9.55" height="1.60" fill="#e9be00"/>
<rect x="225.80" y="232.50" width="9.55" height="1.60" fill="#00ca91"/>
<rect x="225.80" y="233.75" width="9.55" height="1.60" fill="#bfc400"/>
<rect x="225.80" y="235.00" width="9.55" height="1.60" fill="#ffbb1e"/>
<rect x="225.80" y="236.25" width="9.55" height="1.60" fill="#00c3b0"/>
<rect x="225.80" y="237.50" width="9.55" height="1.60" fill="#00c4ab"/>
<rect x="225.80" y="238.75" width="9.55" height="1.60" fill="#00c5a8"/>
<rect x="225.80" y="240.00" width="9.55" height="1.60" fill="#00c89d"/>
<rect x="225.80" y="241.25" width="9.55" height="1.60" fill="#00cd7c"/>
<rect x="225.80" y="242.50" width="9.55" height="1.60" fill="#e2bf00"/>
<rect x="225.80" y="243.75" width="9.55" height="1.60" fill="#efbd00"/>
<rect x="225.80" y="245.00" width="9.55" height="1.60" fill="#fabc11"/>
<rect x="225.80" y="246.25" width="9.55" height="1.60" fill="#eebd00"/>
<rect x="225.80" y="247.50" width="9.55" height="1.60" fill="#bac505"/>
<rect x="225.80" y="248.75" width="9.55" height="1.60" fill="#00bebf"/>
<rect x="225.80" y="250.00" width="9.55" height="1.60" fill="#00c0b9"/>
<rect x="225.80" y="251.25" width="9.55" height="1.60" fill="#00bebf"/>
<rect x="225.80" y="252.50" width="9.55" height="1.60" fill="#dcc000"/>
<rect x="225.80" y="253.75" width="9.55" height="1.60" fill="#bec500"/>
<rect x="225.80" y="255.00" width="9.55" height="1.60" fill="#00bfbd"/>
<rect x="225.80" y="256.25" width="9.55" height="1.60" fill="#cac300"/>
<rect x="225.80" y="257.50" width="9.55" height="1.60" fill="#abc716"/>
<rect x="225.80" y="258.75" width="9.55" height="1.60" fill="#d8c100"/>
<rect x="225.80" y="260.00" width="9.55" height="1.60" fill="#16ce58"/>
<rect x="225.80" y="261.25" width="9.55" height="1.60" fill="#eebd00"/>
<rect x="225.80" y="262.50" width="9.55" height="1.60" fill="#00aedf"/>
<rect x="225.80" y="263.75" width="9.55" height="1.60" fill="#00b0dd"/>
<rect x="225.80" y="265.00" width="9.55" height="1.60" fill="#ddc000"/>
<rect x="225.80" y="266.25" width="9.55" height="1.60" fill="#dcc000"/>
<rect x="225.80" y="267.50" width="9.55" height="1.60" fill="#e9be00"/>
<rect x="225.80" y="268.75" width="9.55" height="1.60" fill="#00ce5f"/>
<rect x="225.80" y="270.00" width="9.55" height="1.60" fill="#3dcd51"/>
<rect x="225.80" y="271.25" width="9.55" height="1.60" fill="#00ca92"/>
<rect x="225.80" y="272.50" width="9.55" height="1.60" fill="#00ca90"/>
<rect x="225.80" y="273.75" width="9.55" height="1.60" fill="#f3bd02"/>
<rect x="225.80" y="275.00" width="9.55" height="1.60" fill="#dfc000"/>
<rect x="225.80" y="276.25" width="9.55" height="1.60" fill="#d7c100"/>
<rect x="225.80" y="277.50" width="9.55" height="1.60" fill="#c9c300"/>
<rect x="225.80" y="278.75" width="9.55" height="1.60" fill="#ffbb23"/>
<rect x="225.80" y="280.00" width="9.55" height="1.60" fill="#c3c400"/>
<rect x="225.80" y="281.25" width="9.55" height="1.60" fill="#f6bc06"/>
<rect x="225.80" y="282.50" width="9.55" height="1.60" fill="#008ff5"/>
<rect x="225.80" y="283.75" width="9.55" height="1.60" fill="#d2c200"/>
<rect x="225.80" y="285.00" width="9.55" height="1.60" fill="#00b7d1"/>
<rect x="225.80" y="286.25" width="9.55" height="0.80" fill="#00ce63"/>
<rect x="225.80" y="123.60" width="9.55" height="1.65" fill="#00b2d9"/>
<rect x="225.80" y="122.00" width="9.55" height="1.85" fill="#008cf8"/>
<rect x="225.80" y="120.60" width="9.55" height="1.65" fill="#008af9"/>
<rect x="225.80" y="119.00" width="9.55" height="1.85" fill="#2369ff"/>
<rect x="225.80" y="117.60" width="9.55" height="1.65" fill="#0087fb"/>
<rect x="225.80" y="116.00" width="9.55" height="1.85" fill="#444cf5"/>
<rect x="225.80" y="114.60" width="9.55" height="1.65" fill="#0074ff"/>
<rect x="225.80" y="113.00" width="9.55" height="1.85" fill="#4740eb"/>
<rect x="225.80" y="111.60" width="9.55" height="1.65" fill="#365fff"/>
<rect x="225.80" y="110.00" width="9.55" height="1.85" fill="#4839e3"/>
<rect x="225.80" y="108.60" width="9.55" height="1.65" fill="#2966ff"/>
<rect x="225.80" y="107.00" width="9.55" height="1.85" fill="#4836de"/>
<rect x="225.80" y="105.60" width="9.55" height="1.65" fill="#3b5afd"/>
<rect x="225.80" y="104.00" width="9.55" height="1.85" fill="#482fd1"/>
<rect x="225.80" y="102.60" width="9.55" height="1.65" fill="#4547f1"/>
<rect x="225.80" y="101.00" width="9.55" height="1.85" fill="#472ecd"/>
<rect x="225.80" y="99.60" width="9.55" height="1.65" fill="#4548f2"/>
<rect x="225.80" y="98.00" width="9.55" height="1.85" fill="#472cc8"/>
<rect x="225.80" y="96.60" width="9.55" height="1.65" fill="#4742ed"/>
<rect x="225.80" y="95.00" width="9.55" height="1.85" fill="#462bc5"/>
<rect x="225.80" y="93.60" width="9.55" height="1.65" fill="#483ce6"/>
<rect x="225.80" y="92.00" width="9.55" height="1.85" fill="#462ac3"/>
<rect x="225.80" y="90.60" width="9.55" height="1.65" fill="#4833d9"/>
<rect x="225.80" y="89.00" width="9.55" height="1.85" fill="#462ac2"/>
<rect x="225.80" y="87.60" width="9.55" height="1.65" fill="#4831d4"/>
<rect x="225.80" y="86.00" width="9.55" height="1.85" fill="#4528be"/>
<rect x="225.80" y="84.60" width="9.55" height="1.65" fill="#472dcb"/>
<rect x="225.80" y="83.00" width="9.55" height="1.85" fill="#4527bc"/>
<rect x="225.80" y="81.60" width="9.55" height="1.65" fill="#472ece"/>
<rect x="225.80" y="78.60" width="9.55" height="1.65" fill="#472cc8"/>
<rect x="225.80" y="75.60" width="9.55" height="1.65" fill="#4629c0"/>
<rect x="225.80" y="72.60" width="9.55" height="1.65" fill="#4629c0"/>
<rect x="225.80" y="69.60" width="9.55" height="1.65" fill="#4528bf"/>
<rect x="225.80" y="66.60" width="9.55" height="1.65" fill="#4526bb"/>
<rect x="225.80" y="286.70" width="9.55" height="1.85" fill="#008bf8"/>
<rect x="225.80" y="288.30" width="9.55" height="1.65" fill="#0090f5"/>
<rect x="225.80" y="289.70" width="9.55" height="1.85" fill="#0084fc"/>
<rect x="225.80" y="291.30" width="9.55" height="1.65" fill="#0098ef"/>
<rect x="225.80" y="292.70" width="9.55" height="1.85" fill="#483fea"/>
<rect x="225.80" y="294.30" width="9.55" height="1.65" fill="#0082fe"/>
<rect x="225.80" y="295.70" width="9.55" height="1.85" fill="#483ae4"/>
<rect x="225.80" y="297.30" width="9.55" height="1.65" fill="#3b59fd"/>
<rect x="225.80" y="298.70" width="9.55" height="1.85" fill="#483ae4"/>
<rect x="225.80" y="300.30" width="9.55" height="1.65" fill="#4150f8"/>
<rect x="225.80" y="301.70" width="9.55" height="1.85" fill="#4831d4"/>
<rect x="225.80" y="303.30" width="9.55" height="1.65" fill="#424ef7"/>
<rect x="225.80" y="304.70" width="9.55" height="1.85" fill="#4830d2"/>
<rect x="225.80" y="306.30" width="9.55" height="1.65" fill="#473fea"/>
<rect x="225.80" y="307.70" width="9.55" height="1.85" fill="#462bc6"/>
<rect x="225.80" y="309.30" width="9.55" height="1.65" fill="#483ce7"/>
<rect x="225.80" y="310.70" width="9.55" height="1.85" fill="#4629c1"/>
<rect x="225.80" y="312.30" width="9.55" height="1.65" fill="#4836df"/>
<rect x="225.80" y="313.70" width="9.55" height="1.85" fill="#4528bf"/>
<rect x="225.80" y="315.30" width="9.55" height="1.65" fill="#4832d6"/>
<rect x="225.80" y="316.70" width="9.55" height="1.85" fill="#4526bb"/>
<rect x="225.80" y="318.30" width="9.55" height="1.65" fill="#472dcc"/>
<rect x="225.80" y="319.70" width="9.55" height="1.85" fill="#4526bb"/>
<rect x="225.80" y="321.30" width="9.55" height="1.65" fill="#462ac4"/>
<rect x="225.80" y="324.30" width="9.55" height="1.65" fill="#462ac5"/>
<rect x="225.80" y="327.30" width="9.55" height="1.65" fill="#4528be"/>
<rect x="225.80" y="330.30" width="9.55" height="1.65" fill="#4527bc"/>
<rect x="225.80" y="333.30" width="9.55" height="1.65" fill="#4526ba"/>
<rect x="235.05" y="125.50" width="9.55" height="1.60" fill="#00b3d8"/>
<rect x="235.05" y="126.75" width="9.55" height="1.60" fill="#00cd7f"/>
<rect x="235.05" y="128.00" width="9.55" height="1.60" fill="#00cb8c"/>
<rect x="235.05" y="129.25" width="9.55" height="1.60" fill="#f7bc0a"/>
<rect x="235.05" y="130.50" width="9.55" height="1.60" fill="#93c929"/>
<rect x="235.05" y="131.75" width="9.55" height="1.60" fill="#abc716"/>
<rect x="235.05" y="133.00" width="9.55" height="1.60" fill="#d6c100"/>
<rect x="235.05" y="134.25" width="9.55" height="1.60" fill="#00bdc2"/>
<rect x="235.05" y="135.50" width="9.55" height="1.60" fill="#00bdc3"/>
<rect x="235.05" y="136.75" width="9.55" height="1.60" fill="#dec000"/>
<rect x="235.05" y="138.00" width="9.55" height="1.60" fill="#bec400"/>
<rect x="235.05" y="139.25" width="9.55" height="1.60" fill="#ffbb1a"/>
<rect x="235.05" y="140.50" width="9.55" height="1.60" fill="#ffbb23"/>
<rect x="235.05" y="141.75" width="9.55" height="1.60" fill="#ffbb1c"/>
<rect x="235.05" y="143.00" width="9.55" height="1.60" fill="#00cd7a"/>
<rect x="235.05" y="144.25" width="9.55" height="1.60" fill="#dac000"/>
<rect x="235.05" y="145.50" width="9.55" height="1.60" fill="#e1bf00"/>
<rect x="235.05" y="146.75" width="9.55" height="1.60" fill="#94c928"/>
<rect x="235.05" y="148.00" width="9.55" height="1.60" fill="#a5c71b"/>
<rect x="235.05" y="149.25" width="9.55" height="1.60" fill="#95c927"/>
<rect x="235.05" y="150.50" width="9.55" height="1.60" fill="#aac717"/>
<rect x="235.05" y="151.75" width="9.55" height="1.60" fill="#a0c81f"/>
<rect x="235.05" y="153.00" width="9.55" height="1.60" fill="#33cd54"/>
<rect x="235.05" y="154.25" width="9.55" height="1.60" fill="#00c2b2"/>
<rect x="235.05" y="155.50" width="9.55" height="1.60" fill="#4acd4e"/>
<rect x="235.05" y="156.75" width="9.55" height="1.60" fill="#dfc000"/>
<rect x="235.05" y="158.00" width="9.55" height="1.60" fill="#e8be00"/>
<rect x="235.05" y="159.25" width="9.55" height="1.60" fill="#00a1e8"/>
<rect x="235.05" y="160.50" width="9.55" height="1.60" fill="#d3c100"/>
<rect x="235.05" y="161.75" width="9.55" height="1.60" fill="#7fcb36"/>
<rect x="235.05" y="163.00" width="9.55" height="1.60" fill="#f7bc0a"/>
<rect x="235.05" y="164.25" width="9.55" height="1.60" fill="#efbd00"/>
<rect x="235.05" y="165.50" width="9.55" height="1.60" fill="#00c4ac"/>
<rect x="235.05" y="166.75" width="9.55" height="1.60" fill="#ffbb1c"/>
<rect x="235.05" y="168.00" width="9.55" height="1.60" fill="#fabc10"/>
<rect x="235.05" y="169.25" width="9.55" height="1.60" fill="#bac505"/>
<rect x="235.05" y="170.50" width="9.55" height="1.60" fill="#a4c81c"/>
<rect x="235.05" y="171.75" width="9.55" height="1.60" fill="#9dc822"/>
<rect x="235.05" y="173.00" width="9.55" height="1.60" fill="#65cc43"/>
<rect x="235.05" y="174.25" width="9.55" height="1.60" fill="#00cd75"/>
<rect x="235.05" y="175.50" width="9.55" height="1.60" fill="#f3bd02"/>
<rect x="235.05" y="176.75" width="9.55" height="1.60" fill="#edbe00"/>
<rect x="235.05" y="178.00" width="9.55" height="1.60" fill="#00c899"/>
<rect x="235.05" y="179.25" width="9.55" height="1.60" fill="#00ce6f"/>
<rect x="235.05" y="180.50" width="9.55" height="1.60" fill="#bac504"/>
<rect x="235.05" y="181.75" width="9.55" height="1.60" fill="#dfc000"/>
<rect x="235.05" y="183.00" width="9.55" height="1.60" fill="#dac000"/>
<rect x="235.05" y="184.25" width="9.55" height="1.60" fill="#ffbb24"/>
<rect x="235.05" y="185.50" width="9.55" height="1.60" fill="#dcc000"/>
<rect x="235.05" y="186.75" width="9.55" height="1.60" fill="#9cc822"/>
<rect x="235.05" y="188.00" width="9.55" height="1.60" fill="#a6c71b"/>
<rect x="235.05" y="189.25" width="9.55" height="1.60" fill="#ddc000"/>
<rect x="235.05" y="190.50" width="9.55" height="1.60" fill="#dac000"/>
<rect x="235.05" y="191.75" width="9.55" height="1.60" fill="#e5bf00"/>
<rect x="235.05" y="193.00" width="9.55" height="1.60" fill="#e3bf00"/>
<rect x="235.05" y="194.25" width="9.55" height="1.60" fill="#00b0dc"/>
<rect x="235.05" y="195.50" width="9.55" height="1.60" fill="#dec000"/>
<rect x="235.05" y="196.75" width="9.55" height="1.60" fill="#00cd7d"/>
<rect x="235.05" y="198.00" width="9.55" height="1.60" fill="#d4c100"/>
<rect x="235.05" y="199.25" width="9.55" height="1.60" fill="#f5bc04"/>
<rect x="235.05" y="200.50" width="9.55" height="1.60" fill="#d8c100"/>
<rect x="235.05" y="201.75" width="9.55" height="1.60" fill="#00cd76"/>
<rect x="235.05" y="203.00" width="9.55" height="1.60" fill="#53cd4a"/>
<rect x="235.05" y="204.25" width="9.55" height="1.60" fill="#5acd48"/>
<rect x="235.05" y="205.50" width="9.55" height="1.60" fill="#00cd7e"/>
<rect x="235.05" y="206.75" width="9.55" height="1.60" fill="#edbe00"/>
<rect x="235.05" y="208.00" width="9.55" height="1.60" fill="#00bbc7"/>
<rect x="235.05" y="209.25" width="9.55" height="1.60" fill="#ebbe00"/>
<rect x="235.05" y="210.50" width="9.55" height="1.60" fill="#e7be00"/>
<rect x="235.05" y="211.75" width="9.55" height="1.60" fill="#aac717"/>
<rect x="235.05" y="213.00" width="9.55" height="1.60" fill="#efbd00"/>
<rect x="235.05" y="214.25" width="9.55" height="1.60" fill="#7ccb37"/>
<rect x="235.05" y="215.50" width="9.55" height="1.60" fill="#b0c611"/>
<rect x="235.05" y="216.75" width="9.55" height="1.60" fill="#b5c60b"/>
<rect x="235.05" y="218.00" width="9.55" height="1.60" fill="#00bec0"/>
<rect x="235.05" y="219.25" width="9.55" height="1.60" fill="#00a7e5"/>
<rect x="235.05" y="220.50" width="9.55" height="1.60" fill="#00c999"/>
<rect x="235.05" y="221.75" width="9.55" height="1.60" fill="#00c6a4"/>
<rect x="235.05" y="223.00" width="9.55" height="1.60" fill="#00c89b"/>
<rect x="235.05" y="224.25" width="9.55" height="1.60" fill="#ebbe00"/>
<rect x="235.05" y="225.50" width="9.55" height="1.60" fill="#00c1b6"/>
<rect x="235.05" y="226.75" width="9.55" height="1.60" fill="#85ca32"/>
<rect x="235.05" y="228.00" width="9.55" height="1.60" fill="#e4bf00"/>
<rect x="235.05" y="229.25" width="9.55" height="1.60" fill="#eabe00"/>
<rect x="235.05" y="230.50" width="9.55" height="1.60" fill="#adc715"/>
<rect x="235.05" y="231.75" width="9.55" height="1.60" fill="#00ce5d"/>
<rect x="235.05" y="233.00" width="9.55" height="1.60" fill="#00ce6d"/>
<rect x="235.05" y="234.25" width="9.55" height="1.60" fill="#88ca30"/>
<rect x="235.05" y="235.50" width="9.55" height="1.60" fill="#dcc000"/>
<rect x="235.05" y="236.75" width="9.55" height="1.60" fill="#ebbe00"/>
<rect x="235.05" y="238.00" width="9.55" height="1.60" fill="#ffbb26"/>
<rect x="235.05" y="239.25" width="9.55" height="1.60" fill="#9dc822"/>
<rect x="235.05" y="240.50" width="9.55" height="1.60" fill="#fbbc12"/>
<rect x="235.05" y="241.75" width="9.55" height="1.60" fill="#ffbb24"/>
<rect x="235.05" y="243.00" width="9.55" height="1.60" fill="#e9be00"/>
<rect x="235.05" y="244.25" width="9.55" height="1.60" fill="#ebbe00"/>
<rect x="235.05" y="245.50" width="9.55" height="1.60" fill="#ecbe00"/>
<rect x="235.05" y="246.75" width="9.55" height="1.60" fill="#81cb34"/>
<rect x="235.05" y="248.00" width="9.55" height="1.60" fill="#6bcc40"/>
<rect x="235.05" y="249.25" width="9.55" height="1.60" fill="#b8c507"/>
<rect x="235.05" y="250.50" width="9.55" height="1.60" fill="#c4c400"/>
<rect x="235.05" y="251.75" width="9.55" height="1.60" fill="#b9c506"/>
<rect x="235.05" y="253.00" width="9.55" height="1.60" fill="#e3bf00"/>
<rect x="235.05" y="254.25" width="9.55" height="1.60" fill="#ffbb25"/>
<rect x="235.05" y="255.50" width="9.55" height="1.60" fill="#00c89b"/>
<rect x="235.05" y="256.75" width="9.55" height="1.60" fill="#00ce70"/>
<rect x="235.05" y="258.00" width="9.55" height="1.60" fill="#00ce65"/>
<rect x="235.05" y="259.25" width="9.55" height="1.60" fill="#8bca2e"/>
<rect x="235.05" y="260.50" width="9.55" height="1.60" fill="#a4c81c"/>
<rect x="235.05" y="261.75" width="9.55" height="1.60" fill="#abc716"/>
<rect x="235.05" y="263.00" width="9.55" height="1.60" fill="#a9c718"/>
<rect x="235.05" y="264.25" width="9.55" height="1.60" fill="#b9c506"/>
<rect x="235.05" y="265.50" width="9.55" height="1.60" fill="#cbc300"/>
<rect x="235.05" y="266.75" width="9.55" height="1.60" fill="#f7bc08"/>
<rect x="235.05" y="268.00" width="9.55" height="1.60" fill="#ffbb1c"/>
<rect x="235.05" y="269.25" width="9.55" height="1.60" fill="#dec000"/>
<rect x="235.05" y="270.50" width="9.55" height="1.60" fill="#b0c611"/>
<rect x="235.05" y="271.75" width="9.55" height="1.60" fill="#aac717"/>
<rect x="235.05" y="273.00" width="9.55" height="1.60" fill="#fcbc14"/>
<rect x="235.05" y="274.25" width="9.55" height="1.60" fill="#ffbb1d"/>
<rect x="235.05" y="275.50" width="9.55" height="1.60" fill="#fcbc15"/>
<rect x="235.05" y="276.75" width="9.55" height="1.60" fill="#f3bd02"/>
<rect x="235.05" y="278.00" width="9.55" height="1.60" fill="#cac300"/>
<rect x="235.05" y="279.25" width="9.55" height="1.60" fill="#d6c100"/>
<rect x="235.05" y="280.50" width="9.55" height="1.60" fill="#ffbb23"/>
<rect x="235.05" y="281.75" width="9.55" height="1.60" fill="#b0c611"/>
<rect x="235.05" y="283.00" width="9.55" height="1.60" fill="#f3bd01"/>
<rect x="235.05" y="284.25" width="9.55" height="1.60" fill="#00ce60"/>
<rect x="235.05" y="124.10" width="9.55" height="1.65" fill="#00a6e6"/>
<rect x="235.05" y="122.50" width="9.55" height="1.85" fill="#008ef6"/>
<rect x="235.05" y="121.10" width="9.55" height="1.65" fill="#00a7e5"/>
<rect x="235.05" y="119.50" width="9.55" height="1.85" fill="#0070ff"/>
<rect x="235.05" y="118.10" width="9.55" height="1.65" fill="#0092f2"/>
<rect x="235.05" y="116.50" width="9.55" height="1.85" fill="#4646f0"/>
<rect x="235.05" y="115.10" width="9.55" height="1.65" fill="#0075ff"/>
<rect x="235.05" y="113.50" width="9.55" height="1.85" fill="#483ee8"/>
<rect x="235.05" y="112.10" width="9.55" height="1.65" fill="#007bff"/>
<rect x="235.05" y="110.50" width="9.55" height="1.85" fill="#483ae4"/>
<rect x="235.05" y="109.10" width="9.55" height="1.65" fill="#2f63ff"/>
<rect x="235.05" y="107.50" width="9.55" height="1.85" fill="#4837e0"/>
<rect x="235.05" y="106.10" width="9.55" height="1.65" fill="#4150f8"/>
<rect x="235.05" y="104.50" width="9.55" height="1.85" fill="#4835dd"/>
<rect x="235.05" y="103.10" width="9.55" height="1.65" fill="#3f54fa"/>
<rect x="235.05" y="101.50" width="9.55" height="1.85" fill="#4833d8"/>
<rect x="235.05" y="100.10" width="9.55" height="1.65" fill="#4647f1"/>
<rect x="235.05" y="98.50" width="9.55" height="1.85" fill="#472dcc"/>
<rect x="235.05" y="97.10" width="9.55" height="1.65" fill="#4740eb"/>
<rect x="235.05" y="95.50" width="9.55" height="1.85" fill="#472ecc"/>
<rect x="235.05" y="94.10" width="9.55" height="1.65" fill="#483ee9"/>
<rect x="235.05" y="92.50" width="9.55" height="1.85" fill="#462bc6"/>
<rect x="235.05" y="91.10" width="9.55" height="1.65" fill="#4838e1"/>
<rect x="235.05" y="89.50" width="9.55" height="1.85" fill="#4629c1"/>
<rect x="235.05" y="88.10" width="9.55" height="1.65" fill="#4837e0"/>
<rect x="235.05" y="86.50" width="9.55" height="1.85" fill="#4628c0"/>
<rect x="235.05" y="85.10" width="9.55" height="1.65" fill="#4831d5"/>
<rect x="235.05" y="83.50" width="9.55" height="1.85" fill="#4528bf"/>
<rect x="235.05" y="82.10" width="9.55" height="1.65" fill="#472ecd"/>
<rect x="235.05" y="80.50" width="9.55" height="1.85" fill="#4527bc"/>
<rect x="235.05" y="79.10" width="9.55" height="1.65" fill="#472dca"/>
<rect x="235.05" y="77.50" width="9.55" height="1.85" fill="#4526ba"/>
<rect x="235.05" y="76.10" width="9.55" height="1.65" fill="#462ac4"/>
<rect x="235.05" y="73.10" width="9.55" height="1.65" fill="#462ac4"/>
<rect x="235.05" y="70.10" width="9.55" height="1.65" fill="#4628c0"/>
<rect x="235.05" y="67.10" width="9.55" height="1.65" fill="#4527bd"/>
<rect x="235.05" y="64.10" width="9.55" height="1.65" fill="#4526ba"/>
<rect x="235.05" y="61.10" width="9.55" height="1.65" fill="#4525b9"/>
<rect x="235.05" y="58.10" width="9.55" height="1.65" fill="#4425b8"/>
<rect x="235.05" y="285.50" width="9.55" height="1.65" fill="#00bbc8"/>
<rect x="235.05" y="286.90" width="9.55" height="1.85" fill="#0095f1"/>
<rect x="235.05" y="288.50" width="9.55" height="1.65" fill="#00a1e8"/>
<rect x="235.05" y="289.90" width="9.55" height="1.85" fill="#008af9"/>
<rect x="235.05" y="291.50" width="9.55" height="1.65" fill="#009cec"/>
<rect x="235.05" y="292.90" width="9.55" height="1.85" fill="#4547f1"/>
<rect x="235.05" y="294.50" width="9.55" height="1.65" fill="#008af9"/>
<rect x="235.05" y="295.90" width="9.55" height="1.85" fill="#434df6"/>
<rect x="235.05" y="297.50" width="9.55" height="1.65" fill="#008ff5"/>
<rect x="235.05" y="298.90" width="9.55" height="1.85" fill="#4645f0"/>
<rect x="235.05" y="300.50" width="9.55" height="1.65" fill="#007aff"/>
<rect x="235.05" y="301.90" width="9.55" height="1.85" fill="#4644ef"/>
<rect x="235.05" y="303.50" width="9.55" height="1.65" fill="#2c65ff"/>
<rect x="235.05" y="304.90" width="9.55" height="1.85" fill="#483ae4"/>
<rect x="235.05" y="306.50" width="9.55" height="1.65" fill="#385cfe"/>
<rect x="235.05" y="307.90" width="9.55" height="1.85" fill="#483be5"/>
<rect x="235.05" y="309.50" width="9.55" height="1.65" fill="#2767ff"/>
<rect x="235.05" y="310.90" width="9.55" height="1.85" fill="#4833da"/>
<rect x="235.05" y="312.50" width="9.55" height="1.65" fill="#4053fa"/>
<rect x="235.05" y="313.90" width="9.55" height="1.85" fill="#4832d7"/>
<rect x="235.05" y="315.50" width="9.55" height="1.65" fill="#3e56fb"/>
<rect x="235.05" y="316.90" width="9.55" height="1.85" fill="#4833d9"/>
<rect x="235.05" y="318.50" width="9.55" height="1.65" fill="#4645f0"/>
<rect x="235.05" y="319.90" width="9.55" height="1.85" fill="#4830d2"/>
<rect x="235.05" y="321.50" width="9.55" height="1.65" fill="#444cf5"/>
<rect x="235.05" y="322.90" width="9.55" height="1.85" fill="#472dcb"/>
<rect x="235.05" y="324.50" width="9.55" height="1.65" fill="#483ee9"/>
<rect x="235.05" y="325.90" width="9.55" height="1.85" fill="#472cc9"/>
<rect x="235.05" y="327.50" width="9.55" height="1.65" fill="#4742ec"/>
<rect x="235.05" y="328.90" width="9.55" height="1.85" fill="#462bc6"/>
<rect x="235.05" y="330.50" width="9.55" height="1.65" fill="#4838e1"/>
<rect x="235.05" y="331.90" width="9.55" height="1.85" fill="#4629c2"/>
<rect x="235.05" y="333.50" width="9.55" height="1.65" fill="#483be5"/>
<rect x="235.05" y="334.90" width="9.55" height="1.85" fill="#4629c1"/>
<rect x="235.05" y="336.50" width="9.55" height="1.65" fill="#4833d9"/>
<rect x="235.05" y="337.90" width="9.55" height="1.85" fill="#462ac3"/>
<rect x="235.05" y="339.50" width="9.55" height="1.65" fill="#4832d7"/>
<rect x="235.05" y="340.90" width="9.55" height="1.85" fill="#4629c0"/>
<rect x="235.05" y="342.50" width="9.55" height="1.65" fill="#4833d8"/>
<rect x="235.05" y="343.90" width="9.55" height="1.85" fill="#4527bb"/>
<rect x="235.05" y="345.50" width="9.55" height="1.65" fill="#4830d3"/>
<rect x="235.05" y="346.90" width="9.55" height="1.85" fill="#4527bc"/>
<rect x="235.05" y="348.50" width="9.55" height="1.65" fill="#472ecd"/>
<rect x="235.05" y="349.90" width="9.55" height="1.85" fill="#4525b9"/>
<rect x="235.05" y="351.50" width="9.55" height="1.65" fill="#472cc8"/>
<rect x="235.05" y="352.90" width="9.55" height="1.85" fill="#4525b9"/>
<rect x="235.05" y="354.50" width="9.55" height="1.65" fill="#462bc6"/>
<rect x="235.05" y="357.50" width="9.55" height="1.65" fill="#462bc6"/>
<rect x="235.05" y="360.50" width="9.55" height="1.65" fill="#4629c1"/>
<rect x="235.05" y="363.50" width="9.55" height="1.65" fill="#4629c1"/>
<rect x="235.05" y="366.50" width="9.55" height="1.65" fill="#4628c0"/>
<rect x="235.05" y="369.50" width="9.55" height="1.65" fill="#4527bd"/>
<rect x="235.05" y="372.50" width="9.55" height="1.65" fill="#4527bc"/>
<rect x="235.05" y="375.50" width="9.55" height="1.65" fill="#4526bb"/>
<rect x="235.05" y="378.50" width="9.55" height="1.65" fill="#4526ba"/>
<rect x="244.30" y="124.50" width="9.05" height="1.60" fill="#00c3af"/>
<rect x="244.30" y="125.75" width="9.05" height="1.60" fill="#00baca"/>
<rect x="244.30" y="127.00" width="9.05" height="1.60" fill="#00cd75"/>
<rect x="244.30" y="128.25" width="9.05" height="1.60" fill="#00ce67"/>
<rect x="244.30" y="129.50" width="9.05" height="1.60" fill="#9fc820"/>
<rect x="244.30" y="130.75" width="9.05" height="1.60" fill="#a3c81d"/>
<rect x="244.30" y="132.00" width="9.05" height="1.60" fill="#00c2b1"/>
<rect x="244.30" y="133.25" width="9.05" height="1.60" fill="#c6c300"/>
<rect x="244.30" y="134.50" width="9.05" height="1.60" fill="#c1c400"/>
<rect x="244.30" y="135.75" width="9.05" height="1.60" fill="#abc716"/>
<rect x="244.30" y="137.00" width="9.05" height="1.60" fill="#97c926"/>
<rect x="244.30" y="138.25" width="9.05" height="1.60" fill="#00baca"/>
<rect x="244.30" y="139.50" width="9.05" height="1.60" fill="#00b7d1"/>
<rect x="244.30" y="140.75" width="9.05" height="1.60" fill="#00ce5b"/>
<rect x="244.30" y="142.00" width="9.05" height="1.60" fill="#00ce5d"/>
<rect x="244.30" y="143.25" width="9.05" height="1.60" fill="#36cd53"/>
<rect x="244.30" y="144.50" width="9.05" height="1.60" fill="#0bce59"/>
<rect x="244.30" y="145.75" width="9.05" height="1.60" fill="#bcc502"/>
<rect x="244.30" y="147.00" width="9.05" height="1.60" fill="#a4c81c"/>
<rect x="244.30" y="148.25" width="9.05" height="1.60" fill="#08ce59"/>
<rect x="244.30" y="149.50" width="9.05" height="1.60" fill="#00cb8c"/>
<rect x="244.30" y="150.75" width="9.05" height="1.60" fill="#0099ee"/>
<rect x="244.30" y="152.00" width="9.05" height="1.60" fill="#cac300"/>
<rect x="244.30" y="153.25" width="9.05" height="1.60" fill="#009dea"/>
<rect x="244.30" y="154.50" width="9.05" height="1.60" fill="#70cc3e"/>
<rect x="244.30" y="155.75" width="9.05" height="1.60" fill="#6acc41"/>
<rect x="244.30" y="157.00" width="9.05" height="1.60" fill="#bfc400"/>
<rect x="244.30" y="158.25" width="9.05" height="1.60" fill="#00cd7f"/>
<rect x="244.30" y="159.50" width="9.05" height="1.60" fill="#eebd00"/>
<rect x="244.30" y="160.75" width="9.05" height="1.60" fill="#00ce67"/>
<rect x="244.30" y="162.00" width="9.05" height="1.60" fill="#f1bd00"/>
<rect x="244.30" y="163.25" width="9.05" height="1.60" fill="#8eca2c"/>
<rect x="244.30" y="164.50" width="9.05" height="1.60" fill="#8dca2c"/>
<rect x="244.30" y="165.75" width="9.05" height="1.60" fill="#00c1b5"/>
<rect x="244.30" y="167.00" width="9.05" height="1.60" fill="#00cc82"/>
<rect x="244.30" y="168.25" width="9.05" height="1.60" fill="#45cd4f"/>
<rect x="244.30" y="169.50" width="9.05" height="1.60" fill="#00bac9"/>
<rect x="244.30" y="170.75" width="9.05" height="1.60" fill="#ffbb1b"/>
<rect x="244.30" y="172.00" width="9.05" height="1.60" fill="#f9bc0e"/>
<rect x="244.30" y="173.25" width="9.05" height="1.60" fill="#b3c60e"/>
<rect x="244.30" y="174.50" width="9.05" height="1.60" fill="#7ecb36"/>
<rect x="244.30" y="175.75" width="9.05" height="1.60" fill="#bcc501"/>
<rect x="244.30" y="177.00" width="9.05" height="1.60" fill="#00ce6f"/>
<rect x="244.30" y="178.25" width="9.05" height="1.60" fill="#00c89a"/>
<rect x="244.30" y="179.50" width="9.05" height="1.60" fill="#00cc85"/>
<rect x="244.30" y="180.75" width="9.05" height="1.60" fill="#4ccd4d"/>
<rect x="244.30" y="182.00" width="9.05" height="1.60" fill="#00cd78"/>
<rect x="244.30" y="183.25" width="9.05" height="1.60" fill="#7acb38"/>
<rect x="244.30" y="184.50" width="9.05" height="1.60" fill="#a7c71a"/>
<rect x="244.30" y="185.75" width="9.05" height="1.60" fill="#8eca2c"/>
<rect x="244.30" y="187.00" width="9.05" height="1.60" fill="#f4bd02"/>
<rect x="244.30" y="188.25" width="9.05" height="1.60" fill="#efbd00"/>
<rect x="244.30" y="189.50" width="9.05" height="1.60" fill="#00c0b8"/>
<rect x="244.30" y="190.75" width="9.05" height="1.60" fill="#4ecd4c"/>
<rect x="244.30" y="192.00" width="9.05" height="1.60" fill="#a6c71b"/>
<rect x="244.30" y="193.25" width="9.05" height="1.60" fill="#8eca2c"/>
<rect x="244.30" y="194.50" width="9.05" height="1.60" fill="#00ce72"/>
<rect x="244.30" y="195.75" width="9.05" height="1.60" fill="#00cc88"/>
<rect x="244.30" y="197.00" width="9.05" height="1.60" fill="#00a9e3"/>
<rect x="244.30" y="198.25" width="9.05" height="1.60" fill="#73cb3c"/>
<rect x="244.30" y="199.50" width="9.05" height="1.60" fill="#00c89a"/>
<rect x="244.30" y="200.75" width="9.05" height="1.60" fill="#00cd75"/>
<rect x="244.30" y="202.00" width="9.05" height="1.60" fill="#00b9cb"/>
<rect x="244.30" y="203.25" width="9.05" height="1.60" fill="#00cc82"/>
<rect x="244.30" y="204.50" width="9.05" height="1.60" fill="#00cd77"/>
<rect x="244.30" y="205.75" width="9.05" height="1.60" fill="#edbd00"/>
<rect x="244.30" y="207.00" width="9.05" height="1.60" fill="#f4bd04"/>
<rect x="244.30" y="208.25" width="9.05" height="1.60" fill="#ffbc19"/>
<rect x="244.30" y="209.50" width="9.05" height="1.60" fill="#00ce68"/>
<rect x="244.30" y="210.75" width="9.05" height="1.60" fill="#00c1b6"/>
<rect x="244.30" y="212.00" width="9.05" height="1.60" fill="#00c0b8"/>
<rect x="244.30" y="213.25" width="9.05" height="1.60" fill="#00cd7b"/>
<rect x="244.30" y="214.50" width="9.05" height="1.60" fill="#00cc87"/>
<rect x="244.30" y="215.75" width="9.05" height="1.60" fill="#00c4ac"/>
<rect x="244.30" y="217.00" width="9.05" height="1.60" fill="#00cc85"/>
<rect x="244.30" y="218.25" width="9.05" height="1.60" fill="#00cb8e"/>
<rect x="244.30" y="219.50" width="9.05" height="1.60" fill="#00cb8e"/>
<rect x="244.30" y="220.75" width="9.05" height="1.60" fill="#00c89b"/>
<rect x="244.30" y="222.00" width="9.05" height="1.60" fill="#9ac924"/>
<rect x="244.30" y="223.25" width="9.05" height="1.60" fill="#00ce73"/>
<rect x="244.30" y="224.50" width="9.05" height="1.60" fill="#00c4ab"/>
<rect x="244.30" y="225.75" width="9.05" height="1.60" fill="#00c2b2"/>
<rect x="244.30" y="227.00" width="9.05" height="1.60" fill="#00ce62"/>
<rect x="244.30" y="228.25" width="9.05" height="1.60" fill="#b1c610"/>
<rect x="244.30" y="229.50" width="9.05" height="1.60" fill="#b6c609"/>
<rect x="244.30" y="230.75" width="9.05" height="1.60" fill="#ffbb1d"/>
<rect x="244.30" y="232.00" width="9.05" height="1.60" fill="#edbe00"/>
<rect x="244.30" y="233.25" width="9.05" height="1.60" fill="#dcc000"/>
<rect x="244.30" y="234.50" width="9.05" height="1.60" fill="#00c1b5"/>
<rect x="244.30" y="235.75" width="9.05" height="1.60" fill="#00bfba"/>
<rect x="244.30" y="237.00" width="9.05" height="1.60" fill="#00bdc3"/>
<rect x="244.30" y="238.25" width="9.05" height="1.60" fill="#adc714"/>
<rect x="244.30" y="239.50" width="9.05" height="1.60" fill="#ffbb20"/>
<rect x="244.30" y="240.75" width="9.05" height="1.60" fill="#f6bc06"/>
<rect x="244.30" y="242.00" width="9.05" height="1.60" fill="#00cc83"/>
<rect x="244.30" y="243.25" width="9.05" height="1.60" fill="#ffbb1d"/>
<rect x="244.30" y="244.50" width="9.05" height="1.60" fill="#00c1b6"/>
<rect x="244.30" y="245.75" width="9.05" height="1.60" fill="#75cb3b"/>
<rect x="244.30" y="247.00" width="9.05" height="1.60" fill="#c9c300"/>
<rect x="244.30" y="248.25" width="9.05" height="1.60" fill="#48cd4e"/>
<rect x="244.30" y="249.50" width="9.05" height="1.60" fill="#00cb8b"/>
<rect x="244.30" y="250.75" width="9.05" height="1.60" fill="#00cc86"/>
<rect x="244.30" y="252.00" width="9.05" height="1.60" fill="#00ce71"/>
<rect x="244.30" y="253.25" width="9.05" height="1.60" fill="#00ce69"/>
<rect x="244.30" y="254.50" width="9.05" height="1.60" fill="#00c7a1"/>
<rect x="244.30" y="255.75" width="9.05" height="1.60" fill="#00cd77"/>
<rect x="244.30" y="257.00" width="9.05" height="1.60" fill="#00ca90"/>
<rect x="244.30" y="258.25" width="9.05" height="1.60" fill="#00bebe"/>
<rect x="244.30" y="259.50" width="9.05" height="1.60" fill="#f7bc0a"/>
<rect x="244.30" y="260.75" width="9.05" height="1.60" fill="#e5bf00"/>
<rect x="244.30" y="262.00" width="9.05" height="1.60" fill="#00bfbb"/>
<rect x="244.30" y="263.25" width="9.05" height="1.60" fill="#00c3ac"/>
<rect x="244.30" y="264.50" width="9.05" height="1.60" fill="#00c3ae"/>
<rect x="244.30" y="265.75" width="9.05" height="1.60" fill="#fcbc15"/>
<rect x="244.30" y="267.00" width="9.05" height="1.60" fill="#00b8ce"/>
<rect x="244.30" y="268.25" width="9.05" height="1.60" fill="#00cc88"/>
<rect x="244.30" y="269.50" width="9.05" height="1.60" fill="#00c5a6"/>
<rect x="244.30" y="270.75" width="9.05" height="1.60" fill="#00bbc8"/>
<rect x="244.30" y="272.00" width="9.05" height="1.60" fill="#00c6a2"/>
<rect x="244.30" y="273.25" width="9.05" height="1.60" fill="#00c998"/>
<rect x="244.30" y="274.50" width="9.05" height="1.60" fill="#00cc88"/>
<rect x="244.30" y="275.75" width="9.05" height="1.60" fill="#00b9cb"/>
<rect x="244.30" y="277.00" width="9.05" height="1.60" fill="#00c89a"/>
<rect x="244.30" y="278.25" width="9.05" height="1.60" fill="#00c89b"/>
<rect x="244.30" y="279.50" width="9.05" height="1.60" fill="#0091f3"/>
<rect x="244.30" y="280.75" width="9.05" height="1.60" fill="#00ce5b"/>
<rect x="244.30" y="282.00" width="9.05" height="1.60" fill="#00ce68"/>
<rect x="244.30" y="283.25" width="9.05" height="1.60" fill="#ffbb1d"/>
<rect x="244.30" y="284.50" width="9.05" height="1.60" fill="#00b4d5"/>
<rect x="244.30" y="285.75" width="9.05" height="1.10" fill="#009dea"/>
<rect x="244.30" y="123.10" width="9.05" height="1.65" fill="#00b1db"/>
<rect x="244.30" y="121.50" width="9.05" height="1.85" fill="#0073ff"/>
<rect x="244.30" y="120.10" width="9.05" height="1.65" fill="#0083fd"/>
<rect x="244.30" y="118.50" width="9.05" height="1.85" fill="#3e55fb"/>
<rect x="244.30" y="117.10" width="9.05" height="1.65" fill="#3361ff"/>
<rect x="244.30" y="115.50" width="9.05" height="1.85" fill="#4830d2"/>
<rect x="244.30" y="114.10" width="9.05" height="1.65" fill="#444af4"/>
<rect x="244.30" y="112.50" width="9.05" height="1.85" fill="#462bc6"/>
<rect x="244.30" y="111.10" width="9.05" height="1.65" fill="#4836dd"/>
<rect x="244.30" y="109.50" width="9.05" height="1.85" fill="#4629c2"/>
<rect x="244.30" y="108.10" width="9.05" height="1.65" fill="#472dcc"/>
<rect x="244.30" y="106.50" width="9.05" height="1.85" fill="#4526bb"/>
<rect x="244.30" y="105.10" width="9.05" height="1.65" fill="#462ac3"/>
<rect x="244.30" y="102.10" width="9.05" height="1.65" fill="#4527bc"/>
<rect x="244.30" y="99.10" width="9.05" height="1.65" fill="#4425b8"/>
<rect x="244.30" y="286.50" width="9.05" height="1.65" fill="#0096f0"/>
<rect x="244.30" y="287.90" width="9.05" height="1.85" fill="#0072ff"/>
<rect x="244.30" y="289.50" width="9.05" height="1.65" fill="#0072ff"/>
<rect x="244.30" y="290.90" width="9.05" height="1.85" fill="#4743ee"/>
<rect x="244.30" y="292.50" width="9.05" height="1.65" fill="#4549f3"/>
<rect x="244.30" y="293.90" width="9.05" height="1.85" fill="#472cc9"/>
<rect x="244.30" y="295.50" width="9.05" height="1.65" fill="#4832d6"/>
<rect x="244.30" y="296.90" width="9.05" height="1.85" fill="#4527bd"/>
<rect x="244.30" y="298.50" width="9.05" height="1.65" fill="#472cc9"/>
<rect x="244.30" y="301.50" width="9.05" height="1.65" fill="#4526ba"/>
<rect x="262.00" y="162.50" width="9.55" height="1.60" fill="#00b6d3"/>
<rect x="262.00" y="163.75" width="9.55" height="1.60" fill="#e2bf00"/>
<rect x="262.00" y="165.00" width="9.55" height="1.60" fill="#00bfbb"/>
<rect x="262.00" y="166.25" width="9.55" height="1.60" fill="#e7be00"/>
<rect x="262.00" y="167.50" width="9.55" height="1.60" fill="#00c4a9"/>
<rect x="262.00" y="168.75" width="9.55" height="1.60" fill="#00ce62"/>
<rect x="262.00" y="170.00" width="9.55" height="1.60" fill="#00ce66"/>
<rect x="262.00" y="171.25" width="9.55" height="1.60" fill="#b7c508"/>
<rect x="262.00" y="172.50" width="9.55" height="1.60" fill="#8bca2e"/>
<rect x="262.00" y="173.75" width="9.55" height="1.60" fill="#00ce72"/>
<rect x="262.00" y="175.00" width="9.55" height="1.60" fill="#00aede"/>
<rect x="262.00" y="176.25" width="9.55" height="1.60" fill="#29ce56"/>
<rect x="262.00" y="177.50" width="9.55" height="1.60" fill="#76cb3b"/>
<rect x="262.00" y="178.75" width="9.55" height="1.60" fill="#00bbc8"/>
<rect x="262.00" y="180.00" width="9.55" height="1.60" fill="#009bec"/>
<rect x="262.00" y="181.25" width="9.55" height="1.60" fill="#00c79e"/>
<rect x="262.00" y="182.50" width="9.55" height="1.60" fill="#f8bc0b"/>
<rect x="262.00" y="183.75" width="9.55" height="1.60" fill="#00a3e7"/>
<rect x="262.00" y="185.00" width="9.55" height="1.60" fill="#00cd7f"/>
<rect x="262.00" y="186.25" width="9.55" height="1.60" fill="#3bcd52"/>
<rect x="262.00" y="187.50" width="9.55" height="1.60" fill="#009aec"/>
<rect x="262.00" y="188.75" width="9.55" height="1.60" fill="#ffbb22"/>
<rect x="262.00" y="190.00" width="9.55" height="1.60" fill="#00bfba"/>
<rect x="262.00" y="191.25" width="9.55" height="1.60" fill="#ffbb1e"/>
<rect x="262.00" y="192.50" width="9.55" height="1.60" fill="#bfc400"/>
<rect x="262.00" y="193.75" width="9.55" height="1.60" fill="#00c0b7"/>
<rect x="262.00" y="195.00" width="9.55" height="1.60" fill="#bcc502"/>
<rect x="262.00" y="196.25" width="9.55" height="1.60" fill="#ffbb25"/>
<rect x="262.00" y="197.50" width="9.55" height="1.60" fill="#99c925"/>
<rect x="262.00" y="198.75" width="9.55" height="1.60" fill="#00c89a"/>
<rect x="262.00" y="200.00" width="9.55" height="1.60" fill="#76cb3b"/>
<rect x="262.00" y="201.25" width="9.55" height="1.60" fill="#78cb3a"/>
<rect x="262.00" y="202.50" width="9.55" height="1.60" fill="#4ecd4c"/>
<rect x="262.00" y="203.75" width="9.55" height="1.60" fill="#99c925"/>
<rect x="262.00" y="205.00" width="9.55" height="1.60" fill="#b1c610"/>
<rect x="262.00" y="206.25" width="9.55" height="1.60" fill="#00cd76"/>
<rect x="262.00" y="207.50" width="9.55" height="1.60" fill="#a1c81e"/>
<rect x="262.00" y="208.75" width="9.55" height="1.60" fill="#009eea"/>
<rect x="262.00" y="210.00" width="9.55" height="1.60" fill="#dcc000"/>
<rect x="262.00" y="211.25" width="9.55" height="1.60" fill="#00c79e"/>
<rect x="262.00" y="212.50" width="9.55" height="1.60" fill="#00c0b9"/>
<rect x="262.00" y="213.75" width="9.55" height="1.60" fill="#00cb8e"/>
<rect x="262.00" y="215.00" width="9.55" height="1.60" fill="#00cb8a"/>
<rect x="262.00" y="216.25" width="9.55" height="1.60" fill="#c6c300"/>
<rect x="262.00" y="217.50" width="9.55" height="1.60" fill="#71cc3d"/>
<rect x="262.00" y="218.75" width="9.55" height="1.60" fill="#00cc83"/>
<rect x="262.00" y="220.00" width="9.55" height="1.60" fill="#00cc84"/>
<rect x="262.00" y="221.25" width="9.55" height="1.60" fill="#00cd7d"/>
<rect x="262.00" y="222.50" width="9.55" height="1.60" fill="#9cc822"/>
<rect x="262.00" y="223.75" width="9.55" height="1.60" fill="#7fcb36"/>
<rect x="262.00" y="225.00" width="9.55" height="1.60" fill="#00ce61"/>
<rect x="262.00" y="226.25" width="9.55" height="1.60" fill="#00c2b0"/>
<rect x="262.00" y="227.50" width="9.55" height="1.60" fill="#a7c719"/>
<rect x="262.00" y="228.75" width="9.55" height="1.60" fill="#00a3e7"/>
<rect x="262.00" y="230.00" width="9.55" height="1.60" fill="#00cb8b"/>
<rect x="262.00" y="231.25" width="9.55" height="1.60" fill="#c0c400"/>
<rect x="262.00" y="232.50" width="9.55" height="1.60" fill="#bdc500"/>
<rect x="262.00" y="233.75" width="9.55" height="1.60" fill="#00c4a9"/>
<rect x="262.00" y="235.00" width="9.55" height="1.60" fill="#b4c60c"/>
<rect x="262.00" y="236.25" width="9.55" height="1.60" fill="#00bebe"/>
<rect x="262.00" y="237.50" width="9.55" height="1.60" fill="#08ce59"/>
<rect x="262.00" y="238.75" width="9.55" height="1.60" fill="#cbc300"/>
<rect x="262.00" y="240.00" width="9.55" height="1.60" fill="#dbc000"/>
<rect x="262.00" y="241.25" width="9.55" height="1.60" fill="#ddc000"/>
<rect x="262.00" y="242.50" width="9.55" height="1.60" fill="#00bec0"/>
<rect x="262.00" y="243.75" width="9.55" height="1.60" fill="#00c2b3"/>
<rect x="262.00" y="245.00" width="9.55" height="1.60" fill="#00cb8e"/>
<rect x="262.00" y="246.25" width="9.55" height="1.10" fill="#00bdc2"/>
<rect x="262.00" y="161.10" width="9.55" height="1.65" fill="#00a9e4"/>
<rect x="262.00" y="159.50" width="9.55" height="1.85" fill="#126dff"/>
<rect x="262.00" y="158.10" width="9.55" height="1.65" fill="#0078ff"/>
<rect x="262.00" y="156.50" width="9.55" height="1.85" fill="#4150f8"/>
<rect x="262.00" y="155.10" width="9.55" height="1.65" fill="#444bf5"/>
<rect x="262.00" y="153.50" width="9.55" height="1.85" fill="#472ecf"/>
<rect x="262.00" y="152.10" width="9.55" height="1.65" fill="#483ce6"/>
<rect x="262.00" y="150.50" width="9.55" height="1.85" fill="#462ac3"/>
<rect x="262.00" y="149.10" width="9.55" height="1.65" fill="#472fcf"/>
<rect x="262.00" y="147.50" width="9.55" height="1.85" fill="#4526b9"/>
<rect x="262.00" y="146.10" width="9.55" height="1.65" fill="#462ac3"/>
<rect x="262.00" y="143.10" width="9.55" height="1.65" fill="#4526bb"/>
<rect x="262.00" y="247.00" width="9.55" height="1.85" fill="#0084fd"/>
<rect x="262.00" y="248.60" width="9.55" height="1.65" fill="#007bff"/>
<rect x="262.00" y="250.00" width="9.55" height="1.85" fill="#3e55fb"/>
<rect x="262.00" y="251.60" width="9.55" height="1.65" fill="#4151f8"/>
<rect x="262.00" y="253.00" width="9.55" height="1.85" fill="#472dcb"/>
<rect x="262.00" y="254.60" width="9.55" height="1.65" fill="#4838e1"/>
<rect x="262.00" y="256.00" width="9.55" height="1.85" fill="#4527bc"/>
<rect x="262.00" y="257.60" width="9.55" height="1.65" fill="#472cc8"/>
<rect x="262.00" y="260.60" width="9.55" height="1.65" fill="#4527bc"/>
<rect x="271.25" y="124.50" width="9.55" height="1.60" fill="#00c5a5"/>
<rect x="271.25" y="125.75" width="9.55" height="1.60" fill="#e9be00"/>
<rect x="271.25" y="127.00" width="9.55" height="1.60" fill="#f1bd00"/>
<rect x="271.25" y="128.25" width="9.55" height="1.60" fill="#ffbb22"/>
<rect x="271.25" y="129.50" width="9.55" height="1.60" fill="#f1bd00"/>
<rect x="271.25" y="130.75" width="9.55" height="1.60" fill="#ecbe00"/>
<rect x="271.25" y="132.00" width="9.55" height="1.60" fill="#dec000"/>
<rect x="271.25" y="133.25" width="9.55" height="1.60" fill="#00bfbc"/>
<rect x="271.25" y="134.50" width="9.55" height="1.60" fill="#91c92a"/>
<rect x="271.25" y="135.75" width="9.55" height="1.60" fill="#dfc000"/>
<rect x="271.25" y="137.00" width="9.55" height="1.60" fill="#fabc10"/>
<rect x="271.25" y="138.25" width="9.55" height="1.60" fill="#00ce6d"/>
<rect x="271.25" y="139.50" width="9.55" height="1.60" fill="#00ce68"/>
<rect x="271.25" y="140.75" width="9.55" height="1.60" fill="#a6c71a"/>
<rect x="271.25" y="142.00" width="9.55" height="1.60" fill="#9dc821"/>
<rect x="271.25" y="143.25" width="9.55" height="1.60" fill="#95c928"/>
<rect x="271.25" y="144.50" width="9.55" height="1.60" fill="#c5c400"/>
<rect x="271.25" y="145.75" width="9.55" height="1.60" fill="#a9c718"/>
<rect x="271.25" y="147.00" width="9.55" height="1.60" fill="#a3c81d"/>
<rect x="271.25" y="148.25" width="9.55" height="1.60" fill="#9ac924"/>
<rect x="271.25" y="149.50" width="9.55" height="1.60" fill="#99c925"/>
<rect x="271.25" y="150.75" width="9.55" height="1.60" fill="#febc18"/>
<rect x="271.25" y="152.00" width="9.55" height="1.60" fill="#febc18"/>
<rect x="271.25" y="153.25" width="9.55" height="1.60" fill="#f0bd00"/>
<rect x="271.25" y="154.50" width="9.55" height="1.60" fill="#a5c81b"/>
<rect x="271.25" y="155.75" width="9.55" height="1.60" fill="#febc17"/>
<rect x="271.25" y="157.00" width="9.55" height="1.60" fill="#dec000"/>
<rect x="271.25" y="158.25" width="9.55" height="1.60" fill="#9dc822"/>
<rect x="271.25" y="159.50" width="9.55" height="1.60" fill="#84ca32"/>
<rect x="271.25" y="160.75" width="9.55" height="1.60" fill="#f7bc09"/>
<rect x="271.25" y="162.00" width="9.55" height="1.60" fill="#95c928"/>
<rect x="271.25" y="163.25" width="9.55" height="1.60" fill="#49cd4e"/>
<rect x="271.25" y="164.50" width="9.55" height="1.60" fill="#dfc000"/>
<rect x="271.25" y="165.75" width="9.55" height="1.60" fill="#8dca2d"/>
<rect x="271.25" y="167.00" width="9.55" height="1.60" fill="#f9bc0f"/>
<rect x="271.25" y="168.25" width="9.55" height="1.60" fill="#00cd81"/>
<rect x="271.25" y="169.50" width="9.55" height="1.60" fill="#00cd80"/>
<rect x="271.25" y="170.75" width="9.55" height="1.60" fill="#00c5a6"/>
<rect x="271.25" y="172.00" width="9.55" height="1.60" fill="#00c2b3"/>
<rect x="271.25" y="173.25" width="9.55" height="1.60" fill="#95c928"/>
<rect x="271.25" y="174.50" width="9.55" height="1.60" fill="#ffbb1e"/>
<rect x="271.25" y="175.75" width="9.55" height="1.60" fill="#f8bc0b"/>
<rect x="271.25" y="177.00" width="9.55" height="1.60" fill="#f0bd00"/>
<rect x="271.25" y="178.25" width="9.55" height="1.60" fill="#00c2b2"/>
<rect x="271.25" y="179.50" width="9.55" height="1.60" fill="#cbc300"/>
<rect x="271.25" y="180.75" width="9.55" height="1.60" fill="#c2c400"/>
<rect x="271.25" y="182.00" width="9.55" height="1.60" fill="#dbc000"/>
<rect x="271.25" y="183.25" width="9.55" height="1.60" fill="#febc18"/>
<rect x="271.25" y="184.50" width="9.55" height="1.60" fill="#00c3ae"/>
<rect x="271.25" y="185.75" width="9.55" height="1.60" fill="#d7c100"/>
<rect x="271.25" y="187.00" width="9.55" height="1.60" fill="#e8be00"/>
<rect x="271.25" y="188.25" width="9.55" height="1.60" fill="#ffbb1e"/>
<rect x="271.25" y="189.50" width="9.55" height="1.60" fill="#f1bd00"/>
<rect x="271.25" y="190.75" width="9.55" height="1.60" fill="#e3bf00"/>
<rect x="271.25" y="192.00" width="9.55" height="1.60" fill="#d5c100"/>
<rect x="271.25" y="193.25" width="9.55" height="1.60" fill="#efbd00"/>
<rect x="271.25" y="194.50" width="9.55" height="1.60" fill="#c4c400"/>
<rect x="271.25" y="195.75" width="9.55" height="1.60" fill="#fdbc16"/>
<rect x="271.25" y="197.00" width="9.55" height="1.60" fill="#fabc10"/>
<rect x="271.25" y="198.25" width="9.55" height="1.60" fill="#7fcb36"/>
<rect x="271.25" y="199.50" width="9.55" height="1.60" fill="#e7be00"/>
<rect x="271.25" y="200.75" width="9.55" height="1.60" fill="#00ce69"/>
<rect x="271.25" y="202.00" width="9.55" height="1.60" fill="#00ce60"/>
<rect x="271.25" y="203.25" width="9.55" height="1.60" fill="#c9c300"/>
<rect x="271.25" y="204.50" width="9.55" height="1.60" fill="#fabc10"/>
<rect x="271.25" y="205.75" width="9.55" height="1.60" fill="#f3bd01"/>
<rect x="271.25" y="207.00" width="9.55" height="1.60" fill="#f5bc05"/>
<rect x="271.25" y="208.25" width="9.55" height="1.60" fill="#e7be00"/>
<rect x="271.25" y="209.50" width="9.55" height="1.60" fill="#e1bf00"/>
<rect x="271.25" y="210.75" width="9.55" height="1.60" fill="#89ca2f"/>
<rect x="271.25" y="212.00" width="9.55" height="1.60" fill="#f6bc07"/>
<rect x="271.25" y="213.25" width="9.55" height="1.60" fill="#d9c100"/>
<rect x="271.25" y="214.50" width="9.55" height="1.60" fill="#dac000"/>
<rect x="271.25" y="215.75" width="9.55" height="1.60" fill="#dcc000"/>
<rect x="271.25" y="217.00" width="9.55" height="1.60" fill="#cac300"/>
<rect x="271.25" y="218.25" width="9.55" height="1.60" fill="#00c6a5"/>
<rect x="271.25" y="219.50" width="9.55" height="1.60" fill="#00bfbc"/>
<rect x="271.25" y="220.75" width="9.55" height="1.60" fill="#ffbb1c"/>
<rect x="271.25" y="222.00" width="9.55" height="1.60" fill="#00c2b1"/>
<rect x="271.25" y="223.25" width="9.55" height="1.60" fill="#00c0b7"/>
<rect x="271.25" y="224.50" width="9.55" height="1.60" fill="#00ce6e"/>
<rect x="271.25" y="225.75" width="9.55" height="1.60" fill="#23ce57"/>
<rect x="271.25" y="227.00" width="9.55" height="1.60" fill="#00ca93"/>
<rect x="271.25" y="228.25" width="9.55" height="1.60" fill="#fcbc14"/>
<rect x="271.25" y="229.50" width="9.55" height="1.60" fill="#bec500"/>
<rect x="271.25" y="230.75" width="9.55" height="1.60" fill="#00cd7c"/>
<rect x="271.25" y="232.00" width="9.55" height="1.60" fill="#ebbe00"/>
<rect x="271.25" y="233.25" width="9.55" height="1.60" fill="#ccc200"/>
<rect x="271.25" y="234.50" width="9.55" height="1.60" fill="#e0c000"/>
<rect x="271.25" y="235.75" width="9.55" height="1.60" fill="#f6bc07"/>
<rect x="271.25" y="237.00" width="9.55" height="1.60" fill="#00ce63"/>
<rect x="271.25" y="238.25" width="9.55" height="1.60" fill="#00cd80"/>
<rect x="271.25" y="239.50" width="9.55" height="1.60" fill="#e2bf00"/>
<rect x="271.25" y="240.75" width="9.55" height="1.60" fill="#f0bd00"/>
<rect x="271.25" y="242.00" width="9.55" height="1.60" fill="#e6bf00"/>
<rect x="271.25" y="243.25" width="9.55" height="1.60" fill="#00ce62"/>
<rect x="271.25" y="244.50" width="9.55" height="1.60" fill="#3bcd52"/>
<rect x="271.25" y="245.75" width="9.55" height="1.60" fill="#00c6a4"/>
<rect x="271.25" y="247.00" width="9.55" height="1.60" fill="#00ce72"/>
<rect x="271.25" y="248.25" width="9.55" height="1.60" fill="#f6bc07"/>
<rect x="271.25" y="249.50" width="9.55" height="1.60" fill="#ffbb1f"/>
<rect x="271.25" y="250.75" width="9.55" height="1.60" fill="#ffbb1c"/>
<rect x="271.25" y="252.00" width="9.55" height="1.60" fill="#65cc43"/>
<rect x="271.25" y="253.25" width="9.55" height="1.60" fill="#59cd48"/>
<rect x="271.25" y="254.50" width="9.55" height="1.60" fill="#74cb3c"/>
<rect x="271.25" y="255.75" width="9.55" height="1.60" fill="#ffbb22"/>
<rect x="271.25" y="257.00" width="9.55" height="1.60" fill="#ffbb25"/>
<rect x="271.25" y="258.25" width="9.55" height="1.60" fill="#ffbb21"/>
<rect x="271.25" y="259.50" width="9.55" height="1.60" fill="#00ce64"/>
<rect x="271.25" y="260.75" width="9.55" height="1.60" fill="#f8bc0c"/>
<rect x="271.25" y="262.00" width="9.55" height="1.60" fill="#00ce74"/>
<rect x="271.25" y="263.25" width="9.55" height="1.60" fill="#00cd79"/>
<rect x="271.25" y="264.50" width="9.55" height="1.60" fill="#d9c100"/>
<rect x="271.25" y="265.75" width="9.55" height="1.60" fill="#b0c611"/>
<rect x="271.25" y="267.00" width="9.55" height="1.60" fill="#3ecd51"/>
<rect x="271.25" y="268.25" width="9.55" height="1.60" fill="#80cb35"/>
<rect x="271.25" y="269.50" width="9.55" height="1.60" fill="#b4c60c"/>
<rect x="271.25" y="270.75" width="9.55" height="1.60" fill="#f4bd03"/>
<rect x="271.25" y="272.00" width="9.55" height="1.60" fill="#f7bc0a"/>
<rect x="271.25" y="273.25" width="9.55" height="1.60" fill="#f0bd00"/>
<rect x="271.25" y="274.50" width="9.55" height="1.60" fill="#00ce68"/>
<rect x="271.25" y="275.75" width="9.55" height="1.60" fill="#ffbb26"/>
<rect x="271.25" y="277.00" width="9.55" height="1.60" fill="#febc19"/>
<rect x="271.25" y="278.25" width="9.55" height="1.60" fill="#b8c507"/>
<rect x="271.25" y="279.50" width="9.55" height="1.60" fill="#00c89a"/>
<rect x="271.25" y="280.75" width="9.55" height="1.60" fill="#99c924"/>
<rect x="271.25" y="282.00" width="9.55" height="1.60" fill="#91c92a"/>
<rect x="271.25" y="283.25" width="9.55" height="1.60" fill="#eabe00"/>
<rect x="271.25" y="284.50" width="9.55" height="1.60" fill="#9bc923"/>
<rect x="271.25" y="285.75" width="9.55" height="1.30" fill="#00ce5c"/>
<rect x="271.25" y="122.90" width="9.55" height="1.85" fill="#007eff"/>
<rect x="271.25" y="121.50" width="9.55" height="1.65" fill="#009eea"/>
<rect x="271.25" y="119.90" width="9.55" height="1.85" fill="#375dff"/>
<rect x="271.25" y="118.50" width="9.55" height="1.65" fill="#2966ff"/>
<rect x="271.25" y="116.90" width="9.55" height="1.85" fill="#4836de"/>
<rect x="271.25" y="115.50" width="9.55" height="1.65" fill="#3e55fb"/>
<rect x="271.25" y="113.90" width="9.55" height="1.85" fill="#4830d3"/>
<rect x="271.25" y="112.50" width="9.55" height="1.65" fill="#4644ee"/>
<rect x="271.25" y="110.90" width="9.55" height="1.85" fill="#472dca"/>
<rect x="271.25" y="109.50" width="9.55" height="1.65" fill="#483ae4"/>
<rect x="271.25" y="107.90" width="9.55" height="1.85" fill="#4628c0"/>
<rect x="271.25" y="106.50" width="9.55" height="1.65" fill="#472ecd"/>
<rect x="271.25" y="104.90" width="9.55" height="1.85" fill="#4527bc"/>
<rect x="271.25" y="103.50" width="9.55" height="1.65" fill="#462ac3"/>
<rect x="271.25" y="100.50" width="9.55" height="1.65" fill="#4527bd"/>
<rect x="271.25" y="97.50" width="9.55" height="1.65" fill="#4526bb"/>
<rect x="271.25" y="286.70" width="9.55" height="1.85" fill="#0070ff"/>
<rect x="271.25" y="288.30" width="9.55" height="1.65" fill="#2966ff"/>
<rect x="271.25" y="289.70" width="9.55" height="1.85" fill="#483de8"/>
<rect x="271.25" y="291.30" width="9.55" height="1.65" fill="#483ae4"/>
<rect x="271.25" y="292.70" width="9.55" height="1.85" fill="#4527bd"/>
<rect x="271.25" y="294.30" width="9.55" height="1.65" fill="#462bc6"/>
<rect x="271.25" y="297.30" width="9.55" height="1.65" fill="#4425b8"/>
<rect x="280.50" y="124.50" width="9.55" height="1.60" fill="#00ce6e"/>
<rect x="280.50" y="125.75" width="9.55" height="1.60" fill="#8aca2f"/>
<rect x="280.50" y="127.00" width="9.55" height="1.60" fill="#00cc82"/>
<rect x="280.50" y="128.25" width="9.55" height="1.60" fill="#00cb8b"/>
<rect x="280.50" y="129.50" width="9.55" height="1.60" fill="#ffbb23"/>
<rect x="280.50" y="130.75" width="9.55" height="1.60" fill="#fdbc16"/>
<rect x="280.50" y="132.00" width="9.55" height="1.60" fill="#e8be00"/>
<rect x="280.50" y="133.25" width="9.55" height="1.60" fill="#00c2b1"/>
<rect x="280.50" y="134.50" width="9.55" height="1.60" fill="#e5bf00"/>
<rect x="280.50" y="135.75" width="9.55" height="1.60" fill="#e6bf00"/>
<rect x="280.50" y="137.00" width="9.55" height="1.60" fill="#edbe00"/>
<rect x="280.50" y="138.25" width="9.55" height="1.60" fill="#9cc822"/>
<rect x="280.50" y="139.50" width="9.55" height="1.60" fill="#a4c81c"/>
<rect x="280.50" y="140.75" width="9.55" height="1.60" fill="#8bca2e"/>
<rect x="280.50" y="142.00" width="9.55" height="1.60" fill="#b7c508"/>
<rect x="280.50" y="143.25" width="9.55" height="1.60" fill="#d4c100"/>
<rect x="280.50" y="144.50" width="9.55" height="1.60" fill="#ffbb22"/>
<rect x="280.50" y="145.75" width="9.55" height="1.60" fill="#00c4ac"/>
<rect x="280.50" y="147.00" width="9.55" height="1.60" fill="#00c2b1"/>
<rect x="280.50" y="148.25" width="9.55" height="1.60" fill="#00c2b2"/>
<rect x="280.50" y="149.50" width="9.55" height="1.60" fill="#00cc83"/>
<rect x="280.50" y="150.75" width="9.55" height="1.60" fill="#fcbc14"/>
<rect x="280.50" y="152.00" width="9.55" height="1.60" fill="#00c1b5"/>
<rect x="280.50" y="153.25" width="9.55" height="1.60" fill="#ffbb1e"/>
<rect x="280.50" y="154.50" width="9.55" height="1.60" fill="#00ce5f"/>
<rect x="280.50" y="155.75" width="9.55" height="1.60" fill="#00cc83"/>
<rect x="280.50" y="157.00" width="9.55" height="1.60" fill="#e6bf00"/>
<rect x="280.50" y="158.25" width="9.55" height="1.60" fill="#5bcc47"/>
<rect x="280.50" y="159.50" width="9.55" height="1.60" fill="#55cd4a"/>
<rect x="280.50" y="160.75" width="9.55" height="1.60" fill="#60cc45"/>
<rect x="280.50" y="162.00" width="9.55" height="1.60" fill="#69cc42"/>
<rect x="280.50" y="163.25" width="9.55" height="1.60" fill="#f8bc0d"/>
<rect x="280.50" y="164.50" width="9.55" height="1.60" fill="#00a5e6"/>
<rect x="280.50" y="165.75" width="9.55" height="1.60" fill="#7bcb38"/>
<rect x="280.50" y="167.00" width="9.55" height="1.60" fill="#00ce6b"/>
<rect x="280.50" y="168.25" width="9.55" height="1.60" fill="#f0bd00"/>
<rect x="280.50" y="169.50" width="9.55" height="1.60" fill="#84ca33"/>
<rect x="280.50" y="170.75" width="9.55" height="1.60" fill="#f8bc0d"/>
<rect x="280.50" y="172.00" width="9.55" height="1.60" fill="#f2bd01"/>
<rect x="280.50" y="173.25" width="9.55" height="1.60" fill="#00c4aa"/>
<rect x="280.50" y="174.50" width="9.55" height="1.60" fill="#a7c71a"/>
<rect x="280.50" y="175.75" width="9.55" height="1.60" fill="#008ef6"/>
<rect x="280.50" y="177.00" width="9.55" height="1.60" fill="#f1bd00"/>
<rect x="280.50" y="178.25" width="9.55" height="1.60" fill="#c7c300"/>
<rect x="280.50" y="179.50" width="9.55" height="1.60" fill="#e1bf00"/>
<rect x="280.50" y="180.75" width="9.55" height="1.60" fill="#ebbe00"/>
<rect x="280.50" y="182.00" width="9.55" height="1.60" fill="#ecbe00"/>
<rect x="280.50" y="183.25" width="9.55" height="1.60" fill="#00ce6c"/>
<rect x="280.50" y="184.50" width="9.55" height="1.60" fill="#00ce60"/>
<rect x="280.50" y="185.75" width="9.55" height="1.60" fill="#eebd00"/>
<rect x="280.50" y="187.00" width="9.55" height="1.60" fill="#d8c100"/>
<rect x="280.50" y="188.25" width="9.55" height="1.60" fill="#f8bc0b"/>
<rect x="280.50" y="189.50" width="9.55" height="1.60" fill="#fcbc14"/>
<rect x="280.50" y="190.75" width="9.55" height="1.60" fill="#00cd76"/>
<rect x="280.50" y="192.00" width="9.55" height="1.60" fill="#b0c611"/>
<rect x="280.50" y="193.25" width="9.55" height="1.60" fill="#c7c300"/>
<rect x="280.50" y="194.50" width="9.55" height="1.60" fill="#5fcc46"/>
<rect x="280.50" y="195.75" width="9.55" height="1.60" fill="#fbbc13"/>
<rect x="280.50" y="197.00" width="9.55" height="1.60" fill="#ffbb19"/>
<rect x="280.50" y="198.25" width="9.55" height="1.60" fill="#ffbb26"/>
<rect x="280.50" y="199.50" width="9.55" height="1.60" fill="#cbc300"/>
<rect x="280.50" y="200.75" width="9.55" height="1.60" fill="#f0bd00"/>
<rect x="280.50" y="202.00" width="9.55" height="1.60" fill="#e7be00"/>
<rect x="280.50" y="203.25" width="9.55" height="1.60" fill="#e7be00"/>
<rect x="280.50" y="204.50" width="9.55" height="1.60" fill="#f2bd01"/>
<rect x="280.50" y="205.75" width="9.55" height="1.60" fill="#82cb34"/>
<rect x="280.50" y="207.00" width="9.55" height="1.60" fill="#9ec820"/>
<rect x="280.50" y="208.25" width="9.55" height="1.60" fill="#00c7a0"/>
<rect x="280.50" y="209.50" width="9.55" height="1.60" fill="#e5bf00"/>
<rect x="280.50" y="210.75" width="9.55" height="1.60" fill="#d3c200"/>
<rect x="280.50" y="212.00" width="9.55" height="1.60" fill="#d5c100"/>
<rect x="280.50" y="213.25" width="9.55" height="1.60" fill="#f5bc05"/>
<rect x="280.50" y="214.50" width="9.55" height="1.60" fill="#93c929"/>
<rect x="280.50" y="215.75" width="9.55" height="1.60" fill="#adc714"/>
<rect x="280.50" y="217.00" width="9.55" height="1.60" fill="#4ccd4d"/>
<rect x="280.50" y="218.25" width="9.55" height="1.60" fill="#ddc000"/>
<rect x="280.50" y="219.50" width="9.55" height="1.60" fill="#5dcc47"/>
<rect x="280.50" y="220.75" width="9.55" height="1.60" fill="#00ce66"/>
<rect x="280.50" y="222.00" width="9.55" height="1.60" fill="#f7bc08"/>
<rect x="280.50" y="223.25" width="9.55" height="1.60" fill="#00cd7f"/>
<rect x="280.50" y="224.50" width="9.55" height="1.60" fill="#c3c400"/>
<rect x="280.50" y="225.75" width="9.55" height="1.60" fill="#d0c200"/>
<rect x="280.50" y="227.00" width="9.55" height="1.60" fill="#ebbe00"/>
<rect x="280.50" y="228.25" width="9.55" height="1.60" fill="#dec000"/>
<rect x="280.50" y="229.50" width="9.55" height="1.60" fill="#00ce62"/>
<rect x="280.50" y="230.75" width="9.55" height="1.60" fill="#00ce64"/>
<rect x="280.50" y="232.00" width="9.55" height="1.60" fill="#b9c506"/>
<rect x="280.50" y="233.25" width="9.55" height="1.60" fill="#0084fd"/>
<rect x="280.50" y="234.50" width="9.55" height="1.60" fill="#d6c100"/>
<rect x="280.50" y="235.75" width="9.55" height="1.60" fill="#d9c100"/>
<rect x="280.50" y="237.00" width="9.55" height="1.60" fill="#00c5a7"/>
<rect x="280.50" y="238.25" width="9.55" height="1.60" fill="#d8c100"/>
<rect x="280.50" y="239.50" width="9.55" height="1.60" fill="#edbe00"/>
<rect x="280.50" y="240.75" width="9.55" height="1.60" fill="#00c79e"/>
<rect x="280.50" y="242.00" width="9.55" height="1.60" fill="#eabe00"/>
<rect x="280.50" y="243.25" width="9.55" height="1.60" fill="#b6c60a"/>
<rect x="280.50" y="244.50" width="9.55" height="1.60" fill="#b9c506"/>
<rect x="280.50" y="245.75" width="9.55" height="1.60" fill="#e1bf00"/>
<rect x="280.50" y="247.00" width="9.55" height="1.60" fill="#00cd7f"/>
<rect x="280.50" y="248.25" width="9.55" height="1.60" fill="#ffbb25"/>
<rect x="280.50" y="249.50" width="9.55" height="1.60" fill="#ffbb1f"/>
<rect x="280.50" y="250.75" width="9.55" height="1.60" fill="#00c0ba"/>
<rect x="280.50" y="252.00" width="9.55" height="1.60" fill="#00c0b8"/>
<rect x="280.50" y="253.25" width="9.55" height="1.60" fill="#e9be00"/>
<rect x="280.50" y="254.50" width="9.55" height="1.60" fill="#00cd76"/>
<rect x="280.50" y="255.75" width="9.55" height="1.60" fill="#4ecd4c"/>
<rect x="280.50" y="257.00" width="9.55" height="1.60" fill="#abc716"/>
<rect x="280.50" y="258.25" width="9.55" height="1.60" fill="#e0bf00"/>
<rect x="280.50" y="259.50" width="9.55" height="1.60" fill="#d6c100"/>
<rect x="280.50" y="260.75" width="9.55" height="1.60" fill="#c9c300"/>
<rect x="280.50" y="262.00" width="9.55" height="1.60" fill="#00ace1"/>
<rect x="280.50" y="263.25" width="9.55" height="1.60" fill="#f5bc04"/>
<rect x="280.50" y="264.50" width="9.55" height="1.60" fill="#ffbb25"/>
<rect x="280.50" y="265.75" width="9.55" height="1.60" fill="#fdbc17"/>
<rect x="280.50" y="267.00" width="9.55" height="1.60" fill="#dfc000"/>
<rect x="280.50" y="268.25" width="9.55" height="1.60" fill="#ffbb22"/>
<rect x="280.50" y="269.50" width="9.55" height="1.60" fill="#00ca95"/>
<rect x="280.50" y="270.75" width="9.55" height="1.60" fill="#4ccd4d"/>
<rect x="280.50" y="272.00" width="9.55" height="1.60" fill="#5ccc47"/>
<rect x="280.50" y="273.25" width="9.55" height="1.60" fill="#6dcc3f"/>
<rect x="280.50" y="274.50" width="9.55" height="1.60" fill="#ffbb24"/>
<rect x="280.50" y="275.75" width="9.55" height="1.60" fill="#32cd54"/>
<rect x="280.50" y="277.00" width="9.55" height="1.60" fill="#00cc82"/>
<rect x="280.50" y="278.25" width="9.55" height="1.60" fill="#a4c81c"/>
<rect x="280.50" y="279.50" width="9.55" height="1.60" fill="#ffbb1d"/>
<rect x="280.50" y="280.75" width="9.55" height="1.60" fill="#aec714"/>
<rect x="280.50" y="282.00" width="9.55" height="1.60" fill="#00ce67"/>
<rect x="280.50" y="283.25" width="9.55" height="1.60" fill="#00bbc7"/>
<rect x="280.50" y="284.50" width="9.55" height="1.60" fill="#edbe00"/>
<rect x="280.50" y="285.75" width="9.55" height="1.60" fill="#c3c400"/>
<rect x="280.50" y="287.00" width="9.55" height="1.60" fill="#c1c400"/>
<rect x="280.50" y="288.25" width="9.55" height="1.60" fill="#00bdc1"/>
<rect x="280.50" y="289.50" width="9.55" height="0.85" fill="#00c3ad"/>
<rect x="280.50" y="123.10" width="9.55" height="1.65" fill="#009bec"/>
<rect x="280.50" y="121.50" width="9.55" height="1.85" fill="#385cfe"/>
<rect x="280.50" y="120.10" width="9.55" height="1.65" fill="#3261ff"/>
<rect x="280.50" y="118.50" width="9.55" height="1.85" fill="#483fea"/>
<rect x="280.50" y="117.10" width="9.55" height="1.65" fill="#483ee8"/>
<rect x="280.50" y="115.50" width="9.55" height="1.85" fill="#4629c0"/>
<rect x="280.50" y="114.10" width="9.55" height="1.65" fill="#472ece"/>
<rect x="280.50" y="112.50" width="9.55" height="1.85" fill="#4425b8"/>
<rect x="280.50" y="111.10" width="9.55" height="1.65" fill="#4527bd"/>
<rect x="280.50" y="290.00" width="9.55" height="1.65" fill="#007bff"/>
<rect x="280.50" y="291.40" width="9.55" height="1.85" fill="#4836de"/>
<rect x="280.50" y="293.00" width="9.55" height="1.65" fill="#472dcc"/>
<rect x="289.75" y="124.50" width="9.55" height="1.60" fill="#009bec"/>
<rect x="289.75" y="125.75" width="9.55" height="1.60" fill="#00ce6f"/>
<rect x="289.75" y="127.00" width="9.55" height="1.60" fill="#21ce57"/>
<rect x="289.75" y="128.25" width="9.55" height="1.60" fill="#ffbb1e"/>
<rect x="289.75" y="129.50" width="9.55" height="1.60" fill="#a1c81f"/>
<rect x="289.75" y="130.75" width="9.55" height="1.60" fill="#d8c100"/>
<rect x="289.75" y="132.00" width="9.55" height="1.60" fill="#d5c100"/>
<rect x="289.75" y="133.25" width="9.55" height="1.60" fill="#00ce5d"/>
<rect x="289.75" y="134.50" width="9.55" height="1.60" fill="#47cd4e"/>
<rect x="289.75" y="135.75" width="9.55" height="1.60" fill="#f4bd03"/>
<rect x="289.75" y="137.00" width="9.55" height="1.60" fill="#dcc000"/>
<rect x="289.75" y="138.25" width="9.55" height="1.60" fill="#c8c300"/>
<rect x="289.75" y="139.50" width="9.55" height="1.60" fill="#bdc501"/>
<rect x="289.75" y="140.75" width="9.55" height="1.60" fill="#e5bf00"/>
<rect x="289.75" y="142.00" width="9.55" height="1.60" fill="#c6c300"/>
<rect x="289.75" y="143.25" width="9.55" height="1.60" fill="#afc612"/>
<rect x="289.75" y="144.50" width="9.55" height="1.60" fill="#d2c200"/>
<rect x="289.75" y="145.75" width="9.55" height="1.60" fill="#00cd7c"/>
<rect x="289.75" y="147.00" width="9.55" height="1.60" fill="#00cc84"/>
<rect x="289.75" y="148.25" width="9.55" height="1.60" fill="#d3c100"/>
<rect x="289.75" y="149.50" width="9.55" height="1.60" fill="#e2bf00"/>
<rect x="289.75" y="150.75" width="9.55" height="1.60" fill="#d2c200"/>
<rect x="289.75" y="152.00" width="9.55" height="1.60" fill="#e6bf00"/>
<rect x="289.75" y="153.25" width="9.55" height="1.60" fill="#e6bf00"/>
<rect x="289.75" y="154.50" width="9.55" height="1.60" fill="#f2bd00"/>
<rect x="289.75" y="155.75" width="9.55" height="1.60" fill="#7bcb38"/>
<rect x="289.75" y="157.00" width="9.55" height="1.60" fill="#00c2b1"/>
<rect x="289.75" y="158.25" width="9.55" height="1.60" fill="#55cd4a"/>
<rect x="289.75" y="159.50" width="9.55" height="1.60" fill="#55cd4a"/>
<rect x="289.75" y="160.75" width="9.55" height="1.60" fill="#e6bf00"/>
<rect x="289.75" y="162.00" width="9.55" height="1.60" fill="#b2c60f"/>
<rect x="289.75" y="163.25" width="9.55" height="1.60" fill="#d6c100"/>
<rect x="289.75" y="164.50" width="9.55" height="1.60" fill="#e3bf00"/>
<rect x="289.75" y="165.75" width="9.55" height="1.60" fill="#00bcc4"/>
<rect x="289.75" y="167.00" width="9.55" height="1.60" fill="#e8be00"/>
<rect x="289.75" y="168.25" width="9.55" height="1.60" fill="#46cd4f"/>
<rect x="289.75" y="169.50" width="9.55" height="1.60" fill="#ffbb23"/>
<rect x="289.75" y="170.75" width="9.55" height="1.60" fill="#b6c60a"/>
<rect x="289.75" y="172.00" width="9.55" height="1.60" fill="#d8c100"/>
<rect x="289.75" y="173.25" width="9.55" height="1.60" fill="#dbc000"/>
<rect x="289.75" y="174.50" width="9.55" height="1.60" fill="#b3c60e"/>
<rect x="289.75" y="175.75" width="9.55" height="1.60" fill="#34cd54"/>
<rect x="289.75" y="177.00" width="9.55" height="1.60" fill="#8bca2e"/>
<rect x="289.75" y="178.25" width="9.55" height="1.60" fill="#d7c100"/>
<rect x="289.75" y="179.50" width="9.55" height="1.60" fill="#00c5a6"/>
<rect x="289.75" y="180.75" width="9.55" height="1.60" fill="#00c4ac"/>
<rect x="289.75" y="182.00" width="9.55" height="1.60" fill="#7dcb37"/>
<rect x="289.75" y="183.25" width="9.55" height="1.60" fill="#82cb34"/>
<rect x="289.75" y="184.50" width="9.55" height="1.60" fill="#febc18"/>
<rect x="289.75" y="185.75" width="9.55" height="1.60" fill="#aac717"/>
<rect x="289.75" y="187.00" width="9.55" height="1.60" fill="#00c1b4"/>
<rect x="289.75" y="188.25" width="9.55" height="1.60" fill="#c1c400"/>
<rect x="289.75" y="189.50" width="9.55" height="1.60" fill="#00ce62"/>
<rect x="289.75" y="190.75" width="9.55" height="1.60" fill="#cac300"/>
<rect x="289.75" y="192.00" width="9.55" height="1.60" fill="#00cd77"/>
<rect x="289.75" y="193.25" width="9.55" height="1.60" fill="#e1bf00"/>
<rect x="289.75" y="194.50" width="9.55" height="1.60" fill="#fbbc13"/>
<rect x="289.75" y="195.75" width="9.55" height="1.60" fill="#fbbc12"/>
<rect x="289.75" y="197.00" width="9.55" height="1.60" fill="#00b1db"/>
<rect x="289.75" y="198.25" width="9.55" height="1.60" fill="#f9bc0f"/>
<rect x="289.75" y="199.50" width="9.55" height="1.60" fill="#00c2b1"/>
<rect x="289.75" y="200.75" width="9.55" height="1.60" fill="#efbd00"/>
<rect x="289.75" y="202.00" width="9.55" height="1.60" fill="#d9c100"/>
<rect x="289.75" y="203.25" width="9.55" height="1.60" fill="#ddc000"/>
<rect x="289.75" y="204.50" width="9.55" height="1.60" fill="#f0bd00"/>
<rect x="289.75" y="205.75" width="9.55" height="1.60" fill="#dbc000"/>
<rect x="289.75" y="207.00" width="9.55" height="1.60" fill="#ddc000"/>
<rect x="289.75" y="208.25" width="9.55" height="1.60" fill="#e8be00"/>
<rect x="289.75" y="209.50" width="9.55" height="1.60" fill="#00ce65"/>
<rect x="289.75" y="210.75" width="9.55" height="1.60" fill="#dbc000"/>
<rect x="289.75" y="212.00" width="9.55" height="1.60" fill="#ebbe00"/>
<rect x="289.75" y="213.25" width="9.55" height="1.60" fill="#0099ee"/>
<rect x="289.75" y="214.50" width="9.55" height="1.60" fill="#00a2e8"/>
<rect x="289.75" y="215.75" width="9.55" height="1.60" fill="#00ce70"/>
<rect x="289.75" y="217.00" width="9.55" height="1.60" fill="#00ce60"/>
<rect x="289.75" y="218.25" width="9.55" height="1.60" fill="#81cb34"/>
<rect x="289.75" y="219.50" width="9.55" height="1.60" fill="#f8bc0c"/>
<rect x="289.75" y="220.75" width="9.55" height="1.60" fill="#00c1b5"/>
<rect x="289.75" y="222.00" width="9.55" height="1.60" fill="#00bfbd"/>
<rect x="289.75" y="223.25" width="9.55" height="1.60" fill="#cbc300"/>
<rect x="289.75" y="224.50" width="9.55" height="1.60" fill="#bec500"/>
<rect x="289.75" y="225.75" width="9.55" height="1.60" fill="#ecbe00"/>
<rect x="289.75" y="227.00" width="9.55" height="1.60" fill="#bec400"/>
<rect x="289.75" y="228.25" width="9.55" height="1.60" fill="#d0c200"/>
<rect x="289.75" y="229.50" width="9.55" height="1.60" fill="#00ce67"/>
<rect x="289.75" y="230.75" width="9.55" height="1.60" fill="#93c929"/>
<rect x="289.75" y="232.00" width="9.55" height="1.60" fill="#93c929"/>
<rect x="289.75" y="233.25" width="9.55" height="1.60" fill="#7ecb36"/>
<rect x="289.75" y="234.50" width="9.55" height="1.60" fill="#c3c400"/>
<rect x="289.75" y="235.75" width="9.55" height="1.60" fill="#c2c400"/>
<rect x="289.75" y="237.00" width="9.55" height="1.60" fill="#e3bf00"/>
<rect x="289.75" y="238.25" width="9.55" height="1.60" fill="#00ce64"/>
<rect x="289.75" y="239.50" width="9.55" height="1.60" fill="#60cc45"/>
<rect x="289.75" y="240.75" width="9.55" height="1.60" fill="#ffbb1f"/>
<rect x="289.75" y="242.00" width="9.55" height="1.60" fill="#fbbc13"/>
<rect x="289.75" y="243.25" width="9.55" height="1.60" fill="#fcbc14"/>
<rect x="289.75" y="244.50" width="9.55" height="1.60" fill="#a6c71b"/>
<rect x="289.75" y="245.75" width="9.55" height="1.60" fill="#b1c610"/>
<rect x="289.75" y="247.00" width="9.55" height="1.60" fill="#ffbb1d"/>
<rect x="289.75" y="248.25" width="9.55" height="1.60" fill="#00ca92"/>
<rect x="289.75" y="249.50" width="9.55" height="1.60" fill="#00ca94"/>
<rect x="289.75" y="250.75" width="9.55" height="1.60" fill="#fdbc16"/>
<rect x="289.75" y="252.00" width="9.55" height="1.60" fill="#f1bd00"/>
<rect x="289.75" y="253.25" width="9.55" height="1.60" fill="#00c2b1"/>
<rect x="289.75" y="254.50" width="9.55" height="1.60" fill="#00c2b2"/>
<rect x="289.75" y="255.75" width="9.55" height="1.60" fill="#00cd79"/>
<rect x="289.75" y="257.00" width="9.55" height="1.60" fill="#0083fd"/>
<rect x="289.75" y="258.25" width="9.55" height="1.60" fill="#fdbc16"/>
<rect x="289.75" y="259.50" width="9.55" height="1.60" fill="#00bfbd"/>
<rect x="289.75" y="260.75" width="9.55" height="1.60" fill="#d5c100"/>
<rect x="289.75" y="262.00" width="9.55" height="1.60" fill="#c2c400"/>
<rect x="289.75" y="263.25" width="9.55" height="1.60" fill="#0095f1"/>
<rect x="289.75" y="264.50" width="9.55" height="1.60" fill="#f1bd00"/>
<rect x="289.75" y="265.75" width="9.55" height="1.60" fill="#f5bc04"/>
<rect x="289.75" y="267.00" width="9.55" height="1.60" fill="#ffbb1c"/>
<rect x="289.75" y="268.25" width="9.55" height="1.60" fill="#d9c100"/>
<rect x="289.75" y="269.50" width="9.55" height="1.60" fill="#cfc200"/>
<rect x="289.75" y="270.75" width="9.55" height="1.60" fill="#00afdd"/>
<rect x="289.75" y="272.00" width="9.55" height="1.60" fill="#ffbb1a"/>
<rect x="289.75" y="273.25" width="9.55" height="1.60" fill="#ccc300"/>
<rect x="289.75" y="274.50" width="9.55" height="1.60" fill="#e0c000"/>
<rect x="289.75" y="275.75" width="9.55" height="1.60" fill="#e4bf00"/>
<rect x="289.75" y="277.00" width="9.55" height="1.60" fill="#00cc83"/>
<rect x="289.75" y="278.25" width="9.55" height="1.60" fill="#00cd75"/>
<rect x="289.75" y="279.50" width="9.55" height="1.60" fill="#ffbb1f"/>
<rect x="289.75" y="280.75" width="9.55" height="1.60" fill="#ffbb28"/>
<rect x="289.75" y="282.00" width="9.55" height="1.60" fill="#b1c611"/>
<rect x="289.75" y="283.25" width="9.55" height="1.60" fill="#b6c60a"/>
<rect x="289.75" y="284.50" width="9.55" height="1.60" fill="#00ce63"/>
<rect x="289.75" y="285.75" width="9.55" height="1.60" fill="#00ce6d"/>
<rect x="289.75" y="287.00" width="9.55" height="1.60" fill="#00bdc3"/>
<rect x="289.75" y="288.25" width="9.55" height="1.10" fill="#00ce5b"/>
<rect x="289.75" y="123.10" width="9.55" height="1.65" fill="#0099ee"/>
<rect x="289.75" y="121.50" width="9.55" height="1.85" fill="#0076ff"/>
<rect x="289.75" y="120.10" width="9.55" height="1.65" fill="#0074ff"/>
<rect x="289.75" y="118.50" width="9.55" height="1.85" fill="#375eff"/>
<rect x="289.75" y="117.10" width="9.55" height="1.65" fill="#3360ff"/>
<rect x="289.75" y="115.50" width="9.55" height="1.85" fill="#4833d9"/>
<rect x="289.75" y="114.10" width="9.55" height="1.65" fill="#434df6"/>
<rect x="289.75" y="112.50" width="9.55" height="1.85" fill="#472ecd"/>
<rect x="289.75" y="111.10" width="9.55" height="1.65" fill="#4838e2"/>
<rect x="289.75" y="109.50" width="9.55" height="1.85" fill="#462bc6"/>
<rect x="289.75" y="108.10" width="9.55" height="1.65" fill="#4834da"/>
<rect x="289.75" y="106.50" width="9.55" height="1.85" fill="#4526bb"/>
<rect x="289.75" y="105.10" width="9.55" height="1.65" fill="#472cc9"/>
<rect x="289.75" y="103.50" width="9.55" height="1.85" fill="#4526ba"/>
<rect x="289.75" y="102.10" width="9.55" height="1.65" fill="#4629c1"/>
<rect x="289.75" y="99.10" width="9.55" height="1.65" fill="#4527bc"/>
<rect x="289.75" y="96.10" width="9.55" height="1.65" fill="#4526b9"/>
<rect x="289.75" y="289.00" width="9.55" height="1.85" fill="#385cfe"/>
<rect x="289.75" y="290.60" width="9.55" height="1.65" fill="#4839e3"/>
<rect x="289.75" y="292.00" width="9.55" height="1.85" fill="#4629c1"/>
<rect x="299.00" y="123.50" width="9.05" height="1.60" fill="#00cb8e"/>
<rect x="299.00" y="124.75" width="9.05" height="1.60" fill="#edbe00"/>
<rect x="299.00" y="126.00" width="9.05" height="1.60" fill="#b3c60e"/>
<rect x="299.00" y="127.25" width="9.05" height="1.60" fill="#a4c81c"/>
<rect x="299.00" y="128.50" width="9.05" height="1.60" fill="#fbbc13"/>
<rect x="299.00" y="129.75" width="9.05" height="1.60" fill="#00ce61"/>
<rect x="299.00" y="131.00" width="9.05" height="1.60" fill="#f6bc05"/>
<rect x="299.00" y="132.25" width="9.05" height="1.60" fill="#ffbb27"/>
<rect x="299.00" y="133.50" width="9.05" height="1.60" fill="#ecbe00"/>
<rect x="299.00" y="134.75" width="9.05" height="1.60" fill="#acc715"/>
<rect x="299.00" y="136.00" width="9.05" height="1.60" fill="#37cd53"/>
<rect x="299.00" y="137.25" width="9.05" height="1.60" fill="#00ce63"/>
<rect x="299.00" y="138.50" width="9.05" height="1.60" fill="#fcbc14"/>
<rect x="299.00" y="139.75" width="9.05" height="1.60" fill="#f2bd00"/>
<rect x="299.00" y="141.00" width="9.05" height="1.60" fill="#dac000"/>
<rect x="299.00" y="142.25" width="9.05" height="1.60" fill="#e9be00"/>
<rect x="299.00" y="143.50" width="9.05" height="1.60" fill="#ffbc19"/>
<rect x="299.00" y="144.75" width="9.05" height="1.60" fill="#00ce5b"/>
<rect x="299.00" y="146.00" width="9.05" height="1.60" fill="#f3bd01"/>
<rect x="299.00" y="147.25" width="9.05" height="1.60" fill="#e0bf00"/>
<rect x="299.00" y="148.50" width="9.05" height="1.60" fill="#7bcb38"/>
<rect x="299.00" y="149.75" width="9.05" height="1.60" fill="#7fcb35"/>
<rect x="299.00" y="151.00" width="9.05" height="1.60" fill="#ffbb24"/>
<rect x="299.00" y="152.25" width="9.05" height="1.60" fill="#ffbb26"/>
<rect x="299.00" y="153.50" width="9.05" height="1.60" fill="#e0bf00"/>
<rect x="299.00" y="154.75" width="9.05" height="1.60" fill="#fcbc15"/>
<rect x="299.00" y="156.00" width="9.05" height="1.60" fill="#39cd52"/>
<rect x="299.00" y="157.25" width="9.05" height="1.60" fill="#60cc45"/>
<rect x="299.00" y="158.50" width="9.05" height="1.60" fill="#00ce65"/>
<rect x="299.00" y="159.75" width="9.05" height="1.60" fill="#00ce5e"/>
<rect x="299.00" y="161.00" width="9.05" height="1.60" fill="#4acd4e"/>
<rect x="299.00" y="162.25" width="9.05" height="1.60" fill="#00ce65"/>
<rect x="299.00" y="163.50" width="9.05" height="1.60" fill="#bcc501"/>
<rect x="299.00" y="164.75" width="9.05" height="1.60" fill="#f0bd00"/>
<rect x="299.00" y="166.00" width="9.05" height="1.60" fill="#e1bf00"/>
<rect x="299.00" y="167.25" width="9.05" height="1.60" fill="#82cb34"/>
<rect x="299.00" y="168.50" width="9.05" height="1.60" fill="#00bdc1"/>
<rect x="299.00" y="169.75" width="9.05" height="1.60" fill="#dcc000"/>
<rect x="299.00" y="171.00" width="9.05" height="1.60" fill="#3bcd52"/>
<rect x="299.00" y="172.25" width="9.05" height="1.60" fill="#53cd4b"/>
<rect x="299.00" y="173.50" width="9.05" height="1.60" fill="#fdbc15"/>
<rect x="299.00" y="174.75" width="9.05" height="1.60" fill="#febc18"/>
<rect x="299.00" y="176.00" width="9.05" height="1.60" fill="#f8bc0d"/>
<rect x="299.00" y="177.25" width="9.05" height="1.60" fill="#f5bc05"/>
<rect x="299.00" y="178.50" width="9.05" height="1.60" fill="#eebd00"/>
<rect x="299.00" y="179.75" width="9.05" height="1.60" fill="#ecbe00"/>
<rect x="299.00" y="181.00" width="9.05" height="1.60" fill="#fcbc15"/>
<rect x="299.00" y="182.25" width="9.05" height="1.60" fill="#8cca2e"/>
<rect x="299.00" y="183.50" width="9.05" height="1.60" fill="#ffbb20"/>
<rect x="299.00" y="184.75" width="9.05" height="1.60" fill="#ffbb1c"/>
<rect x="299.00" y="186.00" width="9.05" height="1.60" fill="#afc612"/>
<rect x="299.00" y="187.25" width="9.05" height="1.60" fill="#95c927"/>
<rect x="299.00" y="188.50" width="9.05" height="1.60" fill="#dcc000"/>
<rect x="299.00" y="189.75" width="9.05" height="1.60" fill="#aac717"/>
<rect x="299.00" y="191.00" width="9.05" height="1.60" fill="#00cd7f"/>
<rect x="299.00" y="192.25" width="9.05" height="1.60" fill="#aec613"/>
<rect x="299.00" y="193.50" width="9.05" height="1.60" fill="#e5bf00"/>
<rect x="299.00" y="194.75" width="9.05" height="1.60" fill="#ffbb27"/>
<rect x="299.00" y="196.00" width="9.05" height="1.60" fill="#00bdc1"/>
<rect x="299.00" y="197.25" width="9.05" height="1.60" fill="#edbe00"/>
<rect x="299.00" y="198.50" width="9.05" height="1.60" fill="#edbe00"/>
<rect x="299.00" y="199.75" width="9.05" height="1.60" fill="#9fc820"/>
<rect x="299.00" y="201.00" width="9.05" height="1.60" fill="#00cd80"/>
<rect x="299.00" y="202.25" width="9.05" height="1.60" fill="#00cd7f"/>
<rect x="299.00" y="203.50" width="9.05" height="1.60" fill="#a2c81e"/>
<rect x="299.00" y="204.75" width="9.05" height="1.60" fill="#f6bc06"/>
<rect x="299.00" y="206.00" width="9.05" height="1.60" fill="#00ce70"/>
<rect x="299.00" y="207.25" width="9.05" height="1.60" fill="#00ce67"/>
<rect x="299.00" y="208.50" width="9.05" height="1.60" fill="#83ca33"/>
<rect x="299.00" y="209.75" width="9.05" height="1.60" fill="#9bc823"/>
<rect x="299.00" y="211.00" width="9.05" height="1.60" fill="#ffbb29"/>
<rect x="299.00" y="212.25" width="9.05" height="1.60" fill="#81cb34"/>
<rect x="299.00" y="213.50" width="9.05" height="1.60" fill="#8bca2e"/>
<rect x="299.00" y="214.75" width="9.05" height="1.60" fill="#00c79e"/>
<rect x="299.00" y="216.00" width="9.05" height="1.60" fill="#28ce56"/>
<rect x="299.00" y="217.25" width="9.05" height="1.60" fill="#c4c400"/>
<rect x="299.00" y="218.50" width="9.05" height="1.60" fill="#8eca2c"/>
<rect x="299.00" y="219.75" width="9.05" height="1.60" fill="#ffbb23"/>
<rect x="299.00" y="221.00" width="9.05" height="1.60" fill="#ffbc2a"/>
<rect x="299.00" y="222.25" width="9.05" height="1.60" fill="#ffbb1a"/>
<rect x="299.00" y="223.50" width="9.05" height="1.60" fill="#ffbb27"/>
<rect x="299.00" y="224.75" width="9.05" height="1.60" fill="#ffbb22"/>
<rect x="299.00" y="226.00" width="9.05" height="1.60" fill="#a6c71a"/>
<rect x="299.00" y="227.25" width="9.05" height="1.60" fill="#00bdc1"/>
<rect x="299.00" y="228.50" width="9.05" height="1.60" fill="#e0c000"/>
<rect x="299.00" y="229.75" width="9.05" height="1.60" fill="#e0bf00"/>
<rect x="299.00" y="231.00" width="9.05" height="1.60" fill="#dbc000"/>
<rect x="299.00" y="232.25" width="9.05" height="1.60" fill="#ffbb24"/>
<rect x="299.00" y="233.50" width="9.05" height="1.60" fill="#ffbc29"/>
<rect x="299.00" y="234.75" width="9.05" height="1.60" fill="#ffbb21"/>
<rect x="299.00" y="236.00" width="9.05" height="1.60" fill="#a6c71b"/>
<rect x="299.00" y="237.25" width="9.05" height="1.60" fill="#f6bc06"/>
<rect x="299.00" y="238.50" width="9.05" height="1.60" fill="#00bcc6"/>
<rect x="299.00" y="239.75" width="9.05" height="1.60" fill="#00bcc5"/>
<rect x="299.00" y="241.00" width="9.05" height="1.60" fill="#7fcb36"/>
<rect x="299.00" y="242.25" width="9.05" height="1.60" fill="#ffbb26"/>
<rect x="299.00" y="243.50" width="9.05" height="1.60" fill="#eabe00"/>
<rect x="299.00" y="244.75" width="9.05" height="1.60" fill="#fdbc16"/>
<rect x="299.00" y="246.00" width="9.05" height="1.60" fill="#99c925"/>
<rect x="299.00" y="247.25" width="9.05" height="1.60" fill="#ffbb1a"/>
<rect x="299.00" y="248.50" width="9.05" height="1.60" fill="#dcc000"/>
<rect x="299.00" y="249.75" width="9.05" height="1.60" fill="#cec200"/>
<rect x="299.00" y="251.00" width="9.05" height="1.60" fill="#fcbc15"/>
<rect x="299.00" y="252.25" width="9.05" height="1.60" fill="#00cd76"/>
<rect x="299.00" y="253.50" width="9.05" height="1.60" fill="#e0bf00"/>
<rect x="299.00" y="254.75" width="9.05" height="1.60" fill="#e7be00"/>
<rect x="299.00" y="256.00" width="9.05" height="1.60" fill="#a5c71b"/>
<rect x="299.00" y="257.25" width="9.05" height="1.60" fill="#a6c71a"/>
<rect x="299.00" y="258.50" width="9.05" height="1.60" fill="#9fc820"/>
<rect x="299.00" y="259.75" width="9.05" height="1.60" fill="#fbbc13"/>
<rect x="299.00" y="261.00" width="9.05" height="1.60" fill="#ffbb20"/>
<rect x="299.00" y="262.25" width="9.05" height="1.60" fill="#edbd00"/>
<rect x="299.00" y="263.50" width="9.05" height="1.60" fill="#e4bf00"/>
<rect x="299.00" y="264.75" width="9.05" height="1.60" fill="#ebbe00"/>
<rect x="299.00" y="266.00" width="9.05" height="1.60" fill="#00ca94"/>
<rect x="299.00" y="267.25" width="9.05" height="1.60" fill="#4acd4e"/>
<rect x="299.00" y="268.50" width="9.05" height="1.60" fill="#00ce5a"/>
<rect x="299.00" y="269.75" width="9.05" height="1.60" fill="#00ce5d"/>
<rect x="299.00" y="271.00" width="9.05" height="1.60" fill="#f0bd00"/>
<rect x="299.00" y="272.25" width="9.05" height="1.60" fill="#f2bd00"/>
<rect x="299.00" y="273.50" width="9.05" height="1.60" fill="#ffbb23"/>
<rect x="299.00" y="274.75" width="9.05" height="1.60" fill="#00ce72"/>
<rect x="299.00" y="276.00" width="9.05" height="1.60" fill="#ffbb21"/>
<rect x="299.00" y="277.25" width="9.05" height="1.60" fill="#b0c611"/>
<rect x="299.00" y="278.50" width="9.05" height="1.60" fill="#f4bd03"/>
<rect x="299.00" y="279.75" width="9.05" height="1.60" fill="#90c92b"/>
<rect x="299.00" y="281.00" width="9.05" height="1.60" fill="#ffbb1f"/>
<rect x="299.00" y="282.25" width="9.05" height="1.60" fill="#7ecb36"/>
<rect x="299.00" y="283.50" width="9.05" height="1.60" fill="#8cca2e"/>
<rect x="299.00" y="284.75" width="9.05" height="1.60" fill="#f3bd02"/>
<rect x="299.00" y="286.00" width="9.05" height="1.60" fill="#f7bc0a"/>
<rect x="299.00" y="287.25" width="9.05" height="1.60" fill="#00ce6b"/>
<rect x="299.00" y="288.50" width="9.05" height="0.85" fill="#00baca"/>
<rect x="299.00" y="121.90" width="9.05" height="1.85" fill="#0093f2"/>
<rect x="299.00" y="120.50" width="9.05" height="1.65" fill="#0081fe"/>
<rect x="299.00" y="118.90" width="9.05" height="1.85" fill="#2b65ff"/>
<rect x="299.00" y="117.50" width="9.05" height="1.65" fill="#2369ff"/>
<rect x="299.00" y="115.90" width="9.05" height="1.85" fill="#4833d9"/>
<rect x="299.00" y="114.50" width="9.05" height="1.65" fill="#3f54fa"/>
<rect x="299.00" y="112.90" width="9.05" height="1.85" fill="#4830d3"/>
<rect x="299.00" y="111.50" width="9.05" height="1.65" fill="#483de7"/>
<rect x="299.00" y="109.90" width="9.05" height="1.85" fill="#462ac3"/>
<rect x="299.00" y="108.50" width="9.05" height="1.65" fill="#4834db"/>
<rect x="299.00" y="106.90" width="9.05" height="1.85" fill="#4526bb"/>
<rect x="299.00" y="105.50" width="9.05" height="1.65" fill="#472ecd"/>
<rect x="299.00" y="102.50" width="9.05" height="1.65" fill="#4629c1"/>
<rect x="299.00" y="99.50" width="9.05" height="1.65" fill="#4525b9"/>
<rect x="299.00" y="289.00" width="9.05" height="1.85" fill="#196cff"/>
<rect x="299.00" y="290.60" width="9.05" height="1.65" fill="#2f63ff"/>
<rect x="299.00" y="292.00" width="9.05" height="1.85" fill="#483ae4"/>
<rect x="299.00" y="293.60" width="9.05" height="1.65" fill="#4834da"/>
<rect x="299.00" y="295.00" width="9.05" height="1.85" fill="#4526ba"/>
<rect x="299.00" y="296.60" width="9.05" height="1.65" fill="#4526bb"/>
</g></g>
<rect x="50.9" y="26.1" width="413.8" height="357.5" fill="none" stroke="#262626" stroke-width="0.7"/>
<path d="M119.87 383.6v-4M119.87 26.1v4" stroke="#262626" stroke-width="0.7"/>
<path d="M188.83 383.6v-4M188.83 26.1v4" stroke="#262626" stroke-width="0.7"/>
<path d="M257.80 383.6v-4M257.80 26.1v4" stroke="#262626" stroke-width="0.7"/>
<path d="M326.77 383.6v-4M326.77 26.1v4" stroke="#262626" stroke-width="0.7"/>
<path d="M395.73 383.6v-4M395.73 26.1v4" stroke="#262626" stroke-width="0.7"/>
<path d="M50.9 70.79h4M464.7 70.79h-4" stroke="#262626" stroke-width="0.7"/>
<path d="M50.9 115.47h4M464.7 115.47h-4" stroke="#262626" stroke-width="0.7"/>
<path d="M50.9 160.16h4M464.7 160.16h-4" stroke="#262626" stroke-width="0.7"/>
<path d="M50.9 204.85h4M464.7 204.85h-4" stroke="#262626" stroke-width="0.7"/>
<path d="M50.9 249.54h4M464.7 249.54h-4" stroke="#262626" stroke-width="0.7"/>
<path d="M50.9 294.23h4M464.7 294.23h-4" stroke="#262626" stroke-width="0.7"/>
<path d="M50.9 338.91h4M464.7 338.91h-4" stroke="#262626" stroke-width="0.7"/>
<rect x="479.5" y="26.1" width="20.0" height="357.5" fill="url(#pg)" stroke="#262626" stroke-width="0.7"/>
<path d="M499.5 42.00h-3" stroke="#262626" stroke-width="0.8"/>
<path d="M499.5 90.75h-3" stroke="#262626" stroke-width="0.8"/>
<path d="M499.5 139.50h-3" stroke="#262626" stroke-width="0.8"/>
<path d="M499.5 188.25h-3" stroke="#262626" stroke-width="0.8"/>
<path d="M499.5 237.00h-3" stroke="#262626" stroke-width="0.8"/>
<path d="M499.5 285.75h-3" stroke="#262626" stroke-width="0.8"/>
<path d="M499.5 334.50h-3" stroke="#262626" stroke-width="0.8"/>
<rect x="50.9" y="500.0" width="413.8" height="340.5" fill="#4321ad"/>
<g clip-path="url(#c2)"><g filter="url(#bl)">
<rect x="60.80" y="648.66" width="4.00" height="2.20" fill="#94c928"/>
<rect x="60.80" y="650.56" width="4.00" height="2.20" fill="#62cc45"/>
<rect x="60.80" y="652.46" width="4.00" height="2.20" fill="#00bebf"/>
<rect x="60.80" y="654.36" width="4.00" height="2.20" fill="#00ce5e"/>
<rect x="60.80" y="656.26" width="4.00" height="2.20" fill="#34cd54"/>
<rect x="60.80" y="658.16" width="4.00" height="2.20" fill="#e7be00"/>
<rect x="60.80" y="660.06" width="4.00" height="2.20" fill="#00ce60"/>
<rect x="60.80" y="661.96" width="4.00" height="2.20" fill="#fcbc15"/>
<rect x="60.80" y="663.86" width="4.00" height="2.20" fill="#ffc61c"/>
<rect x="60.80" y="665.76" width="4.00" height="2.20" fill="#d7c100"/>
<rect x="60.80" y="667.66" width="4.00" height="2.20" fill="#00cb8b"/>
<rect x="60.80" y="669.56" width="4.00" height="2.20" fill="#00cc82"/>
<rect x="60.80" y="671.46" width="4.00" height="2.20" fill="#ffd700"/>
<rect x="60.80" y="673.36" width="4.00" height="2.20" fill="#a1c81e"/>
<rect x="60.80" y="675.26" width="4.00" height="2.20" fill="#acc715"/>
<rect x="60.80" y="677.16" width="4.00" height="2.20" fill="#00c1b5"/>
<rect x="60.80" y="679.06" width="4.00" height="2.20" fill="#eabe00"/>
<rect x="60.80" y="680.96" width="4.00" height="2.20" fill="#f5bc04"/>
<rect x="60.80" y="682.86" width="4.00" height="2.20" fill="#ffd600"/>
<rect x="60.80" y="684.76" width="4.00" height="2.20" fill="#00c5a6"/>
<rect x="60.80" y="686.66" width="4.00" height="2.20" fill="#e5bf00"/>
<rect x="60.80" y="688.56" width="4.00" height="2.20" fill="#ffc818"/>
<rect x="60.80" y="690.46" width="4.00" height="1.61" fill="#fdbc16"/>
<rect x="64.30" y="629.88" width="3.10" height="2.20" fill="#00bbc7"/>
<rect x="64.30" y="631.78" width="3.10" height="2.20" fill="#36cd53"/>
<rect x="64.30" y="633.68" width="3.10" height="2.20" fill="#c3c400"/>
<rect x="64.30" y="635.58" width="3.10" height="2.20" fill="#e4bf00"/>
<rect x="64.30" y="637.48" width="3.10" height="2.20" fill="#b9c505"/>
<rect x="64.30" y="639.38" width="3.10" height="2.20" fill="#97c926"/>
<rect x="64.30" y="641.28" width="3.10" height="2.20" fill="#00bfbc"/>
<rect x="64.30" y="643.18" width="3.10" height="2.20" fill="#90c92b"/>
<rect x="64.30" y="645.08" width="3.10" height="2.20" fill="#b8c507"/>
<rect x="64.30" y="646.98" width="3.10" height="2.20" fill="#b5c60b"/>
<rect x="64.30" y="648.88" width="3.10" height="2.20" fill="#d2c200"/>
<rect x="64.30" y="650.78" width="3.10" height="2.20" fill="#00bdc1"/>
<rect x="64.30" y="652.68" width="3.10" height="2.20" fill="#ffbb1b"/>
<rect x="64.30" y="654.58" width="3.10" height="2.20" fill="#ffc71a"/>
<rect x="64.30" y="656.48" width="3.10" height="2.20" fill="#ffc915"/>
<rect x="64.30" y="658.38" width="3.10" height="2.20" fill="#00ce6b"/>
<rect x="64.30" y="660.28" width="3.10" height="2.20" fill="#ffcc0e"/>
<rect x="64.30" y="662.18" width="3.10" height="2.20" fill="#dbc000"/>
<rect x="64.30" y="664.08" width="3.10" height="2.20" fill="#febc17"/>
<rect x="64.30" y="665.98" width="3.10" height="2.20" fill="#dfc000"/>
<rect x="64.30" y="667.88" width="3.10" height="2.20" fill="#86ca31"/>
<rect x="64.30" y="669.78" width="3.10" height="2.20" fill="#f3bd02"/>
<rect x="64.30" y="671.68" width="3.10" height="2.20" fill="#ffd200"/>
<rect x="64.30" y="673.58" width="3.10" height="2.20" fill="#f7bc0a"/>
<rect x="64.30" y="675.48" width="3.10" height="2.20" fill="#c6c300"/>
<rect x="64.30" y="677.38" width="3.10" height="2.20" fill="#8dca2d"/>
<rect x="64.30" y="679.28" width="3.10" height="2.20" fill="#ffd600"/>
<rect x="64.30" y="681.18" width="3.10" height="2.20" fill="#00cb8d"/>
<rect x="64.30" y="683.08" width="3.10" height="2.20" fill="#e1bf00"/>
<rect x="64.30" y="684.98" width="3.10" height="2.20" fill="#fcbc15"/>
<rect x="64.30" y="686.88" width="3.10" height="2.20" fill="#f7bc0a"/>
<rect x="64.30" y="688.78" width="3.10" height="2.20" fill="#95c927"/>
<rect x="64.30" y="690.68" width="3.10" height="2.20" fill="#9ec821"/>
<rect x="64.30" y="692.58" width="3.10" height="2.20" fill="#aac717"/>
<rect x="64.30" y="694.48" width="3.10" height="2.20" fill="#00cc85"/>
<rect x="64.30" y="696.38" width="3.10" height="2.20" fill="#00bbc8"/>
<rect x="64.30" y="698.28" width="3.10" height="2.20" fill="#fbbc13"/>
<rect x="64.30" y="700.18" width="3.10" height="2.20" fill="#0095f0"/>
<rect x="64.30" y="702.08" width="3.10" height="2.20" fill="#00b8ce"/>
<rect x="64.30" y="703.98" width="3.10" height="2.20" fill="#00bcc6"/>
<rect x="64.30" y="705.88" width="3.10" height="2.20" fill="#ffd700"/>
<rect x="64.30" y="707.78" width="3.10" height="2.20" fill="#f8bc0b"/>
<rect x="64.30" y="709.68" width="3.10" height="0.49" fill="#ffc817"/>
<rect x="67.10" y="629.88" width="3.10" height="2.20" fill="#83ca33"/>
<rect x="67.10" y="631.78" width="3.10" height="2.20" fill="#9bc823"/>
<rect x="67.10" y="633.68" width="3.10" height="2.20" fill="#00ce6d"/>
<rect x="67.10" y="635.58" width="3.10" height="2.20" fill="#00abe2"/>
<rect x="67.10" y="637.48" width="3.10" height="2.20" fill="#febc18"/>
<rect x="67.10" y="639.38" width="3.10" height="2.20" fill="#00c2b2"/>
<rect x="67.10" y="641.28" width="3.10" height="2.20" fill="#8bca2e"/>
<rect x="67.10" y="643.18" width="3.10" height="2.20" fill="#dec000"/>
<rect x="67.10" y="645.08" width="3.10" height="2.20" fill="#f1bd00"/>
<rect x="67.10" y="646.98" width="3.10" height="2.20" fill="#f8bc0c"/>
<rect x="67.10" y="648.88" width="3.10" height="2.20" fill="#c1c400"/>
<rect x="67.10" y="650.78" width="3.10" height="2.20" fill="#ffd900"/>
<rect x="67.10" y="652.68" width="3.10" height="2.20" fill="#f2bd01"/>
<rect x="67.10" y="654.58" width="3.10" height="2.20" fill="#ffd600"/>
<rect x="67.10" y="656.48" width="3.10" height="2.20" fill="#f6bc07"/>
<rect x="67.10" y="658.38" width="3.10" height="2.20" fill="#89ca30"/>
<rect x="67.10" y="660.28" width="3.10" height="2.20" fill="#f8bc0b"/>
<rect x="67.10" y="662.18" width="3.10" height="2.20" fill="#ffd400"/>
<rect x="67.10" y="664.08" width="3.10" height="2.20" fill="#f6bc06"/>
<rect x="67.10" y="665.98" width="3.10" height="2.20" fill="#ebbe00"/>
<rect x="67.10" y="667.88" width="3.10" height="2.20" fill="#f7bc0a"/>
<rect x="67.10" y="669.78" width="3.10" height="2.20" fill="#ffd100"/>
<rect x="67.10" y="671.68" width="3.10" height="2.20" fill="#ffd300"/>
<rect x="67.10" y="673.58" width="3.10" height="2.20" fill="#ffca12"/>
<rect x="67.10" y="675.48" width="3.10" height="2.20" fill="#ffda00"/>
<rect x="67.10" y="677.38" width="3.10" height="2.20" fill="#fdbc16"/>
<rect x="67.10" y="679.28" width="3.10" height="2.20" fill="#94c928"/>
<rect x="67.10" y="681.18" width="3.10" height="2.20" fill="#d2c200"/>
<rect x="67.10" y="683.08" width="3.10" height="2.20" fill="#00c3ae"/>
<rect x="67.10" y="684.98" width="3.10" height="2.20" fill="#ffd200"/>
<rect x="67.10" y="686.88" width="3.10" height="2.20" fill="#f4bd03"/>
<rect x="67.10" y="688.78" width="3.10" height="2.20" fill="#febc18"/>
<rect x="67.10" y="690.68" width="3.10" height="2.20" fill="#82cb34"/>
<rect x="67.10" y="692.58" width="3.10" height="2.20" fill="#4ecd4c"/>
<rect x="67.10" y="694.48" width="3.10" height="2.20" fill="#f6bc06"/>
<rect x="67.10" y="696.38" width="3.10" height="2.20" fill="#00c79f"/>
<rect x="67.10" y="698.28" width="3.10" height="2.20" fill="#ffd900"/>
<rect x="67.10" y="700.18" width="3.10" height="2.20" fill="#fabc10"/>
<rect x="67.10" y="702.08" width="3.10" height="2.20" fill="#00ce70"/>
<rect x="67.10" y="703.98" width="3.10" height="2.20" fill="#00c6a4"/>
<rect x="67.10" y="705.88" width="3.10" height="2.20" fill="#00afde"/>
<rect x="67.10" y="707.78" width="3.10" height="2.20" fill="#bac504"/>
<rect x="67.10" y="709.68" width="3.10" height="0.49" fill="#00cd75"/>
<rect x="69.90" y="629.88" width="3.10" height="2.20" fill="#a9c718"/>
<rect x="69.90" y="631.78" width="3.10" height="2.20" fill="#e0bf00"/>
<rect x="69.90" y="633.68" width="3.10" height="2.20" fill="#00c7a1"/>
<rect x="69.90" y="635.58" width="3.10" height="2.20" fill="#00ce5d"/>
<rect x="69.90" y="637.48" width="3.10" height="2.20" fill="#aec713"/>
<rect x="69.90" y="639.38" width="3.10" height="2.20" fill="#00ca90"/>
<rect x="69.90" y="641.28" width="3.10" height="2.20" fill="#cac300"/>
<rect x="69.90" y="643.18" width="3.10" height="2.20" fill="#eabe00"/>
<rect x="69.90" y="645.08" width="3.10" height="2.20" fill="#ffcb0f"/>
<rect x="69.90" y="646.98" width="3.10" height="2.20" fill="#00b8cf"/>
<rect x="69.90" y="648.88" width="3.10" height="2.20" fill="#33cd54"/>
<rect x="69.90" y="650.78" width="3.10" height="2.20" fill="#00cd7f"/>
<rect x="69.90" y="652.68" width="3.10" height="2.20" fill="#00bfbd"/>
<rect x="69.90" y="654.58" width="3.10" height="2.20" fill="#ffbb1a"/>
<rect x="69.90" y="656.48" width="3.10" height="2.20" fill="#f4bc04"/>
<rect x="69.90" y="658.38" width="3.10" height="2.20" fill="#ffc61c"/>
<rect x="69.90" y="660.28" width="3.10" height="2.20" fill="#ffc818"/>
<rect x="69.90" y="662.18" width="3.10" height="2.20" fill="#00cd80"/>
<rect x="69.90" y="664.08" width="3.10" height="2.20" fill="#00c4ab"/>
<rect x="69.90" y="665.98" width="3.10" height="2.20" fill="#ffd600"/>
<rect x="69.90" y="667.88" width="3.10" height="2.20" fill="#edbe00"/>
<rect x="69.90" y="669.78" width="3.10" height="2.20" fill="#ffd900"/>
<rect x="69.90" y="671.68" width="3.10" height="2.20" fill="#00ce66"/>
<rect x="69.90" y="673.58" width="3.10" height="2.20" fill="#9bc923"/>
<rect x="69.90" y="675.48" width="3.10" height="2.20" fill="#ffcd0a"/>
<rect x="69.90" y="677.38" width="3.10" height="2.20" fill="#adc714"/>
<rect x="69.90" y="679.28" width="3.10" height="2.20" fill="#ffcb10"/>
<rect x="69.90" y="681.18" width="3.10" height="2.20" fill="#d2c200"/>
<rect x="69.90" y="683.08" width="3.10" height="2.20" fill="#ffd000"/>
<rect x="69.90" y="684.98" width="3.10" height="2.20" fill="#ffda00"/>
<rect x="69.90" y="686.88" width="3.10" height="2.20" fill="#ffd700"/>
<rect x="69.90" y="688.78" width="3.10" height="2.20" fill="#00cd7b"/>
<rect x="69.90" y="690.68" width="3.10" height="2.20" fill="#ffbb1d"/>
<rect x="69.90" y="692.58" width="3.10" height="2.20" fill="#00cd76"/>
<rect x="69.90" y="694.48" width="3.10" height="2.20" fill="#0090f4"/>
<rect x="69.90" y="696.38" width="3.10" height="2.20" fill="#00bec0"/>
<rect x="69.90" y="698.28" width="3.10" height="2.20" fill="#99c925"/>
<rect x="69.90" y="700.18" width="3.10" height="2.20" fill="#4dcd4d"/>
<rect x="69.90" y="702.08" width="3.10" height="2.20" fill="#00cc85"/>
<rect x="69.90" y="703.98" width="3.10" height="2.20" fill="#00a5e6"/>
<rect x="69.90" y="705.88" width="3.10" height="2.20" fill="#c2c400"/>
<rect x="69.90" y="707.78" width="3.10" height="2.20" fill="#ffd300"/>
<rect x="69.90" y="709.68" width="3.10" height="0.49" fill="#29ce56"/>
<rect x="72.70" y="629.88" width="3.10" height="2.20" fill="#00cb8d"/>
<rect x="72.70" y="631.78" width="3.10" height="2.20" fill="#94c928"/>
<rect x="72.70" y="633.68" width="3.10" height="2.20" fill="#00cd75"/>
<rect x="72.70" y="635.58" width="3.10" height="2.20" fill="#abc716"/>
<rect x="72.70" y="637.48" width="3.10" height="2.20" fill="#4fcd4c"/>
<rect x="72.70" y="639.38" width="3.10" height="2.20" fill="#e1bf00"/>
<rect x="72.70" y="641.28" width="3.10" height="2.20" fill="#d8c100"/>
<rect x="72.70" y="643.18" width="3.10" height="2.20" fill="#00c89c"/>
<rect x="72.70" y="645.08" width="3.10" height="2.20" fill="#ffce07"/>
<rect x="72.70" y="646.98" width="3.10" height="2.20" fill="#00c7a0"/>
<rect x="72.70" y="648.88" width="3.10" height="2.20" fill="#00c997"/>
<rect x="72.70" y="650.78" width="3.10" height="2.20" fill="#d5c100"/>
<rect x="72.70" y="652.68" width="3.10" height="2.20" fill="#ffd100"/>
<rect x="72.70" y="654.58" width="3.10" height="2.20" fill="#ffcb0f"/>
<rect x="72.70" y="656.48" width="3.10" height="2.20" fill="#f5bc04"/>
<rect x="72.70" y="658.38" width="3.10" height="2.20" fill="#ffc817"/>
<rect x="72.70" y="660.28" width="3.10" height="2.20" fill="#d7c100"/>
<rect x="72.70" y="662.18" width="3.10" height="2.20" fill="#ffc818"/>
<rect x="72.70" y="664.08" width="3.10" height="2.20" fill="#4dcd4d"/>
<rect x="72.70" y="665.98" width="3.10" height="2.20" fill="#ffd800"/>
<rect x="72.70" y="667.88" width="3.10" height="2.20" fill="#00ce60"/>
<rect x="72.70" y="669.78" width="3.10" height="2.20" fill="#fabc11"/>
<rect x="72.70" y="671.68" width="3.10" height="2.20" fill="#ffc71a"/>
<rect x="72.70" y="673.58" width="3.10" height="2.20" fill="#00bcc5"/>
<rect x="72.70" y="675.48" width="3.10" height="2.20" fill="#1cce58"/>
<rect x="72.70" y="677.38" width="3.10" height="2.20" fill="#ffc818"/>
<rect x="72.70" y="679.28" width="3.10" height="2.20" fill="#89ca2f"/>
<rect x="72.70" y="681.18" width="3.10" height="2.20" fill="#b5c60a"/>
<rect x="72.70" y="683.08" width="3.10" height="2.20" fill="#ffd100"/>
<rect x="72.70" y="684.98" width="3.10" height="2.20" fill="#ffda00"/>
<rect x="72.70" y="686.88" width="3.10" height="2.20" fill="#b7c508"/>
<rect x="72.70" y="688.78" width="3.10" height="2.20" fill="#81cb35"/>
<rect x="72.70" y="690.68" width="3.10" height="2.20" fill="#2acd55"/>
<rect x="72.70" y="692.58" width="3.10" height="2.20" fill="#afc612"/>
<rect x="72.70" y="694.48" width="3.10" height="2.20" fill="#bbc503"/>
<rect x="72.70" y="696.38" width="3.10" height="2.20" fill="#95c927"/>
<rect x="72.70" y="698.28" width="3.10" height="2.20" fill="#8fca2b"/>
<rect x="72.70" y="700.18" width="3.10" height="2.20" fill="#ffd200"/>
<rect x="72.70" y="702.08" width="3.10" height="2.20" fill="#00c4a9"/>
<rect x="72.70" y="703.98" width="3.10" height="2.20" fill="#ecbe00"/>
<rect x="72.70" y="705.88" width="3.10" height="2.20" fill="#00ce66"/>
<rect x="72.70" y="707.78" width="3.10" height="2.20" fill="#a9c718"/>
<rect x="72.70" y="709.68" width="3.10" height="0.49" fill="#4dcd4d"/>
<rect x="75.50" y="629.88" width="3.10" height="2.20" fill="#bec500"/>
<rect x="75.50" y="631.78" width="3.10" height="2.20" fill="#00cc89"/>
<rect x="75.50" y="633.68" width="3.10" height="2.20" fill="#e3bf00"/>
<rect x="75.50" y="635.58" width="3.10" height="2.20" fill="#a7c719"/>
<rect x="75.50" y="637.48" width="3.10" height="2.20" fill="#ffbb1d"/>
<rect x="75.50" y="639.38" width="3.10" height="2.20" fill="#00cd77"/>
<rect x="75.50" y="641.28" width="3.10" height="2.20" fill="#58cd49"/>
<rect x="75.50" y="643.18" width="3.10" height="2.20" fill="#f2bd00"/>
<rect x="75.50" y="645.08" width="3.10" height="2.20" fill="#00bfbd"/>
<rect x="75.50" y="646.98" width="3.10" height="2.20" fill="#00c6a4"/>
<rect x="75.50" y="648.88" width="3.10" height="2.20" fill="#dac000"/>
<rect x="75.50" y="650.78" width="3.10" height="2.20" fill="#00ce74"/>
<rect x="75.50" y="652.68" width="3.10" height="2.20" fill="#eabe00"/>
<rect x="75.50" y="654.58" width="3.10" height="2.20" fill="#c5c300"/>
<rect x="75.50" y="656.48" width="3.10" height="2.20" fill="#24ce57"/>
<rect x="75.50" y="658.38" width="3.10" height="2.20" fill="#ffce06"/>
<rect x="75.50" y="660.28" width="3.10" height="2.20" fill="#ffca12"/>
<rect x="75.50" y="662.18" width="3.10" height="2.20" fill="#dcc000"/>
<rect x="75.50" y="664.08" width="3.10" height="2.20" fill="#d9c100"/>
<rect x="75.50" y="665.98" width="3.10" height="2.20" fill="#a1c81e"/>
<rect x="75.50" y="667.88" width="3.10" height="2.20" fill="#ffd500"/>
<rect x="75.50" y="669.78" width="3.10" height="2.20" fill="#d3c100"/>
<rect x="75.50" y="671.68" width="3.10" height="2.20" fill="#1cce58"/>
<rect x="75.50" y="673.58" width="3.10" height="2.20" fill="#00cd7d"/>
<rect x="75.50" y="675.48" width="3.10" height="2.20" fill="#ffd600"/>
<rect x="75.50" y="677.38" width="3.10" height="2.20" fill="#ffdc00"/>
<rect x="75.50" y="679.28" width="3.10" height="2.20" fill="#acc715"/>
<rect x="75.50" y="681.18" width="3.10" height="2.20" fill="#ffcc0d"/>
<rect x="75.50" y="683.08" width="3.10" height="2.20" fill="#ffbb1c"/>
<rect x="75.50" y="684.98" width="3.10" height="2.20" fill="#ffd300"/>
<rect x="75.50" y="686.88" width="3.10" height="2.20" fill="#ffdc00"/>
<rect x="75.50" y="688.78" width="3.10" height="2.20" fill="#c0c400"/>
<rect x="75.50" y="690.68" width="3.10" height="2.20" fill="#8cca2d"/>
<rect x="75.50" y="692.58" width="3.10" height="2.20" fill="#d4c100"/>
<rect x="75.50" y="694.48" width="3.10" height="2.20" fill="#83ca33"/>
<rect x="75.50" y="696.38" width="3.10" height="2.20" fill="#dbc000"/>
<rect x="75.50" y="698.28" width="3.10" height="2.20" fill="#00c6a5"/>
<rect x="75.50" y="700.18" width="3.10" height="2.20" fill="#ffbb1c"/>
<rect x="75.50" y="702.08" width="3.10" height="2.20" fill="#dac000"/>
<rect x="75.50" y="703.98" width="3.10" height="2.20" fill="#bfc400"/>
<rect x="75.50" y="705.88" width="3.10" height="2.20" fill="#ffd800"/>
<rect x="75.50" y="707.78" width="3.10" height="2.20" fill="#bfc400"/>
<rect x="75.50" y="709.68" width="3.10" height="0.49" fill="#d4c100"/>
<rect x="78.30" y="629.88" width="3.10" height="2.20" fill="#ffd600"/>
<rect x="78.30" y="631.78" width="3.10" height="2.20" fill="#bcc502"/>
<rect x="78.30" y="633.68" width="3.10" height="2.20" fill="#e1bf00"/>
<rect x="78.30" y="635.58" width="3.10" height="2.20" fill="#fcbc14"/>
<rect x="78.30" y="637.48" width="3.10" height="2.20" fill="#00cc86"/>
<rect x="78.30" y="639.38" width="3.10" height="2.20" fill="#00cb8e"/>
<rect x="78.30" y="641.28" width="3.10" height="2.20" fill="#93c929"/>
<rect x="78.30" y="643.18" width="3.10" height="2.20" fill="#00ce5b"/>
<rect x="78.30" y="645.08" width="3.10" height="2.20" fill="#00cc84"/>
<rect x="78.30" y="646.98" width="3.10" height="2.20" fill="#ffd400"/>
<rect x="78.30" y="648.88" width="3.10" height="2.20" fill="#7ccb38"/>
<rect x="78.30" y="650.78" width="3.10" height="2.20" fill="#51cd4b"/>
<rect x="78.30" y="652.68" width="3.10" height="2.20" fill="#edbe00"/>
<rect x="78.30" y="654.58" width="3.10" height="2.20" fill="#c7c300"/>
<rect x="78.30" y="656.48" width="3.10" height="2.20" fill="#a9c718"/>
<rect x="78.30" y="658.38" width="3.10" height="2.20" fill="#a7c719"/>
<rect x="78.30" y="660.28" width="3.10" height="2.20" fill="#ffd200"/>
<rect x="78.30" y="662.18" width="3.10" height="2.20" fill="#e4bf00"/>
<rect x="78.30" y="664.08" width="3.10" height="2.20" fill="#dec000"/>
<rect x="78.30" y="665.98" width="3.10" height="2.20" fill="#f7bc0a"/>
<rect x="78.30" y="667.88" width="3.10" height="2.20" fill="#00ce70"/>
<rect x="78.30" y="669.78" width="3.10" height="2.20" fill="#00cc88"/>
<rect x="78.30" y="671.68" width="3.10" height="2.20" fill="#f7bc0a"/>
<rect x="78.30" y="673.58" width="3.10" height="2.20" fill="#00cd76"/>
<rect x="78.30" y="675.48" width="3.10" height="2.20" fill="#ffdc00"/>
<rect x="78.30" y="677.38" width="3.10" height="2.20" fill="#b4c60c"/>
<rect x="78.30" y="679.28" width="3.10" height="2.20" fill="#d8c100"/>
<rect x="78.30" y="681.18" width="3.10" height="2.20" fill="#a0c81f"/>
<rect x="78.30" y="683.08" width="3.10" height="2.20" fill="#00ce5f"/>
<rect x="78.30" y="684.98" width="3.10" height="2.20" fill="#aec714"/>
<rect x="78.30" y="686.88" width="3.10" height="2.20" fill="#88ca30"/>
<rect x="78.30" y="688.78" width="3.10" height="2.20" fill="#00c2b1"/>
<rect x="78.30" y="690.68" width="3.10" height="2.20" fill="#8dca2d"/>
<rect x="78.30" y="692.58" width="3.10" height="2.20" fill="#ffd600"/>
<rect x="78.30" y="694.48" width="3.10" height="2.20" fill="#00ce5f"/>
<rect x="78.30" y="696.38" width="3.10" height="2.20" fill="#ebbe00"/>
<rect x="78.30" y="698.28" width="3.10" height="2.20" fill="#00ce61"/>
<rect x="78.30" y="700.18" width="3.10" height="2.20" fill="#00b9cc"/>
<rect x="78.30" y="702.08" width="3.10" height="2.20" fill="#00ca90"/>
<rect x="78.30" y="703.98" width="3.10" height="2.20" fill="#00ce6a"/>
<rect x="78.30" y="705.88" width="3.10" height="2.20" fill="#ffcf03"/>
<rect x="78.30" y="707.78" width="3.10" height="2.20" fill="#49cd4e"/>
<rect x="78.30" y="709.68" width="3.10" height="0.49" fill="#ffd100"/>
<rect x="81.10" y="629.88" width="3.10" height="2.20" fill="#00cc89"/>
<rect x="81.10" y="631.78" width="3.10" height="2.20" fill="#00c89b"/>
<rect x="81.10" y="633.68" width="3.10" height="2.20" fill="#8fca2c"/>
<rect x="81.10" y="635.58" width="3.10" height="2.20" fill="#dec000"/>
<rect x="81.10" y="637.48" width="3.10" height="2.20" fill="#b8c507"/>
<rect x="81.10" y="639.38" width="3.10" height="2.20" fill="#00c2b2"/>
<rect x="81.10" y="641.28" width="3.10" height="2.20" fill="#00c0ba"/>
<rect x="81.10" y="643.18" width="3.10" height="2.20" fill="#00ca90"/>
<rect x="81.10" y="645.08" width="3.10" height="2.20" fill="#7dcb37"/>
<rect x="81.10" y="646.98" width="3.10" height="2.20" fill="#ffd800"/>
<rect x="81.10" y="648.88" width="3.10" height="2.20" fill="#ffcc0c"/>
<rect x="81.10" y="650.78" width="3.10" height="2.20" fill="#edbe00"/>
<rect x="81.10" y="652.68" width="3.10" height="2.20" fill="#ffc817"/>
<rect x="81.10" y="654.58" width="3.10" height="2.20" fill="#a0c81f"/>
<rect x="81.10" y="656.48" width="3.10" height="2.20" fill="#ffd100"/>
<rect x="81.10" y="658.38" width="3.10" height="2.20" fill="#ffbb1d"/>
<rect x="81.10" y="660.28" width="3.10" height="2.20" fill="#ffca13"/>
<rect x="81.10" y="662.18" width="3.10" height="2.20" fill="#ffd200"/>
<rect x="81.10" y="664.08" width="3.10" height="2.20" fill="#00c5a5"/>
<rect x="81.10" y="665.98" width="3.10" height="2.20" fill="#ffd200"/>
<rect x="81.10" y="667.88" width="3.10" height="2.20" fill="#ffbb1c"/>
<rect x="81.10" y="669.78" width="3.10" height="2.20" fill="#b0c611"/>
<rect x="81.10" y="671.68" width="3.10" height="2.20" fill="#ffd001"/>
<rect x="81.10" y="673.58" width="3.10" height="2.20" fill="#e6bf00"/>
<rect x="81.10" y="675.48" width="3.10" height="2.20" fill="#84ca33"/>
<rect x="81.10" y="677.38" width="3.10" height="2.20" fill="#ffbb1d"/>
<rect x="81.10" y="679.28" width="3.10" height="2.20" fill="#ecbe00"/>
<rect x="81.10" y="681.18" width="3.10" height="2.20" fill="#c0c400"/>
<rect x="81.10" y="683.08" width="3.10" height="2.20" fill="#9ec820"/>
<rect x="81.10" y="684.98" width="3.10" height="2.20" fill="#8eca2c"/>
<rect x="81.10" y="686.88" width="3.10" height="2.20" fill="#7ccb37"/>
<rect x="81.10" y="688.78" width="3.10" height="2.20" fill="#ffca14"/>
<rect x="81.10" y="690.68" width="3.10" height="2.20" fill="#f7bc09"/>
<rect x="81.10" y="692.58" width="3.10" height="2.20" fill="#ffda00"/>
<rect x="81.10" y="694.48" width="3.10" height="2.20" fill="#ffdc00"/>
<rect x="81.10" y="696.38" width="3.10" height="2.20" fill="#00c3af"/>
<rect x="81.10" y="698.28" width="3.10" height="2.20" fill="#00c89b"/>
<rect x="81.10" y="700.18" width="3.10" height="2.20" fill="#c3c400"/>
<rect x="81.10" y="702.08" width="3.10" height="2.20" fill="#ffd800"/>
<rect x="81.10" y="703.98" width="3.10" height="2.20" fill="#29ce56"/>
<rect x="81.10" y="705.88" width="3.10" height="2.20" fill="#d6c100"/>
<rect x="81.10" y="707.78" width="3.10" height="2.20" fill="#b0c611"/>
<rect x="81.10" y="709.68" width="3.10" height="0.49" fill="#00cc85"/>
<rect x="83.90" y="629.88" width="3.10" height="2.20" fill="#cac300"/>
<rect x="83.90" y="631.78" width="3.10" height="2.20" fill="#fabc11"/>
<rect x="83.90" y="633.68" width="3.10" height="2.20" fill="#00a3e7"/>
<rect x="83.90" y="635.58" width="3.10" height="2.20" fill="#a1c81e"/>
<rect x="83.90" y="637.48" width="3.10" height="2.20" fill="#87ca31"/>
<rect x="83.90" y="639.38" width="3.10" height="2.20" fill="#ffcc0d"/>
<rect x="83.90" y="641.28" width="3.10" height="2.20" fill="#febc17"/>
<rect x="83.90" y="643.18" width="3.10" height="2.20" fill="#c4c400"/>
<rect x="83.90" y="645.08" width="3.10" height="2.20" fill="#c6c300"/>
<rect x="83.90" y="646.98" width="3.10" height="2.20" fill="#00c4a9"/>
<rect x="83.90" y="648.88" width="3.10" height="2.20" fill="#dfc000"/>
<rect x="83.90" y="650.78" width="3.10" height="2.20" fill="#98c925"/>
<rect x="83.90" y="652.68" width="3.10" height="2.20" fill="#00cb8e"/>
<rect x="83.90" y="654.58" width="3.10" height="2.20" fill="#9bc923"/>
<rect x="83.90" y="656.48" width="3.10" height="2.20" fill="#eebd00"/>
<rect x="83.90" y="658.38" width="3.10" height="2.20" fill="#00c997"/>
<rect x="83.90" y="660.28" width="3.10" height="2.20" fill="#ffbb1b"/>
<rect x="83.90" y="662.18" width="3.10" height="2.20" fill="#00c1b4"/>
<rect x="83.90" y="664.08" width="3.10" height="2.20" fill="#8eca2c"/>
<rect x="83.90" y="665.98" width="3.10" height="2.20" fill="#00ce6e"/>
<rect x="83.90" y="667.88" width="3.10" height="2.20" fill="#c7c300"/>
<rect x="83.90" y="669.78" width="3.10" height="2.20" fill="#b7c508"/>
<rect x="83.90" y="671.68" width="3.10" height="2.20" fill="#d9c100"/>
<rect x="83.90" y="673.58" width="3.10" height="2.20" fill="#d5c100"/>
<rect x="83.90" y="675.48" width="3.10" height="2.20" fill="#ffdd00"/>
<rect x="83.90" y="677.38" width="3.10" height="2.20" fill="#d9c100"/>
<rect x="83.90" y="679.28" width="3.10" height="2.20" fill="#d5c100"/>
<rect x="83.90" y="681.18" width="3.10" height="2.20" fill="#91c92a"/>
<rect x="83.90" y="683.08" width="3.10" height="2.20" fill="#ffd400"/>
<rect x="83.90" y="684.98" width="3.10" height="2.20" fill="#00b7cf"/>
<rect x="83.90" y="686.88" width="3.10" height="2.20" fill="#afc613"/>
<rect x="83.90" y="688.78" width="3.10" height="2.20" fill="#e8be00"/>
<rect x="83.90" y="690.68" width="3.10" height="2.20" fill="#ffce08"/>
<rect x="83.90" y="692.58" width="3.10" height="2.20" fill="#9ac924"/>
<rect x="83.90" y="694.48" width="3.10" height="2.20" fill="#0094f1"/>
<rect x="83.90" y="696.38" width="3.10" height="2.20" fill="#00c6a3"/>
<rect x="83.90" y="698.28" width="3.10" height="2.20" fill="#00ce6e"/>
<rect x="83.90" y="700.18" width="3.10" height="2.20" fill="#c2c400"/>
<rect x="83.90" y="702.08" width="3.10" height="2.20" fill="#ffcb11"/>
<rect x="83.90" y="703.98" width="3.10" height="2.20" fill="#ffd100"/>
<rect x="83.90" y="705.88" width="3.10" height="2.20" fill="#c9c300"/>
<rect x="83.90" y="707.78" width="3.10" height="2.20" fill="#00bfbb"/>
<rect x="83.90" y="709.68" width="3.10" height="0.49" fill="#85ca32"/>
<rect x="64.30" y="628.38" width="3.10" height="1.80" fill="#0090f5"/>
<rect x="64.30" y="709.87" width="3.10" height="2.00" fill="#008bf9"/>
<rect x="64.30" y="711.87" width="3.10" height="2.00" fill="#4835dc"/>
<rect x="64.30" y="713.87" width="3.10" height="2.00" fill="#483ce7"/>
<rect x="67.10" y="628.38" width="3.10" height="1.80" fill="#3d57fc"/>
<rect x="67.10" y="709.87" width="3.10" height="2.00" fill="#0075ff"/>
<rect x="67.10" y="711.87" width="3.10" height="2.00" fill="#4547f1"/>
<rect x="67.10" y="713.87" width="3.10" height="2.00" fill="#4741ec"/>
<rect x="69.90" y="628.38" width="3.10" height="1.80" fill="#355fff"/>
<rect x="69.90" y="709.87" width="3.10" height="2.00" fill="#007aff"/>
<rect x="69.90" y="711.87" width="3.10" height="2.00" fill="#3a5afe"/>
<rect x="69.90" y="713.87" width="3.10" height="2.00" fill="#462bc6"/>
<rect x="72.70" y="628.38" width="3.10" height="1.80" fill="#009bec"/>
<rect x="72.70" y="709.87" width="3.10" height="2.00" fill="#2468ff"/>
<rect x="72.70" y="711.87" width="3.10" height="2.00" fill="#4839e2"/>
<rect x="72.70" y="713.87" width="3.10" height="2.00" fill="#462ac4"/>
<rect x="75.50" y="628.38" width="3.10" height="1.80" fill="#0096f0"/>
<rect x="75.50" y="709.87" width="3.10" height="2.00" fill="#096eff"/>
<rect x="75.50" y="711.87" width="3.10" height="2.00" fill="#4053fa"/>
<rect x="75.50" y="713.87" width="3.10" height="2.00" fill="#483de7"/>
<rect x="78.30" y="628.38" width="3.10" height="1.80" fill="#009eea"/>
<rect x="78.30" y="709.87" width="3.10" height="2.00" fill="#009bec"/>
<rect x="78.30" y="711.87" width="3.10" height="2.00" fill="#472fd0"/>
<rect x="78.30" y="713.87" width="3.10" height="2.00" fill="#482fd0"/>
<rect x="81.10" y="628.38" width="3.10" height="1.80" fill="#2b65ff"/>
<rect x="81.10" y="709.87" width="3.10" height="2.00" fill="#0070ff"/>
<rect x="81.10" y="711.87" width="3.10" height="2.00" fill="#4839e3"/>
<rect x="81.10" y="713.87" width="3.10" height="2.00" fill="#4837e0"/>
<rect x="83.90" y="628.38" width="3.10" height="1.80" fill="#0083fd"/>
<rect x="83.90" y="709.87" width="3.10" height="2.00" fill="#0070ff"/>
<rect x="83.90" y="711.87" width="3.10" height="2.00" fill="#483be6"/>
<rect x="83.90" y="713.87" width="3.10" height="2.00" fill="#4423b2"/>
<rect x="60.80" y="646.76" width="3.70" height="2.10" fill="#008df7"/>
<rect x="60.80" y="691.76" width="3.70" height="2.00" fill="#008df7"/>
<rect x="97.30" y="648.66" width="3.50" height="2.20" fill="#00c5a7"/>
<rect x="97.30" y="650.56" width="3.50" height="2.20" fill="#ffbb1b"/>
<rect x="97.30" y="652.46" width="3.50" height="2.20" fill="#00bcc6"/>
<rect x="97.30" y="654.36" width="3.50" height="2.20" fill="#ffca13"/>
<rect x="97.30" y="656.26" width="3.50" height="2.20" fill="#b0c612"/>
<rect x="97.30" y="658.16" width="3.50" height="2.20" fill="#f8bc0d"/>
<rect x="97.30" y="660.06" width="3.50" height="2.20" fill="#e3bf00"/>
<rect x="97.30" y="661.96" width="3.50" height="2.20" fill="#c9c300"/>
<rect x="97.30" y="663.86" width="3.50" height="2.20" fill="#ffd100"/>
<rect x="97.30" y="665.76" width="3.50" height="2.20" fill="#ffd700"/>
<rect x="97.30" y="667.66" width="3.50" height="2.20" fill="#fbbc13"/>
<rect x="97.30" y="669.56" width="3.50" height="2.20" fill="#cac300"/>
<rect x="97.30" y="671.46" width="3.50" height="2.20" fill="#b0c612"/>
<rect x="97.30" y="673.36" width="3.50" height="2.20" fill="#00c6a4"/>
<rect x="97.30" y="675.26" width="3.50" height="2.20" fill="#d8c100"/>
<rect x="97.30" y="677.16" width="3.50" height="2.20" fill="#00b9cd"/>
<rect x="97.30" y="679.06" width="3.50" height="2.20" fill="#00c89b"/>
<rect x="97.30" y="680.96" width="3.50" height="2.20" fill="#c9c300"/>
<rect x="97.30" y="682.86" width="3.50" height="2.20" fill="#bbc503"/>
<rect x="97.30" y="684.76" width="3.50" height="2.20" fill="#90c92b"/>
<rect x="97.30" y="686.66" width="3.50" height="2.20" fill="#ffd700"/>
<rect x="97.30" y="688.56" width="3.50" height="2.20" fill="#d9c100"/>
<rect x="97.30" y="690.46" width="3.50" height="1.61" fill="#e0bf00"/>
<rect x="100.30" y="629.88" width="3.00" height="2.20" fill="#fdbc15"/>
<rect x="100.30" y="631.78" width="3.00" height="2.20" fill="#18ce58"/>
<rect x="100.30" y="633.68" width="3.00" height="2.20" fill="#00ce72"/>
<rect x="100.30" y="635.58" width="3.00" height="2.20" fill="#a3c81d"/>
<rect x="100.30" y="637.48" width="3.00" height="2.20" fill="#bdc501"/>
<rect x="100.30" y="639.38" width="3.00" height="2.20" fill="#00bdc1"/>
<rect x="100.30" y="641.28" width="3.00" height="2.20" fill="#00cc82"/>
<rect x="100.30" y="643.18" width="3.00" height="2.20" fill="#ffd500"/>
<rect x="100.30" y="645.08" width="3.00" height="2.20" fill="#00cd7a"/>
<rect x="100.30" y="646.98" width="3.00" height="2.20" fill="#00a5e6"/>
<rect x="100.30" y="648.88" width="3.00" height="2.20" fill="#f8bc0c"/>
<rect x="100.30" y="650.78" width="3.00" height="2.20" fill="#00cc87"/>
<rect x="100.30" y="652.68" width="3.00" height="2.20" fill="#00ce72"/>
<rect x="100.30" y="654.58" width="3.00" height="2.20" fill="#e6bf00"/>
<rect x="100.30" y="656.48" width="3.00" height="2.20" fill="#edbe00"/>
<rect x="100.30" y="658.38" width="3.00" height="2.20" fill="#d5c100"/>
<rect x="100.30" y="660.28" width="3.00" height="2.20" fill="#b9c506"/>
<rect x="100.30" y="662.18" width="3.00" height="2.20" fill="#a0c81f"/>
<rect x="100.30" y="664.08" width="3.00" height="2.20" fill="#00cb8f"/>
<rect x="100.30" y="665.98" width="3.00" height="2.20" fill="#ffc61c"/>
<rect x="100.30" y="667.88" width="3.00" height="2.20" fill="#edbe00"/>
<rect x="100.30" y="669.78" width="3.00" height="2.20" fill="#ffd200"/>
<rect x="100.30" y="671.68" width="3.00" height="2.20" fill="#ffc71b"/>
<rect x="100.30" y="673.58" width="3.00" height="2.20" fill="#00c79f"/>
<rect x="100.30" y="675.48" width="3.00" height="2.20" fill="#ffd500"/>
<rect x="100.30" y="677.38" width="3.00" height="2.20" fill="#eebd00"/>
<rect x="100.30" y="679.28" width="3.00" height="2.20" fill="#00ce61"/>
<rect x="100.30" y="681.18" width="3.00" height="2.20" fill="#00c4ab"/>
<rect x="100.30" y="683.08" width="3.00" height="2.20" fill="#00cc89"/>
<rect x="100.30" y="684.98" width="3.00" height="2.20" fill="#00cd7b"/>
<rect x="100.30" y="686.88" width="3.00" height="2.20" fill="#00c6a4"/>
<rect x="100.30" y="688.78" width="3.00" height="2.20" fill="#00c5a7"/>
<rect x="100.30" y="690.68" width="3.00" height="2.20" fill="#edbe00"/>
<rect x="100.30" y="692.58" width="3.00" height="2.20" fill="#00cb8d"/>
<rect x="100.30" y="694.48" width="3.00" height="2.20" fill="#adc714"/>
<rect x="100.30" y="696.38" width="3.00" height="2.20" fill="#00cd79"/>
<rect x="100.30" y="698.28" width="3.00" height="2.20" fill="#0bce59"/>
<rect x="100.30" y="700.18" width="3.00" height="2.20" fill="#b6c609"/>
<rect x="100.30" y="702.08" width="3.00" height="2.20" fill="#00bfbd"/>
<rect x="100.30" y="703.98" width="3.00" height="2.20" fill="#a7c71a"/>
<rect x="100.30" y="705.88" width="3.00" height="2.20" fill="#00bdc2"/>
<rect x="100.30" y="707.78" width="3.00" height="2.20" fill="#e7be00"/>
<rect x="100.30" y="709.68" width="3.00" height="0.49" fill="#00cc86"/>
<rect x="103.00" y="629.88" width="3.00" height="2.20" fill="#009cec"/>
<rect x="103.00" y="631.78" width="3.00" height="2.20" fill="#00ce74"/>
<rect x="103.00" y="633.68" width="3.00" height="2.20" fill="#ffce05"/>
<rect x="103.00" y="635.58" width="3.00" height="2.20" fill="#84ca33"/>
<rect x="103.00" y="637.48" width="3.00" height="2.20" fill="#009fe9"/>
<rect x="103.00" y="639.38" width="3.00" height="2.20" fill="#7ecb36"/>
<rect x="103.00" y="641.28" width="3.00" height="2.20" fill="#e4bf00"/>
<rect x="103.00" y="643.18" width="3.00" height="2.20" fill="#00cc85"/>
<rect x="103.00" y="645.08" width="3.00" height="2.20" fill="#95c928"/>
<rect x="103.00" y="646.98" width="3.00" height="2.20" fill="#b7c509"/>
<rect x="103.00" y="648.88" width="3.00" height="2.20" fill="#f7bc0a"/>
<rect x="103.00" y="650.78" width="3.00" height="2.20" fill="#83ca33"/>
<rect x="103.00" y="652.68" width="3.00" height="2.20" fill="#a7c71a"/>
<rect x="103.00" y="654.58" width="3.00" height="2.20" fill="#c8c300"/>
<rect x="103.00" y="656.48" width="3.00" height="2.20" fill="#fcbc14"/>
<rect x="103.00" y="658.38" width="3.00" height="2.20" fill="#ffd500"/>
<rect x="103.00" y="660.28" width="3.00" height="2.20" fill="#ffd900"/>
<rect x="103.00" y="662.18" width="3.00" height="2.20" fill="#eabe00"/>
<rect x="103.00" y="664.08" width="3.00" height="2.20" fill="#e6bf00"/>
<rect x="103.00" y="665.98" width="3.00" height="2.20" fill="#ffd600"/>
<rect x="103.00" y="667.88" width="3.00" height="2.20" fill="#80cb35"/>
<rect x="103.00" y="669.78" width="3.00" height="2.20" fill="#ffbb19"/>
<rect x="103.00" y="671.68" width="3.00" height="2.20" fill="#e2bf00"/>
<rect x="103.00" y="673.58" width="3.00" height="2.20" fill="#9ec821"/>
<rect x="103.00" y="675.48" width="3.00" height="2.20" fill="#00c998"/>
<rect x="103.00" y="677.38" width="3.00" height="2.20" fill="#ffcb11"/>
<rect x="103.00" y="679.28" width="3.00" height="2.20" fill="#ffd001"/>
<rect x="103.00" y="681.18" width="3.00" height="2.20" fill="#f4bd03"/>
<rect x="103.00" y="683.08" width="3.00" height="2.20" fill="#00cb8c"/>
<rect x="103.00" y="684.98" width="3.00" height="2.20" fill="#ffc817"/>
<rect x="103.00" y="686.88" width="3.00" height="2.20" fill="#d9c100"/>
<rect x="103.00" y="688.78" width="3.00" height="2.20" fill="#e5bf00"/>
<rect x="103.00" y="690.68" width="3.00" height="2.20" fill="#cac300"/>
<rect x="103.00" y="692.58" width="3.00" height="2.20" fill="#0098ee"/>
<rect x="103.00" y="694.48" width="3.00" height="2.20" fill="#00cc88"/>
<rect x="103.00" y="696.38" width="3.00" height="2.20" fill="#4ecd4c"/>
<rect x="103.00" y="698.28" width="3.00" height="2.20" fill="#00bac9"/>
<rect x="103.00" y="700.18" width="3.00" height="2.20" fill="#febc17"/>
<rect x="103.00" y="702.08" width="3.00" height="2.20" fill="#22ce57"/>
<rect x="103.00" y="703.98" width="3.00" height="2.20" fill="#ffd400"/>
<rect x="103.00" y="705.88" width="3.00" height="2.20" fill="#ffd700"/>
<rect x="103.00" y="707.78" width="3.00" height="2.20" fill="#00cd7b"/>
<rect x="103.00" y="709.68" width="3.00" height="0.49" fill="#ffd700"/>
<rect x="105.70" y="629.88" width="3.00" height="2.20" fill="#00a1e8"/>
<rect x="105.70" y="631.78" width="3.00" height="2.20" fill="#9ac924"/>
<rect x="105.70" y="633.68" width="3.00" height="2.20" fill="#62cc45"/>
<rect x="105.70" y="635.58" width="3.00" height="2.20" fill="#90c92b"/>
<rect x="105.70" y="637.48" width="3.00" height="2.20" fill="#0098ee"/>
<rect x="105.70" y="639.38" width="3.00" height="2.20" fill="#98c925"/>
<rect x="105.70" y="641.28" width="3.00" height="2.20" fill="#64cc43"/>
<rect x="105.70" y="643.18" width="3.00" height="2.20" fill="#c3c400"/>
<rect x="105.70" y="645.08" width="3.00" height="2.20" fill="#a2c81e"/>
<rect x="105.70" y="646.98" width="3.00" height="2.20" fill="#62cc45"/>
<rect x="105.70" y="648.88" width="3.00" height="2.20" fill="#b8c507"/>
<rect x="105.70" y="650.78" width="3.00" height="2.20" fill="#57cd49"/>
<rect x="105.70" y="652.68" width="3.00" height="2.20" fill="#00c1b4"/>
<rect x="105.70" y="654.58" width="3.00" height="2.20" fill="#d2c200"/>
<rect x="105.70" y="656.48" width="3.00" height="2.20" fill="#e5bf00"/>
<rect x="105.70" y="658.38" width="3.00" height="2.20" fill="#ffdd00"/>
<rect x="105.70" y="660.28" width="3.00" height="2.20" fill="#ffbb19"/>
<rect x="105.70" y="662.18" width="3.00" height="2.20" fill="#ffce07"/>
<rect x="105.70" y="664.08" width="3.00" height="2.20" fill="#00ce5e"/>
<rect x="105.70" y="665.98" width="3.00" height="2.20" fill="#a7c71a"/>
<rect x="105.70" y="667.88" width="3.00" height="2.20" fill="#ffd900"/>
<rect x="105.70" y="669.78" width="3.00" height="2.20" fill="#a6c71a"/>
<rect x="105.70" y="671.68" width="3.00" height="2.20" fill="#bfc400"/>
<rect x="105.70" y="673.58" width="3.00" height="2.20" fill="#ebbe00"/>
<rect x="105.70" y="675.48" width="3.00" height="2.20" fill="#f7bc09"/>
<rect x="105.70" y="677.38" width="3.00" height="2.20" fill="#9ac924"/>
<rect x="105.70" y="679.28" width="3.00" height="2.20" fill="#9ec821"/>
<rect x="105.70" y="681.18" width="3.00" height="2.20" fill="#9ec821"/>
<rect x="105.70" y="683.08" width="3.00" height="2.20" fill="#5bcc47"/>
<rect x="105.70" y="684.98" width="3.00" height="2.20" fill="#9ec820"/>
<rect x="105.70" y="686.88" width="3.00" height="2.20" fill="#e9be00"/>
<rect x="105.70" y="688.78" width="3.00" height="2.20" fill="#7ecb36"/>
<rect x="105.70" y="690.68" width="3.00" height="2.20" fill="#ffbc19"/>
<rect x="105.70" y="692.58" width="3.00" height="2.20" fill="#ffda00"/>
<rect x="105.70" y="694.48" width="3.00" height="2.20" fill="#ccc300"/>
<rect x="105.70" y="696.38" width="3.00" height="2.20" fill="#00ce5b"/>
<rect x="105.70" y="698.28" width="3.00" height="2.20" fill="#00ce73"/>
<rect x="105.70" y="700.18" width="3.00" height="2.20" fill="#ffda00"/>
<rect x="105.70" y="702.08" width="3.00" height="2.20" fill="#00c5a9"/>
<rect x="105.70" y="703.98" width="3.00" height="2.20" fill="#ecbe00"/>
<rect x="105.70" y="705.88" width="3.00" height="2.20" fill="#9dc822"/>
<rect x="105.70" y="707.78" width="3.00" height="2.20" fill="#a5c81c"/>
<rect x="105.70" y="709.68" width="3.00" height="0.49" fill="#00a1e8"/>
<rect x="108.40" y="629.88" width="3.00" height="2.20" fill="#00ade0"/>
<rect x="108.40" y="631.78" width="3.00" height="2.20" fill="#f8bc0d"/>
<rect x="108.40" y="633.68" width="3.00" height="2.20" fill="#b0c611"/>
<rect x="108.40" y="635.58" width="3.00" height="2.20" fill="#bac504"/>
<rect x="108.40" y="637.48" width="3.00" height="2.20" fill="#f4bd04"/>
<rect x="108.40" y="639.38" width="3.00" height="2.20" fill="#bdc500"/>
<rect x="108.40" y="641.28" width="3.00" height="2.20" fill="#b3c60d"/>
<rect x="108.40" y="643.18" width="3.00" height="2.20" fill="#0091f4"/>
<rect x="108.40" y="645.08" width="3.00" height="2.20" fill="#ffda00"/>
<rect x="108.40" y="646.98" width="3.00" height="2.20" fill="#b3c60d"/>
<rect x="108.40" y="648.88" width="3.00" height="2.20" fill="#4fcd4c"/>
<rect x="108.40" y="650.78" width="3.00" height="2.20" fill="#ffbb1d"/>
<rect x="108.40" y="652.68" width="3.00" height="2.20" fill="#f6bc08"/>
<rect x="108.40" y="654.58" width="3.00" height="2.20" fill="#00cd78"/>
<rect x="108.40" y="656.48" width="3.00" height="2.20" fill="#e5bf00"/>
<rect x="108.40" y="658.38" width="3.00" height="2.20" fill="#e8be00"/>
<rect x="108.40" y="660.28" width="3.00" height="2.20" fill="#00cb8d"/>
<rect x="108.40" y="662.18" width="3.00" height="2.20" fill="#00c6a5"/>
<rect x="108.40" y="664.08" width="3.00" height="2.20" fill="#f3bd01"/>
<rect x="108.40" y="665.98" width="3.00" height="2.20" fill="#f8bc0c"/>
<rect x="108.40" y="667.88" width="3.00" height="2.20" fill="#00cd76"/>
<rect x="108.40" y="669.78" width="3.00" height="2.20" fill="#dec000"/>
<rect x="108.40" y="671.68" width="3.00" height="2.20" fill="#ffd900"/>
<rect x="108.40" y="673.58" width="3.00" height="2.20" fill="#a4c81c"/>
<rect x="108.40" y="675.48" width="3.00" height="2.20" fill="#8dca2d"/>
<rect x="108.40" y="677.38" width="3.00" height="2.20" fill="#ffce07"/>
<rect x="108.40" y="679.28" width="3.00" height="2.20" fill="#8dca2d"/>
<rect x="108.40" y="681.18" width="3.00" height="2.20" fill="#e3bf00"/>
<rect x="108.40" y="683.08" width="3.00" height="2.20" fill="#ffd700"/>
<rect x="108.40" y="684.98" width="3.00" height="2.20" fill="#f7bc0a"/>
<rect x="108.40" y="686.88" width="3.00" height="2.20" fill="#9ec821"/>
<rect x="108.40" y="688.78" width="3.00" height="2.20" fill="#ffd900"/>
<rect x="108.40" y="690.68" width="3.00" height="2.20" fill="#f0bd00"/>
<rect x="108.40" y="692.58" width="3.00" height="2.20" fill="#00ce69"/>
<rect x="108.40" y="694.48" width="3.00" height="2.20" fill="#00b7d0"/>
<rect x="108.40" y="696.38" width="3.00" height="2.20" fill="#00a1e8"/>
<rect x="108.40" y="698.28" width="3.00" height="2.20" fill="#c6c300"/>
<rect x="108.40" y="700.18" width="3.00" height="2.20" fill="#00c2b0"/>
<rect x="108.40" y="702.08" width="3.00" height="2.20" fill="#ffd400"/>
<rect x="108.40" y="703.98" width="3.00" height="2.20" fill="#aec613"/>
<rect x="108.40" y="705.88" width="3.00" height="2.20" fill="#00baca"/>
<rect x="108.40" y="707.78" width="3.00" height="2.20" fill="#00bec0"/>
<rect x="108.40" y="709.68" width="3.00" height="0.49" fill="#d4c100"/>
<rect x="111.10" y="629.88" width="3.00" height="2.20" fill="#ffcc0e"/>
<rect x="111.10" y="631.78" width="3.00" height="2.20" fill="#c8c300"/>
<rect x="111.10" y="633.68" width="3.00" height="2.20" fill="#e1bf00"/>
<rect x="111.10" y="635.58" width="3.00" height="2.20" fill="#b3c60e"/>
<rect x="111.10" y="637.48" width="3.00" height="2.20" fill="#b5c60a"/>
<rect x="111.10" y="639.38" width="3.00" height="2.20" fill="#d4c100"/>
<rect x="111.10" y="641.28" width="3.00" height="2.20" fill="#b9c505"/>
<rect x="111.10" y="643.18" width="3.00" height="2.20" fill="#ffc71a"/>
<rect x="111.10" y="645.08" width="3.00" height="2.20" fill="#00cb8c"/>
<rect x="111.10" y="646.98" width="3.00" height="2.20" fill="#00c4ab"/>
<rect x="111.10" y="648.88" width="3.00" height="2.20" fill="#ffcf03"/>
<rect x="111.10" y="650.78" width="3.00" height="2.20" fill="#ffc818"/>
<rect x="111.10" y="652.68" width="3.00" height="2.20" fill="#fdbc16"/>
<rect x="111.10" y="654.58" width="3.00" height="2.20" fill="#1cce58"/>
<rect x="111.10" y="656.48" width="3.00" height="2.20" fill="#afc613"/>
<rect x="111.10" y="658.38" width="3.00" height="2.20" fill="#f3bd02"/>
<rect x="111.10" y="660.28" width="3.00" height="2.20" fill="#e7be00"/>
<rect x="111.10" y="662.18" width="3.00" height="2.20" fill="#00cd7c"/>
<rect x="111.10" y="664.08" width="3.00" height="2.20" fill="#f4bc04"/>
<rect x="111.10" y="665.98" width="3.00" height="2.20" fill="#00bebe"/>
<rect x="111.10" y="667.88" width="3.00" height="2.20" fill="#e7be00"/>
<rect x="111.10" y="669.78" width="3.00" height="2.20" fill="#ffce08"/>
<rect x="111.10" y="671.68" width="3.00" height="2.20" fill="#00cc84"/>
<rect x="111.10" y="673.58" width="3.00" height="2.20" fill="#e1bf00"/>
<rect x="111.10" y="675.48" width="3.00" height="2.20" fill="#bdc501"/>
<rect x="111.10" y="677.38" width="3.00" height="2.20" fill="#ffd100"/>
<rect x="111.10" y="679.28" width="3.00" height="2.20" fill="#ffd500"/>
<rect x="111.10" y="681.18" width="3.00" height="2.20" fill="#90c92b"/>
<rect x="111.10" y="683.08" width="3.00" height="2.20" fill="#ffcd0c"/>
<rect x="111.10" y="684.98" width="3.00" height="2.20" fill="#fdbc17"/>
<rect x="111.10" y="686.88" width="3.00" height="2.20" fill="#30cd54"/>
<rect x="111.10" y="688.78" width="3.00" height="2.20" fill="#eabe00"/>
<rect x="111.10" y="690.68" width="3.00" height="2.20" fill="#ffd000"/>
<rect x="111.10" y="692.58" width="3.00" height="2.20" fill="#00b9cc"/>
<rect x="111.10" y="694.48" width="3.00" height="2.20" fill="#8eca2c"/>
<rect x="111.10" y="696.38" width="3.00" height="2.20" fill="#00bdc1"/>
<rect x="111.10" y="698.28" width="3.00" height="2.20" fill="#80cb35"/>
<rect x="111.10" y="700.18" width="3.00" height="2.20" fill="#00ce6c"/>
<rect x="111.10" y="702.08" width="3.00" height="2.20" fill="#00ce5a"/>
<rect x="111.10" y="703.98" width="3.00" height="2.20" fill="#00cd7f"/>
<rect x="111.10" y="705.88" width="3.00" height="2.20" fill="#f1bd00"/>
<rect x="111.10" y="707.78" width="3.00" height="2.20" fill="#ffdb00"/>
<rect x="111.10" y="709.68" width="3.00" height="0.49" fill="#00ce6d"/>
<rect x="113.80" y="629.88" width="3.00" height="2.20" fill="#82cb34"/>
<rect x="113.80" y="631.78" width="3.00" height="2.20" fill="#bdc501"/>
<rect x="113.80" y="633.68" width="3.00" height="2.20" fill="#ffc818"/>
<rect x="113.80" y="635.58" width="3.00" height="2.20" fill="#00ce6f"/>
<rect x="113.80" y="637.48" width="3.00" height="2.20" fill="#00ce74"/>
<rect x="113.80" y="639.38" width="3.00" height="2.20" fill="#00ace1"/>
<rect x="113.80" y="641.28" width="3.00" height="2.20" fill="#eebd00"/>
<rect x="113.80" y="643.18" width="3.00" height="2.20" fill="#00ce71"/>
<rect x="113.80" y="645.08" width="3.00" height="2.20" fill="#00ce5c"/>
<rect x="113.80" y="646.98" width="3.00" height="2.20" fill="#00cd80"/>
<rect x="113.80" y="648.88" width="3.00" height="2.20" fill="#eebd00"/>
<rect x="113.80" y="650.78" width="3.00" height="2.20" fill="#7ccb37"/>
<rect x="113.80" y="652.68" width="3.00" height="2.20" fill="#00ce71"/>
<rect x="113.80" y="654.58" width="3.00" height="2.20" fill="#ffda00"/>
<rect x="113.80" y="656.48" width="3.00" height="2.20" fill="#f7bc09"/>
<rect x="113.80" y="658.38" width="3.00" height="2.20" fill="#b2c60f"/>
<rect x="113.80" y="660.28" width="3.00" height="2.20" fill="#00cb8d"/>
<rect x="113.80" y="662.18" width="3.00" height="2.20" fill="#dbc000"/>
<rect x="113.80" y="664.08" width="3.00" height="2.20" fill="#90c92b"/>
<rect x="113.80" y="665.98" width="3.00" height="2.20" fill="#ffc916"/>
<rect x="113.80" y="667.88" width="3.00" height="2.20" fill="#ffd200"/>
<rect x="113.80" y="669.78" width="3.00" height="2.20" fill="#eabe00"/>
<rect x="113.80" y="671.68" width="3.00" height="2.20" fill="#ffd200"/>
<rect x="113.80" y="673.58" width="3.00" height="2.20" fill="#ffc818"/>
<rect x="113.80" y="675.48" width="3.00" height="2.20" fill="#ffc915"/>
<rect x="113.80" y="677.38" width="3.00" height="2.20" fill="#dbc000"/>
<rect x="113.80" y="679.28" width="3.00" height="2.20" fill="#dbc000"/>
<rect x="113.80" y="681.18" width="3.00" height="2.20" fill="#c4c400"/>
<rect x="113.80" y="683.08" width="3.00" height="2.20" fill="#d6c100"/>
<rect x="113.80" y="684.98" width="3.00" height="2.20" fill="#00b9cc"/>
<rect x="113.80" y="686.88" width="3.00" height="2.20" fill="#bcc502"/>
<rect x="113.80" y="688.78" width="3.00" height="2.20" fill="#fdbc17"/>
<rect x="113.80" y="690.68" width="3.00" height="2.20" fill="#ffd600"/>
<rect x="113.80" y="692.58" width="3.00" height="2.20" fill="#00c79e"/>
<rect x="113.80" y="694.48" width="3.00" height="2.20" fill="#00c0b9"/>
<rect x="113.80" y="696.38" width="3.00" height="2.20" fill="#c2c400"/>
<rect x="113.80" y="698.28" width="3.00" height="2.20" fill="#93c929"/>
<rect x="113.80" y="700.18" width="3.00" height="2.20" fill="#ffca12"/>
<rect x="113.80" y="702.08" width="3.00" height="2.20" fill="#ffbc19"/>
<rect x="113.80" y="703.98" width="3.00" height="2.20" fill="#e5bf00"/>
<rect x="113.80" y="705.88" width="3.00" height="2.20" fill="#00a4e7"/>
<rect x="113.80" y="707.78" width="3.00" height="2.20" fill="#85ca32"/>
<rect x="113.80" y="709.68" width="3.00" height="0.49" fill="#96c926"/>
<rect x="116.50" y="629.88" width="3.00" height="2.20" fill="#00c0ba"/>
<rect x="116.50" y="631.78" width="3.00" height="2.20" fill="#0090f4"/>
<rect x="116.50" y="633.68" width="3.00" height="2.20" fill="#ffdb00"/>
<rect x="116.50" y="635.58" width="3.00" height="2.20" fill="#ffd800"/>
<rect x="116.50" y="637.48" width="3.00" height="2.20" fill="#00cd7d"/>
<rect x="116.50" y="639.38" width="3.00" height="2.20" fill="#00c0ba"/>
<rect x="116.50" y="641.28" width="3.00" height="2.20" fill="#009eea"/>
<rect x="116.50" y="643.18" width="3.00" height="2.20" fill="#00c89b"/>
<rect x="116.50" y="645.08" width="3.00" height="2.20" fill="#b7c508"/>
<rect x="116.50" y="646.98" width="3.00" height="2.20" fill="#00ce60"/>
<rect x="116.50" y="648.88" width="3.00" height="2.20" fill="#ffd600"/>
<rect x="116.50" y="650.78" width="3.00" height="2.20" fill="#8eca2c"/>
<rect x="116.50" y="652.68" width="3.00" height="2.20" fill="#ffc719"/>
<rect x="116.50" y="654.58" width="3.00" height="2.20" fill="#d8c100"/>
<rect x="116.50" y="656.48" width="3.00" height="2.20" fill="#00ce74"/>
<rect x="116.50" y="658.38" width="3.00" height="2.20" fill="#00c5a8"/>
<rect x="116.50" y="660.28" width="3.00" height="2.20" fill="#dcc000"/>
<rect x="116.50" y="662.18" width="3.00" height="2.20" fill="#f1bd00"/>
<rect x="116.50" y="664.08" width="3.00" height="2.20" fill="#50cd4c"/>
<rect x="116.50" y="665.98" width="3.00" height="2.20" fill="#d3c100"/>
<rect x="116.50" y="667.88" width="3.00" height="2.20" fill="#b7c509"/>
<rect x="116.50" y="669.78" width="3.00" height="2.20" fill="#bfc400"/>
<rect x="116.50" y="671.68" width="3.00" height="2.20" fill="#00ce62"/>
<rect x="116.50" y="673.58" width="3.00" height="2.20" fill="#00cc88"/>
<rect x="116.50" y="675.48" width="3.00" height="2.20" fill="#00c4ac"/>
<rect x="116.50" y="677.38" width="3.00" height="2.20" fill="#ffc914"/>
<rect x="116.50" y="679.28" width="3.00" height="2.20" fill="#98c926"/>
<rect x="116.50" y="681.18" width="3.00" height="2.20" fill="#00bdc2"/>
<rect x="116.50" y="683.08" width="3.00" height="2.20" fill="#ecbe00"/>
<rect x="116.50" y="684.98" width="3.00" height="2.20" fill="#00bec0"/>
<rect x="116.50" y="686.88" width="3.00" height="2.20" fill="#00ce5a"/>
<rect x="116.50" y="688.78" width="3.00" height="2.20" fill="#c9c300"/>
<rect x="116.50" y="690.68" width="3.00" height="2.20" fill="#19ce58"/>
<rect x="116.50" y="692.58" width="3.00" height="2.20" fill="#7fcb36"/>
<rect x="116.50" y="694.48" width="3.00" height="2.20" fill="#f3bd02"/>
<rect x="116.50" y="696.38" width="3.00" height="2.20" fill="#ffd400"/>
<rect x="116.50" y="698.28" width="3.00" height="2.20" fill="#9fc820"/>
<rect x="116.50" y="700.18" width="3.00" height="2.20" fill="#00c6a1"/>
<rect x="116.50" y="702.08" width="3.00" height="2.20" fill="#00ce71"/>
<rect x="116.50" y="703.98" width="3.00" height="2.20" fill="#cbc300"/>
<rect x="116.50" y="705.88" width="3.00" height="2.20" fill="#00c3b0"/>
<rect x="116.50" y="707.78" width="3.00" height="2.20" fill="#ffdb00"/>
<rect x="116.50" y="709.68" width="3.00" height="0.49" fill="#ffc817"/>
<rect x="119.20" y="629.88" width="3.00" height="2.20" fill="#00cc84"/>
<rect x="119.20" y="631.78" width="3.00" height="2.20" fill="#00ce5d"/>
<rect x="119.20" y="633.68" width="3.00" height="2.20" fill="#febc18"/>
<rect x="119.20" y="635.58" width="3.00" height="2.20" fill="#00a3e7"/>
<rect x="119.20" y="637.48" width="3.00" height="2.20" fill="#00a9e4"/>
<rect x="119.20" y="639.38" width="3.00" height="2.20" fill="#c0c400"/>
<rect x="119.20" y="641.28" width="3.00" height="2.20" fill="#00c4aa"/>
<rect x="119.20" y="643.18" width="3.00" height="2.20" fill="#ffce06"/>
<rect x="119.20" y="645.08" width="3.00" height="2.20" fill="#00cd77"/>
<rect x="119.20" y="646.98" width="3.00" height="2.20" fill="#eabe00"/>
<rect x="119.20" y="648.88" width="3.00" height="2.20" fill="#ffd000"/>
<rect x="119.20" y="650.78" width="3.00" height="2.20" fill="#ffd600"/>
<rect x="119.20" y="652.68" width="3.00" height="2.20" fill="#ffdb00"/>
<rect x="119.20" y="654.58" width="3.00" height="2.20" fill="#ffd400"/>
<rect x="119.20" y="656.48" width="3.00" height="2.20" fill="#8eca2c"/>
<rect x="119.20" y="658.38" width="3.00" height="2.20" fill="#acc715"/>
<rect x="119.20" y="660.28" width="3.00" height="2.20" fill="#8dca2d"/>
<rect x="119.20" y="662.18" width="3.00" height="2.20" fill="#fbbc12"/>
<rect x="119.20" y="664.08" width="3.00" height="2.20" fill="#92c929"/>
<rect x="119.20" y="665.98" width="3.00" height="2.20" fill="#fdbc16"/>
<rect x="119.20" y="667.88" width="3.00" height="2.20" fill="#ffd100"/>
<rect x="119.20" y="669.78" width="3.00" height="2.20" fill="#e9be00"/>
<rect x="119.20" y="671.68" width="3.00" height="2.20" fill="#ffc817"/>
<rect x="119.20" y="673.58" width="3.00" height="2.20" fill="#00ce71"/>
<rect x="119.20" y="675.48" width="3.00" height="2.20" fill="#eabe00"/>
<rect x="119.20" y="677.38" width="3.00" height="2.20" fill="#ffc819"/>
<rect x="119.20" y="679.28" width="3.00" height="2.20" fill="#20ce57"/>
<rect x="119.20" y="681.18" width="3.00" height="2.20" fill="#ffcd0b"/>
<rect x="119.20" y="683.08" width="3.00" height="2.20" fill="#ffcd0b"/>
<rect x="119.20" y="684.98" width="3.00" height="2.20" fill="#f8bc0b"/>
<rect x="119.20" y="686.88" width="3.00" height="2.20" fill="#fbbc13"/>
<rect x="119.20" y="688.78" width="3.00" height="2.20" fill="#00c2b2"/>
<rect x="119.20" y="690.68" width="3.00" height="2.20" fill="#ffc916"/>
<rect x="119.20" y="692.58" width="3.00" height="2.20" fill="#00cc88"/>
<rect x="119.20" y="694.48" width="3.00" height="2.20" fill="#00b8cd"/>
<rect x="119.20" y="696.38" width="3.00" height="2.20" fill="#ffdd00"/>
<rect x="119.20" y="698.28" width="3.00" height="2.20" fill="#acc715"/>
<rect x="119.20" y="700.18" width="3.00" height="2.20" fill="#00cc89"/>
<rect x="119.20" y="702.08" width="3.00" height="2.20" fill="#e6bf00"/>
<rect x="119.20" y="703.98" width="3.00" height="2.20" fill="#2ccd55"/>
<rect x="119.20" y="705.88" width="3.00" height="2.20" fill="#00cc85"/>
<rect x="119.20" y="707.78" width="3.00" height="2.20" fill="#c7c300"/>
<rect x="119.20" y="709.68" width="3.00" height="0.49" fill="#e5bf00"/>
<rect x="100.30" y="628.38" width="3.00" height="1.80" fill="#0086fc"/>
<rect x="100.30" y="709.87" width="3.00" height="2.00" fill="#00a6e6"/>
<rect x="100.30" y="711.87" width="3.00" height="2.00" fill="#472ecd"/>
<rect x="100.30" y="713.87" width="3.00" height="2.00" fill="#4836dd"/>
<rect x="103.00" y="628.38" width="3.00" height="1.80" fill="#007aff"/>
<rect x="103.00" y="709.87" width="3.00" height="2.00" fill="#008bf8"/>
<rect x="103.00" y="711.87" width="3.00" height="2.00" fill="#375dff"/>
<rect x="103.00" y="713.87" width="3.00" height="2.00" fill="#4424b4"/>
<rect x="105.70" y="628.38" width="3.00" height="1.80" fill="#0084fc"/>
<rect x="105.70" y="709.87" width="3.00" height="2.00" fill="#007eff"/>
<rect x="105.70" y="711.87" width="3.00" height="2.00" fill="#3c58fd"/>
<rect x="105.70" y="713.87" width="3.00" height="2.00" fill="#4836df"/>
<rect x="108.40" y="628.38" width="3.00" height="1.80" fill="#0076ff"/>
<rect x="108.40" y="709.87" width="3.00" height="2.00" fill="#0072ff"/>
<rect x="108.40" y="711.87" width="3.00" height="2.00" fill="#3c59fd"/>
<rect x="108.40" y="713.87" width="3.00" height="2.00" fill="#4836de"/>
<rect x="111.10" y="628.38" width="3.00" height="1.80" fill="#0082fe"/>
<rect x="111.10" y="709.87" width="3.00" height="2.00" fill="#0098ee"/>
<rect x="111.10" y="711.87" width="3.00" height="2.00" fill="#2e64ff"/>
<rect x="111.10" y="713.87" width="3.00" height="2.00" fill="#4528bf"/>
<rect x="113.80" y="628.38" width="3.00" height="1.80" fill="#008bf8"/>
<rect x="113.80" y="709.87" width="3.00" height="2.00" fill="#009cec"/>
<rect x="113.80" y="711.87" width="3.00" height="2.00" fill="#483ae4"/>
<rect x="113.80" y="713.87" width="3.00" height="2.00" fill="#483de8"/>
<rect x="116.50" y="628.38" width="3.00" height="1.80" fill="#116dff"/>
<rect x="116.50" y="709.87" width="3.00" height="2.00" fill="#00a4e7"/>
<rect x="116.50" y="711.87" width="3.00" height="2.00" fill="#434ef6"/>
<rect x="116.50" y="713.87" width="3.00" height="2.00" fill="#4740eb"/>
<rect x="119.20" y="628.38" width="3.00" height="1.80" fill="#0099ee"/>
<rect x="119.20" y="709.87" width="3.00" height="2.00" fill="#009aed"/>
<rect x="119.20" y="711.87" width="3.00" height="2.00" fill="#4741ec"/>
<rect x="119.20" y="713.87" width="3.00" height="2.00" fill="#472ece"/>
<rect x="97.30" y="646.76" width="3.20" height="2.10" fill="#008df7"/>
<rect x="97.30" y="691.76" width="3.20" height="2.00" fill="#008df7"/>
<rect x="67.00" y="626.48" width="2.70" height="2.20" fill="#0084fd"/>
<rect x="67.00" y="624.58" width="2.70" height="2.20" fill="#355fff"/>
<rect x="67.00" y="622.68" width="2.70" height="2.20" fill="#2a66ff"/>
<rect x="67.00" y="620.78" width="2.70" height="2.20" fill="#434cf5"/>
<rect x="67.00" y="618.88" width="2.70" height="2.20" fill="#4151f8"/>
<rect x="67.00" y="616.98" width="2.70" height="2.20" fill="#483ee9"/>
<rect x="67.00" y="615.08" width="2.70" height="2.20" fill="#4742ec"/>
<rect x="67.00" y="613.18" width="2.70" height="2.20" fill="#4835dc"/>
<rect x="67.00" y="611.28" width="2.70" height="2.20" fill="#4837e0"/>
<rect x="67.00" y="609.38" width="2.70" height="2.20" fill="#472fd0"/>
<rect x="67.00" y="607.48" width="2.70" height="2.20" fill="#4830d3"/>
<rect x="67.00" y="605.58" width="2.70" height="2.20" fill="#462bc6"/>
<rect x="67.00" y="603.68" width="2.70" height="2.20" fill="#472cc9"/>
<rect x="67.00" y="603.00" width="2.70" height="0.98" fill="#4629c1"/>
<rect x="69.70" y="626.48" width="2.40" height="2.20" fill="#4646f1"/>
<rect x="69.70" y="624.58" width="2.40" height="2.20" fill="#4834dc"/>
<rect x="69.70" y="622.68" width="2.40" height="2.20" fill="#4834da"/>
<rect x="69.70" y="620.78" width="2.40" height="2.20" fill="#472cc8"/>
<rect x="69.70" y="618.88" width="2.40" height="2.20" fill="#462bc7"/>
<rect x="69.70" y="616.98" width="2.40" height="2.20" fill="#4527bd"/>
<rect x="69.70" y="615.08" width="2.40" height="2.20" fill="#4527bc"/>
<rect x="69.70" y="614.00" width="2.40" height="1.38" fill="#4425b6"/>
<rect x="66.80" y="711.87" width="2.70" height="2.20" fill="#0086fc"/>
<rect x="66.80" y="713.77" width="2.70" height="2.20" fill="#2f63ff"/>
<rect x="66.80" y="715.67" width="2.70" height="2.20" fill="#0f6dff"/>
<rect x="66.80" y="717.57" width="2.70" height="2.20" fill="#4053fa"/>
<rect x="66.80" y="719.47" width="2.70" height="2.20" fill="#3a5bfe"/>
<rect x="66.80" y="721.37" width="2.70" height="2.20" fill="#4647f1"/>
<rect x="66.80" y="723.27" width="2.70" height="2.20" fill="#434df6"/>
<rect x="66.80" y="725.17" width="2.70" height="2.20" fill="#483de7"/>
<rect x="66.80" y="727.07" width="2.70" height="2.20" fill="#4742ec"/>
<rect x="66.80" y="728.97" width="2.70" height="2.20" fill="#4836dd"/>
<rect x="66.80" y="730.87" width="2.70" height="2.20" fill="#4839e3"/>
<rect x="66.80" y="732.77" width="2.70" height="2.20" fill="#4831d4"/>
<rect x="66.80" y="734.67" width="2.70" height="2.20" fill="#4833d9"/>
<rect x="66.80" y="736.57" width="2.70" height="2.20" fill="#472dcc"/>
<rect x="66.80" y="738.47" width="2.70" height="2.20" fill="#472fd0"/>
<rect x="66.80" y="740.37" width="2.70" height="2.20" fill="#462bc5"/>
<rect x="66.80" y="742.27" width="2.70" height="2.20" fill="#472cc8"/>
<rect x="66.80" y="744.17" width="2.70" height="1.13" fill="#4629c0"/>
<rect x="75.50" y="626.48" width="2.70" height="2.20" fill="#395cfe"/>
<rect x="75.50" y="624.58" width="2.70" height="2.20" fill="#4830d2"/>
<rect x="75.50" y="624.00" width="2.70" height="0.88" fill="#462bc7"/>
<rect x="81.00" y="626.48" width="2.70" height="2.20" fill="#2966ff"/>
<rect x="81.00" y="624.58" width="2.70" height="2.20" fill="#4839e3"/>
<rect x="81.00" y="622.68" width="2.70" height="2.20" fill="#4831d4"/>
<rect x="81.00" y="622.00" width="2.70" height="0.98" fill="#4629c1"/>
<rect x="114.30" y="626.48" width="2.70" height="2.20" fill="#0078ff"/>
<rect x="114.30" y="624.58" width="2.70" height="2.20" fill="#444bf4"/>
<rect x="114.30" y="622.68" width="2.70" height="2.20" fill="#4644ef"/>
<rect x="114.30" y="620.78" width="2.70" height="2.20" fill="#4831d5"/>
<rect x="114.30" y="618.88" width="2.70" height="2.20" fill="#482fd0"/>
<rect x="114.30" y="618.00" width="2.70" height="1.18" fill="#4629c2"/>
<rect x="119.60" y="626.48" width="2.30" height="2.20" fill="#156cff"/>
<rect x="119.60" y="624.58" width="2.30" height="2.20" fill="#483ce6"/>
<rect x="119.60" y="622.68" width="2.30" height="2.20" fill="#4832d6"/>
<rect x="119.60" y="622.00" width="2.30" height="0.98" fill="#4629c2"/>
<rect x="103.00" y="711.87" width="2.70" height="2.20" fill="#0077ff"/>
<rect x="103.00" y="713.77" width="2.70" height="2.20" fill="#4150f8"/>
<rect x="103.00" y="715.67" width="2.70" height="2.20" fill="#424ff7"/>
<rect x="103.00" y="717.57" width="2.70" height="2.20" fill="#483ae4"/>
<rect x="103.00" y="719.47" width="2.70" height="2.20" fill="#4839e3"/>
<rect x="103.00" y="721.37" width="2.70" height="2.20" fill="#472fcf"/>
<rect x="103.00" y="723.27" width="2.70" height="2.20" fill="#472ece"/>
<rect x="103.00" y="725.17" width="2.70" height="2.13" fill="#4629c1"/>
<rect x="110.50" y="711.87" width="3.50" height="2.20" fill="#0082fe"/>
<rect x="110.50" y="713.77" width="3.50" height="2.20" fill="#3a5bfe"/>
<rect x="110.50" y="715.67" width="3.50" height="2.20" fill="#365eff"/>
<rect x="110.50" y="717.57" width="3.50" height="2.20" fill="#4645f0"/>
<rect x="110.50" y="719.47" width="3.50" height="2.20" fill="#4547f2"/>
<rect x="110.50" y="721.37" width="3.50" height="2.20" fill="#4837e0"/>
<rect x="110.50" y="723.27" width="3.50" height="2.20" fill="#4838e2"/>
<rect x="110.50" y="725.17" width="3.50" height="2.20" fill="#482fd0"/>
<rect x="110.50" y="727.07" width="3.50" height="2.20" fill="#4830d2"/>
<rect x="110.50" y="728.97" width="3.50" height="2.20" fill="#462ac5"/>
<rect x="110.50" y="730.87" width="3.50" height="1.43" fill="#462bc7"/>
<rect x="119.60" y="711.87" width="2.30" height="2.20" fill="#355fff"/>
<rect x="119.60" y="713.77" width="2.30" height="2.20" fill="#483ee8"/>
<rect x="119.60" y="715.67" width="2.30" height="2.20" fill="#4839e2"/>
<rect x="119.60" y="717.57" width="2.30" height="2.20" fill="#472dca"/>
<rect x="119.60" y="719.47" width="2.30" height="2.20" fill="#462bc6"/>
<rect x="119.60" y="721.37" width="2.30" height="0.93" fill="#4527bc"/>
</g></g>
<rect x="50.9" y="500.0" width="413.8" height="340.5" fill="none" stroke="#262626" stroke-width="0.7"/>
<path d="M133.66 840.5v-4M133.66 500.0v4" stroke="#262626" stroke-width="0.7"/>
<path d="M216.42 840.5v-4M216.42 500.0v4" stroke="#262626" stroke-width="0.7"/>
<path d="M299.18 840.5v-4M299.18 500.0v4" stroke="#262626" stroke-width="0.7"/>
<path d="M381.94 840.5v-4M381.94 500.0v4" stroke="#262626" stroke-width="0.7"/>
<path d="M50.9 503.45h4M464.7 503.45h-4" stroke="#262626" stroke-width="0.7"/>
<path d="M50.9 559.00h4M464.7 559.00h-4" stroke="#262626" stroke-width="0.7"/>
<path d="M50.9 614.55h4M464.7 614.55h-4" stroke="#262626" stroke-width="0.7"/>
<path d="M50.9 670.10h4M464.7 670.10h-4" stroke="#262626" stroke-width="0.7"/>
<path d="M50.9 725.65h4M464.7 725.65h-4" stroke="#262626" stroke-width="0.7"/>
<path d="M50.9 781.20h4M464.7 781.20h-4" stroke="#262626" stroke-width="0.7"/>
<path d="M50.9 836.75h4M464.7 836.75h-4" stroke="#262626" stroke-width="0.7"/>
<rect x="479.5" y="500.0" width="20.0" height="340.5" fill="url(#pg)" stroke="#262626" stroke-width="0.7"/>
<path d="M499.5 519.60h-3" stroke="#262626" stroke-width="0.8"/>
<path d="M499.5 573.10h-3" stroke="#262626" stroke-width="0.8"/>
<path d="M499.5 626.60h-3" stroke="#262626" stroke-width="0.8"/>
<path d="M499.5 680.10h-3" stroke="#262626" stroke-width="0.8"/>
<path d="M499.5 733.60h-3" stroke="#262626" stroke-width="0.8"/>
<path d="M499.5 787.10h-3" stroke="#262626" stroke-width="0.8"/>
<g>
<text x="257.4" y="19.7" font-size="14" text-anchor="middle" font-weight="bold" fill="#000">Scenario1: f = 850 MHz, FR1, Case A, SSB=4</text>
<text x="258" y="493.7" font-size="14" text-anchor="middle" font-weight="bold" fill="#000">Scenario 2: f= 850 Mhz, FR1, Case B ,SSB = 4</text>
<text x="50.9" y="402.6" font-size="12.7" text-anchor="middle" font-weight="normal" fill="#262626">0</text>
<text x="119.9" y="402.6" font-size="12.7" text-anchor="middle" font-weight="normal" fill="#262626">0.5</text>
<text x="188.8" y="402.6" font-size="12.7" text-anchor="middle" font-weight="normal" fill="#262626">1</text>
<text x="257.8" y="402.6" font-size="12.7" text-anchor="middle" font-weight="normal" fill="#262626">1.5</text>
<text x="326.8" y="402.6" font-size="12.7" text-anchor="middle" font-weight="normal" fill="#262626">2</text>
<text x="395.7" y="402.6" font-size="12.7" text-anchor="middle" font-weight="normal" fill="#262626">2.5</text>
<text x="464.7" y="402.6" font-size="12.7" text-anchor="middle" font-weight="normal" fill="#262626">3</text>
<text x="44.8" y="31.4" font-size="12.7" text-anchor="end" font-weight="normal" fill="#262626">4</text>
<text x="44.8" y="76.1" font-size="12.7" text-anchor="end" font-weight="normal" fill="#262626">3</text>
<text x="44.8" y="120.8" font-size="12.7" text-anchor="end" font-weight="normal" fill="#262626">2</text>
<text x="44.8" y="165.5" font-size="12.7" text-anchor="end" font-weight="normal" fill="#262626">1</text>
<text x="44.8" y="210.2" font-size="12.7" text-anchor="end" font-weight="normal" fill="#262626">0</text>
<text x="44.8" y="254.8" font-size="12.7" text-anchor="end" font-weight="normal" fill="#262626">-1</text>
<text x="44.8" y="299.5" font-size="12.7" text-anchor="end" font-weight="normal" fill="#262626">-2</text>
<text x="44.8" y="344.2" font-size="12.7" text-anchor="end" font-weight="normal" fill="#262626">-3</text>
<text x="44.8" y="388.9" font-size="12.7" text-anchor="end" font-weight="normal" fill="#262626">-4</text>
<text x="50.9" y="859.6" font-size="12.7" text-anchor="middle" font-weight="normal" fill="#262626">0</text>
<text x="133.7" y="859.6" font-size="12.7" text-anchor="middle" font-weight="normal" fill="#262626">1</text>
<text x="216.4" y="859.6" font-size="12.7" text-anchor="middle" font-weight="normal" fill="#262626">2</text>
<text x="299.2" y="859.6" font-size="12.7" text-anchor="middle" font-weight="normal" fill="#262626">3</text>
<text x="381.9" y="859.6" font-size="12.7" text-anchor="middle" font-weight="normal" fill="#262626">4</text>
<text x="464.7" y="859.6" font-size="12.7" text-anchor="middle" font-weight="normal" fill="#262626">5</text>
<text x="44.8" y="508.8" font-size="12.7" text-anchor="end" font-weight="normal" fill="#262626">15</text>
<text x="44.8" y="564.3" font-size="12.7" text-anchor="end" font-weight="normal" fill="#262626">10</text>
<text x="44.8" y="619.9" font-size="12.7" text-anchor="end" font-weight="normal" fill="#262626">5</text>
<text x="44.8" y="675.4" font-size="12.7" text-anchor="end" font-weight="normal" fill="#262626">0</text>
<text x="44.8" y="730.9" font-size="12.7" text-anchor="end" font-weight="normal" fill="#262626">-5</text>
<text x="44.8" y="786.5" font-size="12.7" text-anchor="end" font-weight="normal" fill="#262626">-10</text>
<text x="44.8" y="842.0" font-size="12.7" text-anchor="end" font-weight="normal" fill="#262626">-15</text>
<text x="258" y="420.8" font-size="14" text-anchor="middle" font-weight="normal" fill="#262626">Time (ms)</text>
<text x="258" y="877.8" font-size="14" text-anchor="middle" font-weight="normal" fill="#262626">Time (ms)</text>
<text transform="translate(26.2,204.7) rotate(-90)" font-size="14" text-anchor="middle" fill="#262626">Frequency (MHz)</text>
<text transform="translate(17.9,670.1) rotate(-90)" font-size="14" text-anchor="middle" fill="#262626">Frequency (MHz)</text>
<text x="505" y="46.6" font-size="11.8" text-anchor="start" font-weight="normal" fill="#262626">-95</text>
<text x="505" y="95.3" font-size="11.8" text-anchor="start" font-weight="normal" fill="#262626">-100</text>
<text x="505" y="144.1" font-size="11.8" text-anchor="start" font-weight="normal" fill="#262626">-105</text>
<text x="505" y="192.8" font-size="11.8" text-anchor="start" font-weight="normal" fill="#262626">-110</text>
<text x="505" y="241.6" font-size="11.8" text-anchor="start" font-weight="normal" fill="#262626">-115</text>
<text x="505" y="290.4" font-size="11.8" text-anchor="start" font-weight="normal" fill="#262626">-120</text>
<text x="505" y="339.1" font-size="11.8" text-anchor="start" font-weight="normal" fill="#262626">-125</text>
<text x="505" y="524.2" font-size="11.8" text-anchor="start" font-weight="normal" fill="#262626">-100</text>
<text x="505" y="577.7" font-size="11.8" text-anchor="start" font-weight="normal" fill="#262626">-105</text>
<text x="505" y="631.2" font-size="11.8" text-anchor="start" font-weight="normal" fill="#262626">-110</text>
<text x="505" y="684.7" font-size="11.8" text-anchor="start" font-weight="normal" fill="#262626">-115</text>
<text x="505" y="738.2" font-size="11.8" text-anchor="start" font-weight="normal" fill="#262626">-120</text>
<text x="505" y="791.7" font-size="11.8" text-anchor="start" font-weight="normal" fill="#262626">-125</text>
<text transform="translate(544,205) rotate(-90)" font-size="11.4" text-anchor="middle" fill="#262626">Power/frequency (dB/Hz)</text>
<text transform="translate(544,670) rotate(-90)" font-size="11.4" text-anchor="middle" fill="#262626">Power/frequency (dB/Hz)</text>
<text x="278.7" y="457" font-size="17.5" text-anchor="middle" fill="#000" style="font-family:'Liberation Serif','DejaVu Serif',serif">(<tspan font-weight="bold">a</tspan>)</text>
<text x="278.4" y="913.2" font-size="17.5" text-anchor="middle" fill="#000" style="font-family:'Liberation Serif','DejaVu Serif',serif">(<tspan font-weight="bold">b</tspan>)</text>
</g>
</svg>
</body></html>
